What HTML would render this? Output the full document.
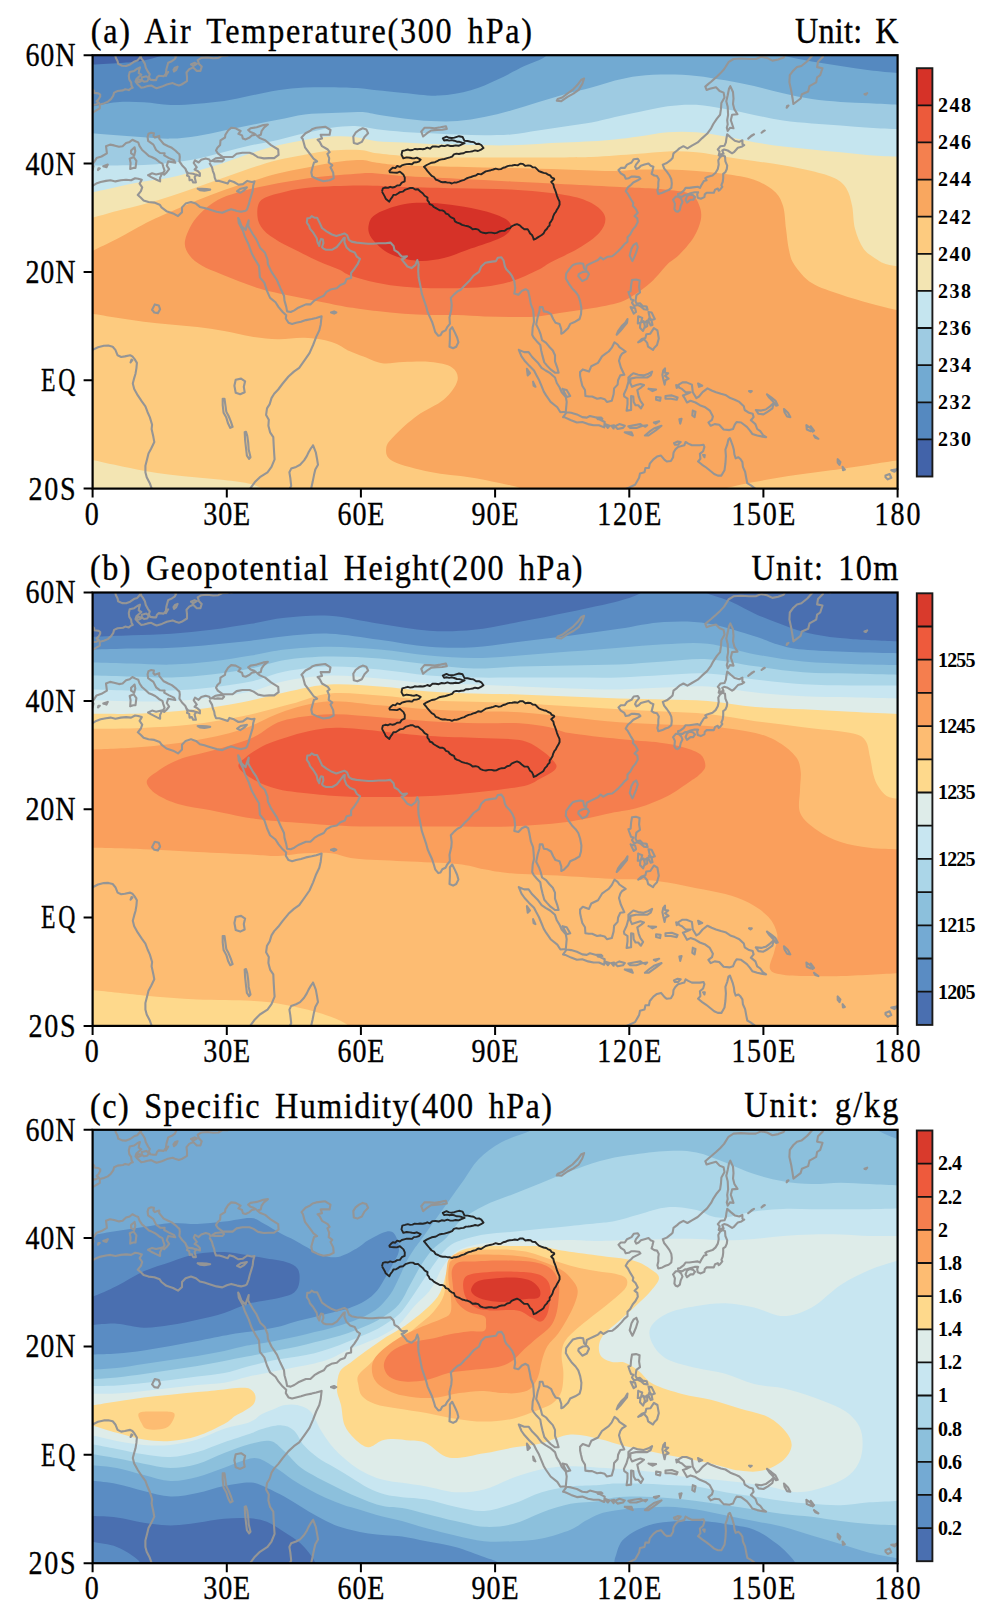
<!DOCTYPE html>
<html><head><meta charset="utf-8"><title>Figure</title><style>html,body{margin:0;padding:0;background:#fff}svg{display:block}</style></head><body>
<svg width="1006" height="1621" viewBox="0 0 1006 1621" font-family="&quot;Liberation Serif&quot;, serif">
<clipPath id="cp0"><rect x="92.6" y="55.2" width="805" height="433.4"/></clipPath>
<g clip-path="url(#cp0)">
<rect x="92.6" y="55.2" width="805" height="433.4" fill="#4263a9"/>
<path fill="#5589c0" d="M86 65C87.1 64.9 86.4 64.9 92.7 64.5C99 64.1 116 63.2 123.8 62.7C131.6 62.2 134.4 62.1 139.7 61.2C145 60.3 151.4 58.6 155.6 57.5C159.8 56.4 162.3 55.8 165 54.5C167.7 53.2 170.8 50.8 172 50L172 46L906 46L906 498L84 498L84 65Z"/>
<path fill="#72aad2" d="M84 107C85.5 106.9 87.2 107.2 92.7 106.4C98.2 105.6 108.3 103 116.8 102.3C125.3 101.6 134.8 101.8 143.7 102.3C152.6 102.8 161.6 104.8 170.5 105C179.4 105.2 188.5 104.4 197.4 103.7C206.3 103 215.3 102.3 224.2 101C233.1 99.7 242.1 97.4 251 95.6C259.9 93.8 268.9 91.6 277.9 90.3C286.8 89 295.8 88.1 304.7 87.6C313.6 87.1 322.3 87.1 331.5 87.2C340.7 87.3 352.4 87.7 360 88.2C367.6 88.7 369.5 89.5 376.8 90.3C384.1 91.1 393.4 92 403.7 92.9C414 93.8 427.4 96 438.6 95.6C449.8 95.2 461 93 470.8 90.3C480.6 87.6 488.7 83.5 497.6 79.5C506.5 75.5 516.8 69.7 524.4 66.1C532 62.5 538.6 60.7 543.2 58C547.8 55.3 550.5 51.3 552 50L762 48C763.6 49 767.9 53 771.4 54.3C774.9 55.6 776.3 54.6 783 55.8C789.7 57 802.2 59.8 811.8 61.5C821.4 63.2 831 64.5 840.6 65.9C850.2 67.4 859.8 69 869.4 70.2C879 71.4 892.2 72.5 898.3 73.1C904.4 73.7 904.7 73.8 906 74L906 498L84 498Z"/>
<path fill="#9ecbe2" d="M84 133C85.5 133 87.2 132.8 92.7 133.2C98.2 133.6 108.3 134.6 116.8 135.3C125.3 136 134.8 136.6 143.7 137.2C152.6 137.8 161.6 138.8 170.5 138.6C179.4 138.4 188.5 137.2 197.4 135.9C206.3 134.6 215.3 132.3 224.2 130.5C233.1 128.7 242.1 126.9 251 125.1C259.9 123.3 268.9 121.6 277.9 119.8C286.8 118 295.8 115.5 304.7 114.4C313.6 113.3 322.3 113.5 331.5 113.1C340.7 112.7 352.4 111.8 360 112C367.6 112.2 369.5 113.3 376.8 114.4C384.1 115.5 394.8 117.3 403.7 118.4C412.6 119.5 421.6 120.6 430.5 121.1C439.4 121.5 448.4 121.8 457.4 121.1C466.3 120.4 475.3 118.9 484.2 117.1C493.1 115.3 502.1 112.9 511 110.4C520 107.9 528.9 105 537.9 102.3C546.9 99.6 555.8 96.8 564.7 94.3C573.6 91.8 583.1 89.9 591.5 87.6C599.9 85.3 607.1 82.5 615 80.5C622.9 78.5 630 76.9 638.8 75.9C647.6 74.9 658.1 74.5 667.7 74.5C677.3 74.5 686.9 74.9 696.5 75.9C706.1 76.9 715.7 78.6 725.3 80.3C734.9 82 744.5 83.8 754.1 86C763.7 88.2 773.4 91 783 93.2C792.6 95.4 802.2 97.5 811.8 99C821.4 100.5 831 101.2 840.6 101.9C850.2 102.6 859.8 102.8 869.4 103.3C879 103.8 892.2 104.5 898.3 104.8C904.4 105.1 904.7 105 906 105L906 498L84 498Z"/>
<path fill="#c5e5ef" d="M84 165.4C85.5 165.4 87.2 165.4 92.7 165.4C98.2 165.4 108.3 165.5 116.8 165.4C125.3 165.3 134.8 165.4 143.7 165C152.6 164.6 161.6 163.8 170.5 162.7C179.4 161.6 188.5 160.5 197.4 158.7C206.3 156.9 215.3 154.2 224.2 152C233.1 149.8 242.1 147.3 251 145.3C259.9 143.3 268.9 141.9 277.9 139.9C286.8 137.9 295.8 135.2 304.7 133.2C313.6 131.2 323.1 129 331.5 127.8C339.9 126.6 347.4 125.8 355 126C362.6 126.2 368.7 128.2 376.8 129.2C384.9 130.2 394.8 131.2 403.7 131.9C412.6 132.6 421.6 132.8 430.5 133.2C439.4 133.6 448.4 134.2 457.4 134.5C466.3 134.8 475.3 135.3 484.2 135.3C493.1 135.3 502.1 135.3 511 134.5C520 133.7 528.9 131.8 537.9 130.5C546.9 129.2 555.8 127.8 564.7 126.5C573.6 125.2 583.1 124.1 591.5 122.5C599.9 120.9 607.1 118.8 615 117C622.9 115.2 630 113.8 638.8 112C647.6 110.2 658.1 107.4 667.7 106.2C677.3 105 686.9 104.3 696.5 104.8C706.1 105.3 715.7 107.4 725.3 109.1C734.9 110.8 744.5 113 754.1 114.9C763.7 116.8 773.4 119.2 783 120.6C792.6 122 802.2 122.7 811.8 123.5C821.4 124.3 831 124.8 840.6 125.5C850.2 126.2 859.8 127.2 869.4 127.8C879 128.4 892.2 129 898.3 129.3C904.4 129.6 904.7 129.5 906 129.5L906 498L84 498Z"/>
<path fill="#f3e5b3" d="M84 193.5C85.5 193.3 87.2 193.3 92.7 192.2C98.2 191.1 108.3 188.7 116.8 186.9C125.3 185.1 134.8 183.1 143.7 181.5C152.6 179.9 161.6 179.3 170.5 177.5C179.4 175.7 188.5 173.3 197.4 170.8C206.3 168.3 215.3 165.6 224.2 162.7C233.1 159.8 242.1 156.2 251 153.3C259.9 150.4 268.9 147.5 277.9 145.3C286.8 143.1 295.8 141.4 304.7 139.9C313.6 138.4 323.1 137 331.5 136.5C339.9 136 347.4 136.2 355 137C362.6 137.8 368.7 140.4 376.8 141.3C384.9 142.2 394.8 142.2 403.7 142.6C412.6 143 421.6 143.6 430.5 143.9C439.4 144.2 448.4 144.3 457.4 144.5C466.3 144.7 475.3 145.2 484.2 145.3C493.1 145.4 502.1 145.5 511 145.3C520 145.1 528.9 144.4 537.9 143.9C546.9 143.4 555.8 143 564.7 142.6C573.6 142.2 583.1 141.8 591.5 141.3C599.9 140.8 607.1 140.3 615 139.5C622.9 138.7 630 137.7 638.8 136.5C647.6 135.3 658.1 132.9 667.7 132.2C677.3 131.5 686.9 131.5 696.5 132.2C706.1 132.9 715.7 134.8 725.3 136.5C734.9 138.2 744.5 140.5 754.1 142.2C763.7 143.9 773.4 145.4 783 146.6C792.6 147.8 802.2 148.6 811.8 149.5C821.4 150.4 831 151.4 840.6 152.3C850.2 153.2 859.8 154.5 869.4 155.2C879 155.9 892.2 156.4 898.3 156.7C904.4 157 904.7 156.9 906 157L906 498L84 498Z"/>
<path fill="#fdcb7f" d="M84 219.5C85.5 219.2 87.2 219.1 92.7 217.7C98.2 216.3 108.3 213.2 116.8 211C125.3 208.8 134.8 206.8 143.7 204.3C152.6 201.9 161.6 199.2 170.5 196.3C179.4 193.4 188.5 190 197.4 186.9C206.3 183.8 215.3 180.6 224.2 177.5C233.1 174.4 242.1 171 251 168.1C259.9 165.2 268.9 162.2 277.9 160C286.8 157.8 295.8 156.3 304.7 154.7C313.6 153.1 322.3 151.4 331.5 150.6C340.7 149.8 352.4 149.6 360 150C367.6 150.4 369.5 152.3 376.8 153.3C384.1 154.3 394.8 155.3 403.7 156C412.6 156.7 421.6 157.2 430.5 157.4C439.4 157.6 444 157.4 457.4 157.4C470.8 157.4 493.1 157.4 511 157.4C528.9 157.4 551.3 157.5 564.7 157.4C578.1 157.3 583.1 157.3 591.5 157C599.9 156.7 607.1 156 615 155.5C622.9 155 630 154.5 638.8 153.8C647.6 153.1 658.1 151.8 667.7 151.5C677.3 151.2 686.9 151.4 696.5 152.3C706.1 153.2 715.7 155.2 725.3 156.7C734.9 158.1 744.5 159.6 754.1 161C763.7 162.4 773.4 163.6 783 165.3C792.6 167 803.2 168.9 811.8 171.1C820.4 173.3 829 175.4 834.8 178.3C840.6 181.2 843.5 183.8 846.4 188.4C849.3 193 850.7 199 852.1 205.7C853.5 212.4 853.1 221.5 855 228.7C856.9 235.9 859.9 243.7 863.7 248.9C867.6 254.2 874.3 257.6 878.1 260.2C881.9 262.8 883.3 263.2 886.7 264.3C890.1 265.4 895.1 266.1 898.3 266.5C901.5 266.9 904.7 266.9 906 267L906 498L272 498L270 495C269.1 494.2 267.7 491.8 264.5 490C261.3 488.2 257.7 485.8 251 484.1C244.3 482.5 233.1 481.2 224.2 480.1C215.3 479 206.3 478.3 197.4 477.4C188.5 476.5 179.4 475.8 170.5 474.7C161.6 473.6 152.6 472.3 143.7 470.7C134.8 469.1 125.3 467.1 116.8 465.3C108.3 463.5 98.2 461.2 92.7 460C87.2 458.8 85.5 458.3 84 458Z"/>
<path fill="#f9a75f" d="M84 258C85.5 256.8 87.2 254.2 92.7 251C98.2 247.8 107.2 244 116.8 239C126.3 234 141.1 225.5 150 221C158.9 216.5 162.1 215.3 170 211.9C177.9 208.5 188.4 204 197.4 200.3C206.4 196.7 215.3 193.1 224.2 190C233.1 186.9 242.1 184.2 251 181.5C259.9 178.8 268.9 175.7 277.9 173.5C286.8 171.3 295.8 169.9 304.7 168.1C313.6 166.3 322.3 164 331.5 162.7C340.7 161.3 352.4 160 360 160C367.6 160 369.5 161.8 376.8 162.7C384.1 163.6 390.3 164.7 403.7 165.4C417.1 166.1 439.5 166.2 457.4 166.7C475.3 167.1 493.1 167.6 511 168.1C528.9 168.6 547.4 168.9 564.7 169.4C582 169.9 602.6 171 615 171C627.4 171 630 169.8 638.8 169.6C647.6 169.4 658.1 169.3 667.7 169.6C677.3 169.8 686.9 170.4 696.5 171.1C706.1 171.8 715.7 172.6 725.3 174C734.9 175.4 745.9 176.8 754.1 179.7C762.3 182.6 769.5 187 774.3 191.3C779.1 195.6 781 199.5 783 205.7C785 211.9 785 221.3 786 228.7C787 236.1 787.6 243.9 789 250C790.4 256.1 790.7 259.5 794.5 265C798.3 270.5 804.1 278.2 811.8 283.1C819.5 288 831 291.2 840.6 294.6C850.2 298 859.8 300.6 869.4 303.2C879 305.8 892.2 309 898.3 310.4C904.4 311.8 904.7 311.3 906 311.5L906 459.5C904.7 459.6 904.4 459.4 898.3 460.3C892.2 461.2 879 463.2 869.4 464.7C859.8 466.1 852.6 467.3 840.6 469C828.6 470.7 811.8 472.6 797.4 474.8C783 477 767.1 479.5 754.1 482C741.1 484.5 726.5 487.7 719.5 490C712.5 492.3 713.2 495 712 496L712 498L530 498L530 496C529.1 495 527.6 491.8 524.4 490C521.2 488.2 519.9 487.5 511 485.4C502.1 483.3 484.2 479.6 470.8 477.4C457.4 475.2 443.5 474.7 430.5 472C417.5 469.3 400.3 465.3 392.9 461.3C385.5 457.3 385.8 452.4 386.2 447.9C386.6 443.4 390.5 439.9 395.6 434.5C400.8 429.1 409.1 421.5 417.1 415.7C425.2 409.9 437.2 405.4 443.9 399.6C450.6 393.8 456 386.2 457.4 380.8C458.8 375.4 456.5 370.5 452 367.4C447.5 364.3 438.6 362.9 430.5 362C422.4 361.1 411.8 361.8 403.7 362C395.6 362.2 388.9 364.2 382.2 363.3C375.5 362.4 368.8 358.6 363.4 356.6C358 354.6 355.3 353.8 350 351.3C344.7 348.9 339.1 344.1 331.5 341.9C323.9 339.6 313.6 338.2 304.7 337.8C295.8 337.4 286.8 339.4 277.9 339.2C268.9 339 259.9 337.9 251 336.5C242.1 335.1 233.1 332.7 224.2 331.1C215.3 329.5 206.3 328.2 197.4 327.1C188.5 326 179.4 325.3 170.5 324.4C161.6 323.5 152.6 322.8 143.7 321.7C134.8 320.6 125.3 319 116.8 317.7C108.3 316.4 98.2 314.6 92.7 313.7C87.2 312.8 85.5 312.7 84 312.5Z"/>
<path fill="#f4804f" d="M184.8 243.7C184.8 239 187.3 232.8 189.8 227.8C192.3 222.8 195.1 218.5 199.7 213.9C204.3 209.3 211.3 203.6 217.6 200C223.9 196.4 229.8 194.8 237.6 192.5C245.4 190.2 255.6 187.9 264.5 186C273.4 184.1 282.4 182.5 291.3 181C300.2 179.5 306.7 178.2 318.1 177C329.6 175.8 350.2 174.1 360 173.5C369.8 172.9 369.5 173.1 376.8 173.5C384.1 173.9 390.3 175.2 403.7 176.1C417.1 177 439.5 177.9 457.4 178.8C475.3 179.7 493.1 180.6 511 181.5C528.9 182.4 546.5 183.3 564.7 184.2C582.9 185.1 607.6 186.3 620 186.9C632.4 187.5 630.8 187.3 638.8 187.8C646.8 188.3 659.1 188.8 667.7 189.8C676.4 190.9 685.4 191.4 690.7 194.1C696 196.8 697.7 201.4 699.4 205.7C701.1 210 701.8 214.8 700.8 220.1C699.8 225.4 697.2 231.6 693.6 237.4C690 243.2 683.5 250.3 679.2 254.7C674.9 259.1 672 259.8 667.7 264C663.4 268.2 658 275.6 653.2 280.2C648.4 284.8 643.6 288.3 638.8 291.7C634 295.1 629.2 298.2 624.4 300.4C619.6 302.6 615.5 303.4 610 304.7C604.5 306 599 307 591.5 308.3C584 309.6 573.6 311 564.7 312.3C555.8 313.6 546.9 315.6 537.9 316.4C528.9 317.2 520 316.9 511 316.9C502.1 316.9 493.1 316.7 484.2 316.4C475.3 316.1 466.3 315.2 457.4 315C448.4 314.8 439.4 315.2 430.5 315C421.6 314.8 412.6 314.4 403.7 313.7C394.8 313 385.8 312.1 376.8 311C367.9 309.9 356.3 308.3 350 307.4C343.7 306.5 344.1 306.4 338.9 305.4C333.7 304.4 325.6 302.7 319 301.4C312.4 300.1 305.7 298.7 299.1 297.4C292.5 296.1 285.8 294.9 279.2 293.4C272.6 291.9 265.9 290.5 259.3 288.5C252.7 286.5 246.1 284 239.5 281.5C232.9 279 225.9 276.2 219.6 273.6C213.3 271 206.7 268.6 201.7 265.6C196.7 262.6 192.6 259.4 189.8 255.7C187 252 184.8 248.3 184.8 243.7Z"/>
<path fill="#ec5a3b" d="M257.4 215.9C257.1 210.9 257 203.9 261.3 200C265.6 196.1 275.1 194.3 283.2 192.2C291.3 190.1 297.3 188.6 310.1 187.5C322.9 186.4 344.4 185.6 360 185.5C375.6 185.4 387.5 186.5 403.7 186.9C419.9 187.3 439.5 187.8 457.4 188.2C475.3 188.6 493.1 188.5 511 189.6C528.9 190.7 551.3 192.7 564.7 194.9C578.1 197.1 584.8 199.4 591.5 203C598.2 206.6 603.6 211.5 605 216.4C606.4 221.3 604.1 227.1 599.6 232.5C595.1 237.9 586.2 243.7 578.1 248.6C570 253.5 558 258.4 551.3 262C544.6 265.6 544.6 266.9 537.9 270.1C531.2 273.4 520 278.7 511 281.5C502.1 284.3 493.1 285.7 484.2 286.8C475.3 287.9 466.3 288 457.4 288.2C448.4 288.4 439.4 288.4 430.5 288.2C421.6 288 412.6 287.7 403.7 286.8C394.8 285.9 385.8 284.7 376.8 282.8C367.9 280.9 356.3 277.7 350 275.5C343.7 273.3 344.1 271.9 338.9 269.6C333.7 267.3 325.6 264.6 319 261.6C312.4 258.6 305.7 255 299.1 251.7C292.5 248.4 285.2 245.3 279.2 241.7C273.2 238 266.9 234.1 263.3 229.8C259.7 225.5 257.7 220.9 257.4 215.9Z"/>
<path fill="#d63228" d="M368.8 224.4C369.7 220.4 371 217 376.8 213.7C382.6 210.3 394.8 206.1 403.7 204.3C412.6 202.5 421.6 202.8 430.5 203C439.4 203.2 448.4 204.4 457.4 205.7C466.3 207 476.1 208.8 484.2 211C492.2 213.2 501.2 216.2 505.7 219.1C510.2 222 511.9 225.4 511 228.5C510.1 231.6 507 234.6 500.3 237.9C493.6 241.2 480.2 245.2 470.8 248.6C461.4 251.9 452.8 256 443.9 258C434.9 260 426 261.4 417.1 260.7C408.2 260 397.9 257.8 390.3 254C382.7 250.2 375.1 242.8 371.5 237.9C367.9 233 367.9 228.4 368.8 224.4Z"/>
<path d="M92.6 105L96.2 104.5L98.9 102.9L96.6 101.2L98.4 99.6L100.2 96.4L100.2 94.7L98.4 93.4L93.9 92.9L94.2 91L92.6 89.6M92.6 112.6L97.1 109.9L99.8 108.3L99.8 104.5L103.8 103.4L107.8 101.8L110.9 99.1L113.2 95.8L114.1 92.6L117.6 91L123 90.4L125.2 89.3L128.8 90.1L131.1 88.2L132.8 87.7L131.5 85.5L131.1 82.3L129.3 79.6L128.8 75.8L129.7 72L134.2 70.9L137.3 68.7L140 67.4L139.1 70.4L138.7 73.1L141.3 74.7L138.7 76.9L136.4 79L135.5 81.7L137.3 83.9L141.3 87.7L144 87.2L147.6 86.1L151.2 85.5L154.3 87.2L156.6 88.2L161.9 86.6L166.8 84.5L172.7 83.1L175.8 84.5L178.9 85.5L181.6 84.5L187 81.2L187 76.9L186.5 72.5L189.2 69.3L193.2 67.4L196.8 70.9L200.4 70.9L201.7 66.6L199 63.9L197.7 60.1L201.3 57.9L207.1 57.4L213.3 58.2L218.3 57.9L222.3 55.7L227.7 55.5L223.6 54.4L220.1 52.5M141.8 77.4L146.3 76.3L148.9 78.5L147.2 81.2L144 81.7L141.8 80.1L141.8 77.4M136.4 79.6L139.6 79.6L140.9 81.2L138.7 82.3L136.4 81.2L136.4 79.6M115 54.1L115.9 57.9L117.6 61.2L118.1 63.9L122.1 65.8L126.1 66L130.2 64.4L134.6 61.4L137.3 60.6L139.6 57.9L140.7 55.7L141.3 58.5L142.7 60.1L144.9 63.9L145.8 67.7L148.1 72L149.8 74.2L148.9 76.9L150.3 79.6L153.4 80.1L156.1 80.1L157 77.4L158.8 75.8L163.7 76.3L165.9 73.6L166.4 69.3L167.3 66L168.2 62.8L171.8 61.2L174.9 59L176.2 56.3L172.7 54.1L170.9 51.4M174 71.5L176.2 69.8L177.6 66.6L174.9 67.7L173.5 69.8L174 71.5M165.9 75.8L168.2 72L166.8 73.1L165.9 75.8M191 64.4L194.6 62.8L196.8 63.9L193.2 66L191 64.4M226.8 52.5L231.2 55.2L237.9 53.6L239.3 50.3L235.7 48.7M92.6 170.1L93.5 166.3L92.6 164.1L94.8 160.8L96.6 158.1L101.5 156.5L106.9 153.3L106.5 150L106 146.2L110 144.6L114.1 145.4L119 146.8L122.6 146.2L126.1 143L129.7 141.9L132.4 139.7L135.5 141.3L138.2 142.4L139.6 146.2L142.2 150L145.4 152.7L148.9 156L151.6 157L155.2 158.7L157.4 160.3L159.2 161.9L162.4 163.6L163.3 166.8L164.6 170.6L162.8 173.3L164.2 174.7L166.8 172.2L169.1 169.2L166.8 165.7L168.2 161.4L170.9 161.9L175.3 162.7L174 160.3L169.1 158.1L164.2 155.4L164.6 153.3L160.1 153L156.1 150L153.4 144.6L148.1 140.8L147.6 137L148.5 133.8L151.2 132.7L153.9 133.2L153.4 135.9L154.8 137.5L159.2 135.9L159.2 138.6L163.7 144L168.2 146.2L171.8 147.8L175.3 150.5L177.6 152.7L179.4 154.3L179.8 157L179.4 161.4L182 165.2L185.2 168.4L187 172.8L189.2 173.3L193.2 173.8L196.4 174.9L194.6 177.1L195.9 182.5L193.2 182.5L191.9 179.8L189.6 180.3L189.2 176.6L187 175.5L187.9 172.8L186.5 171.1L185.6 169M196.4 174.7L199.9 176L199.9 173.3L197.7 171.1L194.6 169.5L196.8 167.3L193.7 163L195 160.3L198.6 162.5L201.3 159.8L205.7 158.4L209.3 159.5L210.2 161.4L212 160.8L214.7 161.4L217.8 161.1L222.3 161.4L224.1 159.5L222.3 157.6L217.8 158.1L215.6 158.4L212.5 160.3M209.8 163.6L212 167.3L212.9 171.1L214.2 174.4L214.7 177.6L216 180.9L219.2 180.9L222.7 182L227.7 183.6L229.4 180.6L233.9 182L238.4 184.7L242.9 184.1L247.3 180.9L251.8 182L254.5 181.4L253.2 185.8L252.7 190.6L251.4 195L249.6 200.9L248.7 204.7L246.9 209.6L245.6 210.7L241.1 211.8L237.1 211L231.2 209.3L226.8 210.7L222.3 212.8L216.5 211.8L208 209.1L204.4 208L199.9 206.9L195.9 203.6L191 202L185.6 203.6L182 207.4L182 212.3L178 216.1L173.1 213.4L166.4 211.2L161.5 207.4L159.7 204.7L154.3 202.6L148.5 202L143.6 200.4L140.9 197.7L137.8 195L140.9 191.2L142.2 187.4L139.6 183.6L141.8 179.8L138.2 178.7L135.1 178.2L131.1 180.3L126.1 179.8L120.8 180.3L115.4 181.4L110.5 180.3L106 180.9L100.6 182L96.2 183.6L92.6 185.8M148.1 175.2L152.1 173.3L156.1 174.4L162.4 173L160.1 177.6L160.1 181.4L156.6 179.8L151.2 177.1L148.1 175.2M130.2 169L133.3 167.9L135.5 167.9L136.4 160.8L133.7 157L129.7 158.7L130.6 163L130.2 169M131.1 153.3L134.2 155.4L135.3 151.1L134.6 147.3L131.1 150.5L131.1 153.3M197.7 188.7L201.7 188.7L206.6 189L210.2 189.6L204.4 190.6L199.9 190.1L197.7 188.7M237.1 191.2L240.6 188.7L246.9 187.4L244.2 190.4L240.2 192.8L237.1 191.2M98 170.1L99.8 168.4L98.4 168.4L98 170.1M103.3 166.3L107.8 164.6L106.5 167.3L103.3 166.3M217.8 153.3L216 150.5L217.4 147.8L220.1 145.1L220.5 140.3L225 137.5L225.4 134.8L228.1 130.5L231.2 127.8L235.7 128.3L240.6 131L238.4 133.8L242 135.4L242.9 138.6L245.6 139.4L249.6 137.5L251.8 135.4L255.8 134.6L253.6 133.2L250.5 132.1L248.2 130L250.5 128.3L256.7 127.3L263.4 125.1L267.9 124.5L263.9 127.8L261.6 131L260.8 134.8L257.2 135.9L259.9 138.1L265.2 140.3L271 145.1L278.2 149.5L278.6 154.9L274.2 158.1L269.3 158.1L263.9 158.4L258.1 157.3L253.6 154.3L249.6 152.7L242.4 152.7L236.6 153.8L232.6 157L226.8 157L222.7 156.8L217.8 153.3M302.8 139.2L305 147.3L309.9 153.8L313.5 158.7L317.1 161.4L314 162.5L312.6 167.3L311.3 172.2L312.2 176.6L317.6 179.3L323.4 181.2L329.6 180.3L333.7 178.2L333.2 172.8L330.5 167.3L332.3 165.2L328.7 162.5L329.2 158.1L327.4 153.8L329.6 152.2L327.8 149.5L322 146.2L319.8 141.9L317.6 139.7L322 138.6L320.7 134.8L329.6 134.8L330.5 130L325.2 126.7L316.2 127.8L312.6 128.9L309.9 131L305.5 133.2L301.5 137.5L302.8 139.2M353.3 136.5L355.6 132.7L359.1 130L362.7 128.3L366.3 129.4L368.1 133.2L364.5 137L361.8 141.9L357.4 144L353.8 143L353.3 136.5M421.3 131.6L424.4 127.8L429.8 127.8L434.7 128.3L440.5 127.3L445.9 126.2L446.8 128.9L442.3 129.7L437 130L431.1 130.5L427.1 133.2L423.1 136.5L421.3 131.6M556.8 100.7L561.3 101.2L567.5 96.9L573.4 93.7L578.7 89.9L582.3 83.9L584.1 78.5L581.4 79.6L577.8 84.5L572.5 89.9L568 93.1L562.2 97.5L557.7 99.1L556.8 100.7M92.6 349.9L98 347.2L103.8 345.8L108.3 345.6L112.7 346.7L115.4 349.9L117.6 355.3L121.2 357L124.8 356.4L130.2 355.3L132.4 356.4L134.6 359.1L136.9 362.9L136.4 368.3L135.5 373.7L134.2 378.1L132.8 383.5L134.2 388.9L137.8 395.4L141.8 401.4L145.4 406.3L147.6 412.2L149.8 417.1L152.1 424.7L151.6 429L153.4 437.1L154.3 442L151.2 448.5L148.5 453.4L147.2 458.8L145.4 465.8L145.4 472.3L146.7 477.2L149.8 483.2L152.1 489.7M130.6 362.4L132.4 360.2L131.5 359.7L130.6 362.4M238.2 218L238.8 223.1L242.9 230.7L244.7 236.1L248.7 244.8L251.8 253.5L255.4 260L259 265.9L259.9 277.3L264.3 282.7L267 290.9L270.1 297.9L275.5 302.2L278.6 307.1L282.7 312L286.2 315.2L285.8 318.5L288.5 322.8L292.1 323.9L296.1 322.8L301 321.7L305.9 320.1L311.7 319L316.2 317.9L321.6 316.3L321.1 320.7L320.7 324.4L319.3 330.4L316.2 336.9L313.1 345L309.5 353.2L305 359.7L299.2 367.8L293.9 371.6L288.5 376.5L282.7 383.5L278.2 389.5L274.2 393.8L271.5 398.1L269.7 404.1L267 408.4L266.1 414.9L268.8 419.8L268.4 425.8L270.1 432.3L273.3 437.1L273.7 445.3L274.2 453.9L274.6 459.3L271.5 466.9L267.5 472.3L259.9 477.2L254.9 482.1L250.5 488.1L248.7 491.3M313.1 445.3L315.8 452.3L317.1 459.3L318 464.8L315.3 469.6L314 475.1L312.6 482.1L310.4 491.9L308.2 499.4L289.4 499.4L288.5 491.3L291.2 485.9L290.3 477.8L289.4 472.3L291.2 468.6L296.1 466.9L300.1 464.8L304.1 460.4L306.8 456.1L308.6 452.3L310.8 448.5L313.1 445.3M331 312.5L334.1 311.4L336.3 312.5L334.1 313.6L331 312.5M152.1 309.8L154.8 304.4L158.8 305.5L160.1 309.3L157.9 313.1L154.3 312.5L152.1 309.8M234.4 385.7L235.7 379.7L241.1 378.6L245.1 381.3L243.8 386.8L244.7 392.2L240.2 394.3L235.7 392.7L234.4 385.7M222.7 398.7L222.7 405.2L223.6 412.8L226.3 417.6L228.1 423.6L230.3 427.9L232.6 426.8L230.8 421.4L228.6 416L226.3 411.7L225.4 405.2L224.5 398.7L222.7 398.7M244.7 432.3L245.1 439.8L246 448L246.9 455.6L249.1 458.8L250.5 457.2L248.7 449.6L248.2 442.6L247.3 436.1L246 431.7L244.7 432.3M238.2 218L239.3 219.9L241.5 225.9L245.6 229.9L246.4 226.9L248.7 220.4L248.2 225.9L249.6 228.6L252.7 234L256.3 239.4L260.3 248.1L264.8 252.4L267.5 259.4L267.9 264.3L271.5 271.9L276.9 280L280.4 288.2L284 295.7L284.5 300.6L286.2 306.6L287.1 311.4L290.7 312L294.3 310.4L298.3 307.7L305.9 304.4L310.4 304.4L314.4 300.6L318.9 297.9L323.8 295.7L326.5 291.9L331.4 289.2L336.8 288.2L340.4 284.9L344.8 283.3L346.6 278.9L351.1 277.9L351.1 273L354.2 269.2L357.8 263.8L360 258.9L356.9 256.7L354.7 252.4L350.2 250.8L346.6 247.5L344.4 242.1L344.8 237.8L343.5 238.3L340.8 242.1L336.8 247L332.3 249.7L326 249.7L323.4 248.6L322 247L323.4 243.2L322.9 239.4L321.1 238.9L319.8 242.1L319.3 245.9L317.6 242.6L316.7 238.3L314.4 234.5L313.1 232.4L309.9 228.6L309.1 225.9L306.8 222.6L307.3 218.3L309.9 218L311.7 216.1L314.4 217.7L317.1 217.7L319.8 223.1L322 228L326.5 231.3L331.9 234.5L336.3 236.1L341.3 234.5L344.4 233.4L347.1 235.1L348.9 239.9L351.5 241.6L356.5 242.6L362.7 243.2L368.1 243.7L372.6 243.7L378.8 243.2L385.5 243.2L390.4 242.6L393.6 245.9L394.5 250.2L398.1 252.4L400.3 255.1L402.1 256.7L407 256.2L404.3 258.4L401.6 259.4L403.9 262.1L407.4 266.5L411.5 268.1L415.5 264.9L417.3 260L418.6 264.3L418.2 270.8L418.6 277.3L420.4 286L421.8 293.6L424 300.1L426.2 306.6L427.6 312L429.8 316.9L432 321.7L433.8 327.2L435.2 332L438.3 335.8L440.5 335.3L442.3 332L445.5 330.4L447.2 327.2L449.9 323.9L449.5 317.4L451.3 309.8L451.7 304.9L450.8 297.9L454.4 294.1L457.5 291.4L460.7 289.8L464.7 285.4L469.2 281.1L473.6 275.7L479 271.9L481.2 266.5L485.3 262.7L488.8 262.1L492 261.6L496 261.1L497.8 257.8L501.4 257.3L503.6 260.5L504.9 266.5L506.3 269.2L509.4 272.4L512.1 276.2L514.3 281.1L515.2 288.2L514.3 293.6L518.4 294.7L521.9 290.9L525.5 289.2L528.2 290.9L529.5 296.8L530.9 304.4L533.1 309.8L533.6 315.2L534 321.7L532.7 327.2L532.2 334.7L533.6 337.5L536.7 341.2L540.3 345L541.2 350.5L542.5 355.9L544.3 362.4L547 365.6L550.6 369.4L555 372.7L558.6 372.7L557.3 367.8L555 361.3L555 355.3L552.8 350.5L549.2 346.7L546.1 342.9L542.1 340.2L540.7 334.7L538.9 329.9L536.2 324.4L537.6 317.4L539.4 311.4L539.8 307.1L542.5 307.1L543.8 311.4L547.4 312L551 314.2L553.2 319L555.5 322.8L559.5 323.9L561.3 329.3L561.3 333.7L563.5 332.6L568 328.2L570.2 323.9L575.2 321.7L579.6 319L581 314.2L581.4 308.2L580.1 301.2L578.3 295.7L575.6 291.9L572 288.2L568.9 283.8L565.8 278.4L566.2 273.5L569.3 269.2L572.9 264.9L576.5 263.8L580.1 263.2L583.2 263.8L584.1 268.6L585.9 270.3L586.8 265.4L589.9 263.8L593.5 262.1L598 260L600.6 257.3L603.3 259.4L607.8 256.7L612.3 256.2L615 254L618.1 251.3L621.7 247.5L624.3 244.3L627.5 241.6L627.5 237.2L630.2 234.5L632.8 229.6L635.5 226.4L637.8 222.1L637.3 218.3L634.6 216.1L637.8 212.8L635.5 208.5L632.8 205.8L633.3 203.1L630.6 198.8L627.9 193.9L625.7 191.2L627.9 187.4L631.1 184.7L633.3 182.5L637.8 180.3L640.4 178.7L639.1 177.1L634.6 176.6L631.5 176.6L628.8 178.2L625.7 178.7L624.3 175.5L620.8 173.3L618.5 170.1L620.8 167.9L624.8 167.9L627 164.6L631.5 162.5L633.7 159.2L637.8 158.7L639.1 160.8L636 164.6L635.1 166.8L636.4 169L638.7 167.9L640.9 165.7L644.5 164.6L648.5 163.6L650.7 165.7L653.4 166.8L652.5 170.6L651.6 173.8L654.3 175.5L657 176L658.8 179.3L658.3 182.5L658.3 186.8L657.4 190.6L658.3 193.9L662.4 192.8L665.5 191.2L668.6 190.1L671.3 187.9L671.8 183.6L671.3 179.3L669.5 175.5L666.8 171.7L664.1 168.4L662.8 164.6L666.8 163L670.9 159.8L672.6 158.1L673.5 153.3L677.1 150.5L679.4 148.4L683.4 146.2L687.4 148.4L691.9 145.7L697.7 142.4L702.2 138.1L707.1 133.8L711.1 128.3L713.3 124L716.9 118.6L720.1 114.8L720.9 109.4L721.4 102.9L724.5 97.5L723.6 92.6L719.6 91L716 87.2L709.8 88.8L706.6 89.9L705.3 86.6L708.4 83.9L711.1 81.7L716 77.4L720.1 73.6L724.1 69.3L728.5 62.2L733.5 59L741.1 58.5L749.1 59L755.8 59L761.2 56.8L767 57.9L772.4 60.6L778.2 59.5L783.6 57.4L785.8 53.6L790.3 48.2M823.8 52.5L822.9 56.8L818 61.7L817.1 67.1L822.5 68.2L820.2 75.2L817.1 77.4L816.2 82.3L809.5 86.1L808.2 91.5L801.9 94.2L800.6 98.5L793.4 104L792.5 98L791.2 90.4L789.4 82.3L789.8 75.2L793.4 70.4L797 67.1L801.4 66L807.3 61.2L812.6 55.2L816.7 53M830.5 55.2L826 53.6L823.8 52.5M727.7 131L729.9 127.8L733.5 128.3L732.1 124L730.8 120.2L732.1 114.8L737.5 114.3L734.4 109.4L733 104L733.5 98.5L733 92L730.3 86.1L729 88.8L727.7 95.3L726.3 101.2L727.7 106.7L728.1 114.8L727.2 120.2L727.7 124.5L726.8 127.8L727.7 131M748.2 138.6L750.9 136.5L754 134.3L751.8 135.4L748.2 138.6M761.6 132.7L764.8 130.5L763.4 131L761.6 132.7M786.7 107.7L788.5 105.6L787.1 106.1L786.7 107.7M864.5 94.2L867.2 93.1L865.8 94.7L864.5 94.2M718.7 155.4L719.6 151.6L717.8 149.5L720.5 146.2L724.5 145.7L725.9 142.4L726.3 139.2L727.2 134.3L730.8 137.5L734.8 140.8L739.3 141.9L742.4 140.3L742.4 144L744.2 145.1L741.5 146.8L737.9 147.8L733.9 152.2L732.1 153.3L727.7 150.5L724.1 149.5L722.3 150.5L723.6 153.8L720.9 154.3L718.7 155.4M722.7 155.4L725 156.5L725.4 161.4L727.2 165.7L726.8 169L725.4 172.2L723.2 173.8L723.2 178.2L722.7 182L721.4 185.2L722.3 186.8L720.1 189.6L718.7 190.6L717.8 188.5L715.1 189.6L713.8 192.8L711.1 192.8L706.6 192.8L704.8 194.4L704.4 197.1L700.8 198.8L697.7 197.7L697.2 194.4L698.1 192.3L694.6 192.3L690.5 193.3L687.4 194.4L684.7 195L682.5 196.6L678.5 196.3L678 193.9L680.2 193.3L683.8 190.6L685.6 187.9L689.2 187.9L692.8 187.4L697.7 186.8L699.9 187.9L701.3 185.2L704 180.9L706.6 180.3L705.3 178.2L707.1 177.1L712.5 175.5L715.6 172.8L717.8 169L718.7 164.6L718.3 160.3L720.1 157L722.7 155.4M685.6 199.8L687 202.6L690.5 199.8L693.2 199.8L695 197.1L692.8 195L689.6 194.4L687 196.1L685.6 199.8M673.1 199.8L674.9 203.6L674.4 209.1L675.8 211.2L677.6 211.8L679.8 210.1L680.7 205.8L682.5 202L681.1 198.8L678.5 196.6L675.8 196.6L673.1 199.8M629.7 255.6L632.4 261.1L633.7 258.4L636 252.9L637.8 247L636.4 243.2L633.7 244.8L631.5 248.6L629.7 255.6M578.3 276.2L582.3 281.1L586.8 278.9L589 274.1L587.2 271.4L582.8 271.9L578.7 274.1L578.3 276.2M449.5 346.7L449.9 339.1L449.9 329.9L452.2 327.2L454.9 332.6L457.1 337.5L458.4 342.3L456.2 346.7L453.1 348.3L449.5 346.7M518.8 349.9L524.2 352.1L528.6 352.1L532.2 357L537.6 362.4L541.6 367.8L545.6 370.5L550.1 373.2L555 377.5L556.8 383L559.5 387.3L561.7 392.2L565.8 397L566.7 401.9L565.8 411.7L560.4 412.2L557.3 407.3L550.6 401.9L546.1 395.4L543.8 391.6L541.6 386.2L538.9 379.7L536.2 374.8L534 370.5L529.1 365.6L524.6 360.7L521.5 356.4L518.8 349.9M526.9 368.9L530 373.2L527.7 375.4L526.9 368.9M533.1 381.9L535.4 386.8L533.6 385.7L533.1 381.9M562.6 388.9L566.7 390L570.2 396L566.7 397L562.6 388.9M563.1 417.1L566.7 412.2L571.1 412.8L576.9 414.4L582.3 417.1L586.8 417.6L589.9 416L596.2 417.6L600.2 419.8L604.7 422L604.2 427.4L598.9 425.2L593.5 425.2L588.1 424.1L582.3 422L576.9 422.5L571.1 420.3L565.3 417.6L563.1 417.1M596.6 417.6L601.1 417.6L602.4 418.7L598 419.3L596.6 417.6M604.7 424.1L609.6 425.8L607.8 427.9L604.7 424.1M611.4 425.8L614.1 425.2L613.6 428.5L611.4 425.8M615 426.3L619.4 424.1L624.8 425.8L623 427.9L617.6 429L615 426.3M628.4 426.3L633.7 425.2L640.4 424.1L642.7 425.8L636.4 427.9L630.2 427.9L628.4 426.3M624.8 432.3L631.5 432.3L632.8 435.5L627 433.3L624.8 432.3M644.9 435.5L649.4 431.7L653.9 428.5L661.5 425.8L656.1 430.1L648.5 435.5L644.9 435.5M643.6 425.8L647.2 425.2L645.4 426.8L643.6 425.8M653.9 422.5L659.2 421.4L655.7 423.6L653.9 422.5M580.1 372.1L582.8 369.4L589 371.6L591.3 366.2L598 362.9L602 356.4L605.6 353.7L608.7 351.5L611.8 347.7L614.5 342.3L617.6 344.5L619.4 347.2L625.7 351.5L622.1 353.7L620.3 356.4L619 360.7L620.8 367.2L624.3 374.8L620.3 375.4L618.1 380.2L617.6 384.6L614.1 388.4L613.6 394.3L611.8 400.8L606.9 401.9L604.7 399.2L600.6 398.1L597.1 398.7L592.1 396.5L589 396.5L585.4 396L585 390L582.3 385.7L581 380.2L580.1 375.9L580.1 372.1M626.6 410.6L627.5 404.1L627.5 398.7L624.3 396.5L623.9 394.3L626.6 388.4L628.4 381.9L628.4 377.5L630.6 375.4L633.3 373.2L638.2 374.8L643.6 375.4L648.5 373.7L652.1 371.6L650.7 375.4L647.2 377.5L641.8 377.5L636 377.5L630.6 378.6L630.2 383L632 386.8L636.4 385.1L640.4 384L644 385.1L641.3 387.3L637.3 390L638.7 396.5L640.4 400.8L643.1 404.6L640.9 408.4L638.2 405.2L635.5 405.2L633.7 401.9L633.3 396.5L631.1 396L631.1 405.2L631.1 410L626.6 410.6M663.3 370.5L665 368.3L665 372.7L668.2 373.2L665 375.9L668.6 378.6L665.5 380.2L664.6 384.6L663.3 379.2L662.4 374.8L663.3 370.5M656.1 397L660.6 397.6L660.1 400.8L656.1 399.8L656.1 397M665.5 396L671.8 395.4L677.6 397.6L676.7 399.8L670.9 398.7L665.5 398.7L665.5 396M648.5 388.9L656.1 389.5L652.5 391.1L648.5 388.9M692.8 410.6L695.5 411.7L694.6 417.1L692.3 415.5L692.8 410.6M679.4 419.3L681.6 418.7L680.2 423.6L679.4 419.3M632 280L636 279.5L639.6 280.6L639.1 287.1L640 292.5L636.4 295.2L635.5 301.2L636.9 303.9L640 303.3L642.7 306L646.7 306.6L647.6 309.8L644 309.3L640.9 306.6L637.3 304.9L634.2 306L632 302.8L633.3 300.1L631.1 299.5L629.3 294.7L628.4 291.9L630.6 291.4L631.1 285.4L632 280M648.5 312L651.6 312.5L654.8 319L651.6 320.1L649.8 317.9L648.5 312M648.9 318.5L651.6 320.7L652.5 325L650.7 325.5L648.5 321.2L648.9 318.5M638.2 316.3L642.2 317.9L640.9 322.8L637.8 323.4L638.2 316.3M640.4 322.8L643.6 321.2L644.9 326.1L643.1 331L640 327.7L640.4 322.8M644.5 322.8L647.2 320.7L647.2 326.1L644.9 327.7L644.5 322.8M630.6 307.1L635.1 308.2L636 312L633.7 313.6L630.6 307.1M616.7 334.7L620.3 331L623.9 326.6L627 322.8L627.5 319L625.2 322.8L621.7 326.1L618.1 331L616.7 334.7M638.2 342.3L641.8 339.1L645.4 338L646.3 334.2L650.3 333.7L653.9 328.2L657.4 330.4L658.8 338.5L657 345L654.3 347.7L653 349.9L648.1 346.7L647.2 342.9L644 339.1L640.9 341.2L638.2 342.3M678 385.1L682.5 382.4L686.5 382.4L691.9 384.6L692.8 392.2L696.4 398.1L699 396.5L702.6 392.2L707.5 388.4L711.6 390.5L716 392.2L720.9 393.8L725.4 394.9L730.3 398.1L734.8 399.8L739.3 401.9L743.8 406.3L744.7 410L749.1 412.8L752.7 413.8L753.6 417.1L750.9 420.3L755.4 424.1L757.2 429L760.3 431.2L763 435L766.1 437.1L762.5 436.6L757.2 435.5L752.3 433.9L750 430.6L746.9 426.8L741.1 422.5L736.6 422L734.8 424.7L733 429L729.4 430.1L723.6 429.5L719.2 424.7L714.7 424.1L710.7 425.8L708.4 422.5L712 419.8L712.9 416.5L709.8 410.6L705.3 407.3L699.9 405.2L695.5 402.5L690.5 400.8L687 402.5L684.3 397.6L682.9 395.4L687.4 393.8L690.5 392.2L685.6 392.2L682 388.9L679.4 387.8L678 385.1M698.1 383.5L702.2 385.7L699 386.8L698.1 383.5M676.2 385.1L678.5 386.8L676.7 387.8L676.2 385.1M755.8 410L761.2 410.6L765.7 409.5L770.1 406.3L773.7 403L772.4 408.4L767.9 411.7L763.4 414.4L758.5 413.8L755.8 410M767 394.3L771.5 397.6L775.5 400.8L777.7 405.2L776 405.7L773.3 401.9L769.2 397.6L767 394.3M784 409L788 412.8L790.3 417.1L787.1 416.5L784.5 412.2L784 409M806.4 425.2L811.7 429L810.8 431.2L806.8 429.5L806.4 425.2M810.8 426.3L814 430.6L812.6 431.7L810.8 426.3M814 435.5L818.4 438.8L815.3 437.7L814 435.5M749.1 391.1L751.8 391.1L750.5 392.2L749.1 391.1M837.7 459.3L840.4 462.1L839.5 464.8L837.7 462.6L837.7 459.3M842.6 466.9L844.8 469.6L843 470.2L842.6 466.9M885.5 475.6L889.6 474L891.3 477.8L887.8 479.4L885.5 477.2L885.5 475.6M891.3 470.2L895.4 469.6L897.6 468.6L894.5 471.8L891.3 470.2M826 489.7L830.5 492.9L835 496.7L837.2 501.1L828.3 494L826 489.7M600.2 499.4L602.9 498.4L606.9 496.2L611.4 492.9L618.1 492.4L623.9 489.7L629.3 487.5L635.1 484.8L639.1 477.8L640 473.4L644.5 472.3L645.4 468L648.9 468L649.8 463.7L653.4 459.3L657 456.6L661 455.6L664.6 459.9L666.8 461.5L670.9 461L673.1 457.2L673.5 452.8L675.3 449.6L678 446.9L680.7 446.3L684.3 445.3L685.6 442L688.3 443.6L691.9 445.3L695.5 445.3L699.9 445.3L703.5 444.7L704.4 446.9L703.1 451.2L699.9 453.9L700.4 458.8L698.1 461.5L702.2 464.8L706.2 467.5L710.2 470.7L714.2 474L717.8 475.6L721.4 475.6L724.5 470.2L725.4 463.7L725.9 456.1L725.4 449.6L727.2 444.7L728.5 439.3L729.9 438.2L731.2 441.5L732.6 445.3L733.9 450.1L734.4 454.5L735.7 458.3L738.4 457.2L740.6 459.3L742.4 462.1L742.9 466.9L745.1 471.8L746.4 478.8L747.3 483.2L750.9 485.3L754.5 488.1L757.6 490.8L759.9 494L762.1 501.6M674 443.1L677.6 441.5L680.7 442L678 444.7L674.9 444.7L674 443.1M703.1 455L704.8 455L704.4 457.2L703.1 455" fill="none" stroke="#959595" stroke-width="2.1" stroke-linejoin="round" stroke-linecap="round"/><path d="M382 191.6L382.9 188.3L385.3 187.5L388 187.9L390.2 186.8L392.6 187.5L394.8 187L397.1 185.5L399.9 185.3L401.8 182.6L404.7 181.3L404.8 177.7L403.5 174.8L401.8 173.3L399.9 171.6L396.9 172.8L393.9 172.6L389.8 172.3L389.4 171L391 169.2L392.9 167.6L395.3 168.1L397.2 166L399.8 166.9L401.8 165.4L404.2 164.7L406.7 164.1L409.3 164L412 164.3L413.9 162.5L416.5 162.3L418.9 161.6L420.7 159.6L416.8 157.7L414.4 158.4L412.1 158.2L409.9 157.8L406.6 157.4L403.3 158.3L401.5 154.8L402.3 151L405 150.3L407.8 149.5L410.2 150.3L412.5 150L414.7 149L417.5 149.3L420.1 148.9L422.8 149.2L425.1 148.7L427.3 147.7L429.9 148.7L432.5 146.5L435.7 146.4L438.7 146.9L441.6 145.7L444.6 146.1L447.5 145.1L450.3 146L452.9 146L455.6 145.4L458.6 145.8L461.4 144.6L464.6 143.2L462.1 142.6L459.5 141.8L456.9 141.7L454.3 140.7L451.7 140.1L449.2 140.6L447 140L444.1 140.5L442.8 138.3L446.5 136.6L449.1 137.8L451.8 138L454.4 137.6L456.8 136.8L459 136.2L462.6 137L464.5 140.9L467.6 141L470.6 141.7L473.6 142.1L476.2 144L479 143.8L481.3 145L483.5 148L481 149.6L478 151L475.1 150.4L472.7 151.2L470.4 151.6L468.1 151.9L465.8 152L463.6 153.3L461.2 153.5L458.9 154L456.3 153.6L453.9 154.3L452.1 156.6L449.8 157.4L447.1 158.2L444.4 159L441.6 159.4L439.3 159.9L437.1 161.2L435 162.2L431.7 162.7L428.8 164L426.7 165L424 166.8L425.7 168.7L427.3 170.8L429.9 173.9L431.7 175.9L434 177L435.7 179.5L438.1 180.4L440.5 181.7L442.7 182.2L445.2 182L447.4 182.6L449.6 182.6L451.9 183.5L454.2 182.5L456.3 182.6L459 181.7L461.6 180.6L464.4 179.8L466.4 178.5L468.6 177.6L471 177L473.2 176.1L475.8 175.5L478.1 173.9L481.1 174.4L483.4 172.9L485.7 171.4L488.2 170.8L490.8 170.2L493.3 169.5L495.7 168.6L498.4 169.4L500.9 169.1L503.2 167.7L505.5 167.2L507.6 166.1L509.8 165.6L512.2 165.5L514.8 164.9L517.6 165.4L520.2 163.8L522.9 163.9L525.4 165.9L528.1 165.4L530.6 165.7L532.6 167.3L535.2 167.4L537 169.2L538.9 171.1L541.2 172L543.6 172.9L546.2 173.4L548.1 174.7L550.3 175.5L551.7 177.6L553.9 178.3L554.3 179.3L551.2 181.9L553.4 184.4L554 187.4L555.1 189.9L556.1 192.8L557 195.8L558.2 198.8L559.5 201.5L559.6 204.7L558.3 207.5L556.9 209.7L555.8 212L554.4 213.7L553.2 216.3L552.5 218.9L551.1 221.3L549.7 223.1L549.6 225.5L547.8 227.1L547 228.8L544.9 230.8L543.5 233.6L541.7 235L539.7 236.2L537.8 237.4L535.8 238.8L533.7 239.6L533.1 237.3L532 235L530.1 233.5L529.1 231.5L527.7 229.3L524.3 229.3L521.7 227.2L519.8 225.4L517 224.1L514.3 225L511.6 226.3L509.8 228.3L507.1 228.9L504.7 230.7L501.7 230.9L499.2 231.5L496.7 232.9L494 233.2L491.5 232.6L488.7 232.6L485.9 233.2L483.2 232.8L480.5 231.9L478.3 229.6L475.6 228.9L472.6 229.2L470.3 227.3L467.8 226.2L464.9 225.6L462.1 224.9L459.6 223.4L457.2 222.6L455 221.4L454 218.6L451.7 217.7L449.7 216.3L448.3 214.3L445.8 213.5L444.3 211.3L442.3 210.4L439.8 210.4L437.9 209.3L435.9 208.2L433.8 207L432.2 205.2L429.7 204.2L428.9 202L427.4 200.3L427.5 197.5L424.6 195.8L422.7 193.3L420.3 191.5L418 189.3L415.2 189.5L412.9 188L410.2 188L407.8 188.8L405.4 189.6L403 191.6L399.9 192.1L397.9 193.5L396 194.7L393.4 194.9L392.4 196.9L390.5 199.3L389.3 201.7L387.5 200.2L385.7 198.7L384.8 196.6L383.7 194.6L382 191.6" fill="none" stroke="#252525" stroke-width="1.9" stroke-linejoin="round"/>
</g>
<rect x="92.6" y="55.2" width="805" height="433.4" fill="none" stroke="#000" stroke-width="2.2"/>
<path d="M83.6 55.2H92.6M83.6 163.6H92.6M83.6 271.9H92.6M83.6 380.2H92.6M83.6 488.6H92.6M92.6 488.6V497.6M226.8 488.6V497.6M360.9 488.6V497.6M495.1 488.6V497.6M629.3 488.6V497.6M763.4 488.6V497.6M897.6 488.6V497.6" stroke="#000" stroke-width="2" fill="none"/>
<text transform="scale(0.85,1)" x="30" y="66.2" font-size="33" textLength="58.8" lengthAdjust="spacing" stroke="#000" stroke-width="0.35">60N</text>
<text transform="scale(0.85,1)" x="30" y="174.6" font-size="33" textLength="58.8" lengthAdjust="spacing" stroke="#000" stroke-width="0.35">40N</text>
<text transform="scale(0.85,1)" x="30" y="282.9" font-size="33" textLength="58.8" lengthAdjust="spacing" stroke="#000" stroke-width="0.35">20N</text>
<text transform="scale(0.72,1)" x="56.9" y="391.2" font-size="33" textLength="47.9" lengthAdjust="spacing" stroke="#000" stroke-width="0.35">EQ</text>
<text transform="scale(0.85,1)" x="33.5" y="499.6" font-size="33" textLength="55.3" lengthAdjust="spacing" stroke="#000" stroke-width="0.35">20S</text>
<text transform="scale(0.85,1)" x="99.8" y="524.6" font-size="33" textLength="18.2" lengthAdjust="spacing" stroke="#000" stroke-width="0.35">0</text>
<text transform="scale(0.85,1)" x="239.1" y="524.6" font-size="33" textLength="55.3" lengthAdjust="spacing" stroke="#000" stroke-width="0.35">30E</text>
<text transform="scale(0.85,1)" x="397" y="524.6" font-size="33" textLength="55.3" lengthAdjust="spacing" stroke="#000" stroke-width="0.35">60E</text>
<text transform="scale(0.85,1)" x="554.8" y="524.6" font-size="33" textLength="55.3" lengthAdjust="spacing" stroke="#000" stroke-width="0.35">90E</text>
<text transform="scale(0.85,1)" x="702.7" y="524.6" font-size="33" textLength="75.3" lengthAdjust="spacing" stroke="#000" stroke-width="0.35">120E</text>
<text transform="scale(0.85,1)" x="860.5" y="524.6" font-size="33" textLength="75.3" lengthAdjust="spacing" stroke="#000" stroke-width="0.35">150E</text>
<text transform="scale(0.85,1)" x="1028.9" y="524.6" font-size="33" textLength="54.1" lengthAdjust="spacing" stroke="#000" stroke-width="0.35">180</text>
<text transform="scale(0.92,1)" x="98.6" y="43.1" font-size="35" textLength="479.7" lengthAdjust="spacing" word-spacing="5" stroke="#000" stroke-width="0.35">(a) Air Temperature(300 hPa)</text>
<text transform="scale(0.92,1)" x="864.1" y="42.8" font-size="35" textLength="112.5" lengthAdjust="spacing" word-spacing="5" stroke="#000" stroke-width="0.35">Unit: K</text>
<rect x="916.8" y="439.4" width="15.6" height="37.4" fill="#4263a9"/>
<rect x="916.8" y="402.3" width="15.6" height="37.4" fill="#5589c0"/>
<rect x="916.8" y="365.1" width="15.6" height="37.4" fill="#72aad2"/>
<rect x="916.8" y="328" width="15.6" height="37.4" fill="#9ecbe2"/>
<rect x="916.8" y="290.9" width="15.6" height="37.4" fill="#c5e5ef"/>
<rect x="916.8" y="253.8" width="15.6" height="37.4" fill="#f3e5b3"/>
<rect x="916.8" y="216.7" width="15.6" height="37.4" fill="#fdcb7f"/>
<rect x="916.8" y="179.6" width="15.6" height="37.4" fill="#f9a75f"/>
<rect x="916.8" y="142.4" width="15.6" height="37.4" fill="#f4804f"/>
<rect x="916.8" y="105.3" width="15.6" height="37.4" fill="#ec5a3b"/>
<rect x="916.8" y="68.2" width="15.6" height="37.4" fill="#d63228"/>
<path d="M916.8 439.4H932.4M916.8 402.3H932.4M916.8 365.1H932.4M916.8 328H932.4M916.8 290.9H932.4M916.8 253.8H932.4M916.8 216.7H932.4M916.8 179.6H932.4M916.8 142.4H932.4M916.8 105.3H932.4" stroke="#111" stroke-width="1.8" fill="none"/>
<rect x="916.8" y="68.2" width="15.6" height="408.3" fill="none" stroke="#1a1a1a" stroke-width="1.9"/>
<text transform="scale(1.0,1)" x="938" y="446.2" font-size="20" textLength="33" lengthAdjust="spacing" font-weight="bold">230</text>
<text transform="scale(1.0,1)" x="938" y="409.1" font-size="20" textLength="33" lengthAdjust="spacing" font-weight="bold">232</text>
<text transform="scale(1.0,1)" x="938" y="371.9" font-size="20" textLength="33" lengthAdjust="spacing" font-weight="bold">234</text>
<text transform="scale(1.0,1)" x="938" y="334.8" font-size="20" textLength="33" lengthAdjust="spacing" font-weight="bold">236</text>
<text transform="scale(1.0,1)" x="938" y="297.7" font-size="20" textLength="33" lengthAdjust="spacing" font-weight="bold">238</text>
<text transform="scale(1.0,1)" x="938" y="260.6" font-size="20" textLength="33" lengthAdjust="spacing" font-weight="bold">240</text>
<text transform="scale(1.0,1)" x="938" y="223.5" font-size="20" textLength="33" lengthAdjust="spacing" font-weight="bold">242</text>
<text transform="scale(1.0,1)" x="938" y="186.4" font-size="20" textLength="33" lengthAdjust="spacing" font-weight="bold">244</text>
<text transform="scale(1.0,1)" x="938" y="149.2" font-size="20" textLength="33" lengthAdjust="spacing" font-weight="bold">246</text>
<text transform="scale(1.0,1)" x="938" y="112.1" font-size="20" textLength="33" lengthAdjust="spacing" font-weight="bold">248</text>
<clipPath id="cp1"><rect x="92.6" y="592.5" width="805" height="433.4"/></clipPath>
<g clip-path="url(#cp1)">
<rect x="92.6" y="592.5" width="805" height="433.4" fill="#4a6fb0"/>
<path fill="#5a8cc3" d="M84 637C85.7 637 86 637 94 636.7C102 636.4 118.9 635.8 131.8 635.3C144.7 634.8 158.2 634.6 171.5 633.7C184.8 632.8 198.1 631.4 211.3 629.8C224.6 628.1 238.7 625.8 251 623.8C263.3 621.8 271.9 619.1 285 617.8C298.1 616.5 314 614.8 329.7 615.8C345.4 616.8 362.8 621.3 379.4 623.8C396 626.3 413.3 629.8 429.1 630.8C444.9 631.8 458.9 631.3 474 629.8C489.1 628.3 503.8 624.8 519.7 621.8C535.6 618.8 552.8 615.4 569.4 611.9C586 608.4 607.5 603.9 619.1 600.9C630.7 597.9 634.7 596.1 639 594C643.3 591.9 644 589 645 588L700 588C701.3 588.9 702.4 591.3 707.7 593.6C713 595.9 723.7 598.5 731.6 601.9C739.5 605.3 747.5 610.3 755.4 613.9C763.3 617.5 771.3 620.4 779.3 623.4C787.2 626.4 795.1 629.5 803.1 631.7C811.1 633.9 819 635.3 827 636.5C835 637.7 838.9 638.1 850.8 638.9C862.7 639.7 889.3 640.9 898.5 641.3C907.7 641.7 904.8 641.5 906 641.5L906 1034L84 1034Z"/>
<path fill="#74aad3" d="M84 650C85.7 649.9 86 649.8 94 649.6C102 649.4 118.9 648.9 131.8 648.6C144.7 648.3 158.2 648.4 171.5 647.7C184.8 647.1 198.1 645.9 211.3 644.7C224.6 643.5 238.7 642.1 251 640.7C263.3 639.3 271.9 637.4 285 636.2C298.1 635 314 633.1 329.7 633.7C345.4 634.3 362.8 637.5 379.4 639.7C396 641.9 413.3 645.5 429.1 646.7C444.9 648 458.9 648 474 647.2C489.1 646.4 503.8 643.6 519.7 641.7C535.6 639.8 552.8 637.9 569.4 635.7C586 633.6 603.3 631.1 619.1 628.8C634.9 626.5 649.2 622.9 664 622C678.8 621.1 692.5 621 707.7 623.4C722.9 625.8 743.5 632.9 755.4 636.5C767.3 640.1 771.3 642.7 779.3 644.9C787.2 647.1 791.2 648.4 803.1 649.6C815 650.8 834.9 651.4 850.8 652C866.7 652.6 889.3 653 898.5 653.2C907.7 653.4 904.8 653.3 906 653.3L906 1034L84 1034Z"/>
<path fill="#8cc0dc" d="M84 662.6C85.7 662.6 86 662.4 94 662.6C102 662.8 118.9 663.3 131.8 663.6C144.7 663.9 158.2 664.9 171.5 664.6C184.8 664.3 198.1 663.1 211.3 661.6C224.6 660.1 238.7 657.6 251 655.6C263.3 653.6 271.9 651.1 285 649.6C298.1 648.1 314 646.7 329.7 646.7C345.4 646.7 362.8 648.1 379.4 649.6C396 651.1 413.3 654.2 429.1 655.6C444.9 657 458.9 658.1 474 658.1C489.1 658.1 503.8 656.7 519.7 655.6C535.6 654.5 552.8 652.9 569.4 651.6C586 650.3 603.3 648.9 619.1 647.7C634.9 646.5 649.2 645 664 644.3C678.8 643.6 692.5 642 707.7 643.7C722.9 645.4 739.5 651.4 755.4 654.4C771.3 657.4 787.2 660 803.1 661.6C819 663.2 834.9 663.4 850.8 664C866.7 664.6 889.3 664.9 898.5 665.1C907.7 665.3 904.8 665.2 906 665.2L906 1034L84 1034Z"/>
<path fill="#abd6e8" d="M84 675.5C85.7 675.5 86 675.3 94 675.5C102 675.7 118.9 676.2 131.8 676.5C144.7 676.8 158.2 677.8 171.5 677.5C184.8 677.2 198.1 676 211.3 674.5C224.6 673 238.7 670.9 251 668.5C263.3 666.1 271.9 662 285 660C298.1 658 314 656.8 329.7 656.6C345.4 656.4 362.8 657.3 379.4 658.6C396 659.9 413.3 663 429.1 664.6C444.9 666.2 458.9 668.2 474 668.5C489.1 668.8 503.8 667 519.7 666.5C535.6 666 552.8 665.8 569.4 665.5C586 665.2 603.3 665.2 619.1 664.6C634.9 664 649.2 662.5 664 661.6C678.8 660.7 692.5 658.4 707.7 659.2C722.9 660 739.5 664.1 755.4 666.3C771.3 668.5 787.2 671.1 803.1 672.3C819 673.5 834.9 673.1 850.8 673.5C866.7 673.9 889.3 674.5 898.5 674.7C907.7 674.9 904.8 674.8 906 674.8L906 1034L84 1034Z"/>
<path fill="#c8e6f1" d="M84 689.4C85.7 689.4 86 689.2 94 689.4C102 689.6 118.9 690.2 131.8 690.4C144.7 690.6 158.2 690.9 171.5 690.4C184.8 689.9 198.1 688.9 211.3 687.4C224.6 685.9 238.7 684.1 251 681.5C263.3 678.9 271.9 674 285 671.5C298.1 669 314 666.8 329.7 666.5C345.4 666.2 362.8 668 379.4 669.5C396 671 413.3 674.2 429.1 675.5C444.9 676.8 458.9 677.2 474 677.5C489.1 677.8 503.8 677.5 519.7 677.5C535.6 677.5 552.8 677.5 569.4 677.5C586 677.5 603.3 677.9 619.1 677.5C634.9 677.1 649.2 675.7 664 675C678.8 674.3 692.5 672.8 707.7 673.5C722.9 674.2 739.5 677.7 755.4 679.5C771.3 681.3 787.2 683.2 803.1 684.2C819 685.2 834.9 685.2 850.8 685.4C866.7 685.6 889.3 685.4 898.5 685.4C907.7 685.4 904.8 685.4 906 685.4L906 1034L84 1034Z"/>
<path fill="#deece9" d="M84 700.3C85.7 700.3 86 700.1 94 700.3C102 700.5 118.9 701.1 131.8 701.3C144.7 701.5 158.2 701.9 171.5 701.3C184.8 700.6 198.1 699 211.3 697.4C224.6 695.8 238.7 694.1 251 691.4C263.3 688.7 271.9 683.6 285 681C298.1 678.4 314 675.9 329.7 675.5C345.4 675.1 362.8 677.2 379.4 678.5C396 679.8 413.3 682.4 429.1 683.4C444.9 684.4 458.9 683.9 474 684.4C489.1 684.9 503.8 685.7 519.7 686.4C535.6 687.1 552.8 687.9 569.4 688.4C586 688.9 603.3 689.5 619.1 689.4C634.9 689.3 649.2 688.1 664 687.6C678.8 687.1 692.5 685.8 707.7 686.6C722.9 687.4 739.5 691 755.4 692.6C771.3 694.2 787.2 695.4 803.1 696.2C819 697 834.9 696.9 850.8 697.3C866.7 697.7 889.3 698.3 898.5 698.5C907.7 698.7 904.8 698.6 906 698.6L906 1034L84 1034Z"/>
<path fill="#fed98c" d="M84 713.8C85.7 713.8 84.4 713.8 94 713.8C103.6 713.8 125.5 714.2 141.7 713.5C157.9 712.8 174.8 711.6 191.4 709.8C208 707.9 224.5 705.5 241.1 702.4C257.7 699.2 276 693.9 290.8 690.9C305.6 687.9 314.9 685.1 329.7 684.4C344.5 683.6 362.8 685.2 379.4 686.4C396 687.6 413.3 690.2 429.1 691.4C444.9 692.6 458.9 692.9 474 693.4C489.1 693.9 503.8 693.9 519.7 694.4C535.6 694.9 552.8 695.7 569.4 696.4C586 697.1 603.3 697.9 619.1 698.4C634.9 698.9 649.2 699.1 664 699.5C678.8 699.9 692.5 699.7 707.7 700.9C722.9 702.1 739.5 705.5 755.4 706.9C771.3 708.3 787.2 708.5 803.1 709.3C819 710.1 834.9 710.9 850.8 711.7C866.7 712.5 889.3 713.6 898.5 714C907.7 714.4 904.8 714.2 906 714.2L906 1034L84 1034Z"/>
<path fill="#fdbc72" d="M84 728.8C85.7 728.8 84.4 728.9 94 728.8C103.6 728.6 125.5 728.6 141.7 727.9C157.9 727.2 174.8 726.4 191.4 724.5C208 722.6 224.5 719.9 241.1 716.5C257.7 713.1 276 708 290.8 704.1C305.6 700.2 314.9 694.9 329.7 693.4C344.5 691.9 362.8 694.2 379.4 695.4C396 696.5 413.3 699.2 429.1 700.3C444.9 701.4 458.9 701.3 474 701.8C489.1 702.3 503.8 702.5 519.7 703.3C535.6 704 552.8 705.3 569.4 706.3C586 707.3 603.3 708.4 619.1 709.3C634.9 710.2 649.2 710.7 664 711.5C678.8 712.3 692.5 712.4 707.7 714C722.9 715.6 739.5 719 755.4 721.2C771.3 723.4 787.2 725.2 803.1 727.2C819 729.2 840.4 730.9 850.8 733.1C861.1 735.3 862 736.3 865.2 740.3C868.4 744.3 868.6 751.2 870 757C871.4 762.8 872.2 770.2 873.5 775C874.8 779.8 875.8 782.5 878 786C880.2 789.5 883.3 793.8 886.7 795.9C890.1 798 895.1 798.2 898.3 798.8C901.5 799.4 904.7 799.4 906 799.5L906 1034L352 1034L352 1034C351.3 1032.5 351 1027.8 347.6 1025C344.2 1022.1 338.6 1019.6 331.5 1016.9C324.4 1014.2 313.6 1011.1 304.7 1008.9C295.8 1006.7 286.8 1004.9 277.9 1003.5C268.9 1002.1 264.4 1001.5 251 1000.8C237.6 1000.1 215.3 1000.4 197.4 999.5C179.5 998.6 161.3 997 143.7 995.4C126.1 993.8 102 991.1 92 990.1C82 989.1 85.3 989.6 84 989.5Z"/>
<path fill="#fa9f5c" d="M84 749.8C85.3 749.8 82.4 750 92 749.6C101.6 749.2 125.1 748.6 141.7 747.1C158.3 745.6 174.8 743.8 191.4 740.9C208 738 225.5 734.7 241.1 729.7C256.7 724.7 270.2 715.7 285 711C299.8 706.3 314 702.2 329.7 701.3C345.4 700.3 362.8 704 379.4 705.3C396 706.6 413.3 708.3 429.1 709.3C444.9 710.3 458.9 710.8 474 711.3C489.1 711.8 503.8 711.3 519.7 712.3C535.6 713.3 552.8 715.6 569.4 717.2C586 718.9 603.3 721 619.1 722.2C634.9 723.4 649.2 723.8 664 724.4C678.8 725 692.5 724.5 707.7 726C722.9 727.5 743.5 730.3 755.4 733.1C767.3 735.9 772.5 738.7 779.3 742.7C786.1 746.7 792.4 752.2 796 757C799.6 761.8 800 765.8 800.7 771.3C801.4 776.8 800.1 783 800 790C799.9 797 797.4 806.5 800.3 813.2C803.2 820 810.9 825.7 817.6 830.5C824.3 835.3 832 839.2 840.6 842.1C849.2 845 859.8 846.6 869.4 847.8C879 849 892.2 849 898.3 849.3C904.4 849.6 904.7 849.5 906 849.5L906 973C904.7 973 909.2 972.7 898.3 973.2C887.4 973.7 855 975.6 840.6 976.1C826.2 976.6 821.4 976.3 811.8 976.1C802.2 975.9 790 975.9 783 974.7C776 973.5 771.5 972.8 770 968.9C768.5 965 773.1 957.4 774.3 951.6C775.5 945.8 778.2 940.1 777.2 934.3C776.2 928.5 773.3 922.3 768.5 917C763.7 911.7 755.6 906.4 748.4 902.6C741.2 898.8 733.9 896.4 725.3 894C716.6 891.6 706.1 890.1 696.5 888.2C686.9 886.3 677.3 883.9 667.7 882.4C658.1 880.9 647.6 880.1 638.8 879.5C630 878.9 627.4 879.6 615 879C602.6 878.4 582 877 564.7 876C547.4 875 524.5 874.4 511 873.3C497.6 872.2 492.9 870.9 484 869.3C475.1 867.7 470.8 865.2 457.4 863.9C444 862.6 420.8 862.2 403.7 861.3C386.6 860.4 367 860 355 858.6C343 857.2 339.9 854.1 331.5 853.2C323.1 852.3 313.6 852.8 304.7 853.2C295.8 853.7 286.8 855.7 277.9 855.9C268.9 856.1 264.4 855.2 251 854.5C237.6 853.8 215.3 852.8 197.4 851.9C179.5 851 161.3 849.9 143.7 849.2C126.1 848.5 102 848.1 92 847.8C82 847.5 85.3 847.6 84 847.6Z"/>
<path fill="#f57e4e" d="M146.7 781.9C146.7 778.2 151.2 775.6 156.6 771.9C162 768.2 169.1 763.2 179 759.5C188.9 755.8 203.9 753.3 216.3 749.6C228.7 745.9 242.6 742 253.5 737.2C264.4 732.4 269.3 724.8 282 721C294.7 717.2 313.5 714.9 329.7 714.3C345.9 713.7 362.8 716.1 379.4 717.2C396 718.4 412.5 720.2 429.1 721.2C445.7 722.2 463.7 722.9 478.8 723.2C493.9 723.5 507.9 722.5 519.7 723.2C531.5 723.9 541.2 725.6 549.5 727.2C557.8 728.9 557.8 731.1 569.4 733.1C581 735.1 604 737.5 619.1 739.1C634.2 740.7 649.2 741.3 660 742.7C670.8 744.1 677.1 745.4 683.9 747.4C690.7 749.4 697 751.4 700.6 754.6C704.2 757.8 705.6 763.1 705.3 766.5C705 769.9 701.4 772.6 699 775C696.6 777.4 695.9 777.5 690.7 781C685.5 784.5 676.4 791.5 667.7 795.9C659.1 800.3 648.4 804.6 638.8 807.5C629.2 810.4 622.4 810.7 610 813.2C597.6 815.7 581.2 820.1 564.7 822.3C548.2 824.5 528.9 825.7 511 826.4C493.1 827.1 475.3 826.4 457.4 826.4C439.5 826.4 421.6 826.4 403.7 826.4C385.8 826.4 368.7 826.9 350 826.2C331.3 825.5 307.8 823.6 291.3 822.3C274.8 821 264.4 820.3 251 818.3C237.6 816.3 222.8 812.6 210.8 810.3C198.8 808 188 807 179 804.3C170 801.6 162 798 156.6 794.3C151.2 790.6 146.7 785.6 146.7 781.9Z"/>
<path fill="#ee5a3c" d="M238.6 767C237.4 763.3 241.5 760.7 246.1 757C250.7 753.3 258.6 748.1 266 744.6C273.4 741.1 282.5 738.4 290.8 735.9C299.1 733.4 307.4 731.1 315.7 729.7C324 728.4 329.9 727.5 340.5 727.8C351.1 728 364.6 729.8 379.4 731.2C394.2 732.6 412.5 735 429.1 736.1C445.7 737.2 463.7 737.4 478.8 738.1C493.9 738.8 509.6 738.3 519.7 740.1C529.8 741.9 534 745.5 539.6 749C545.2 752.5 550.9 757.7 553.5 761C556.1 764.3 557.8 765.9 555.5 768.9C553.2 771.9 545.6 775.9 539.6 778.9C533.6 781.9 533.4 784.2 519.7 786.8C506 789.3 476.7 792.5 457.4 794.2C438.1 795.9 421.6 796.4 403.7 796.8C385.8 797.2 364.7 797.2 350 796.8C335.3 796.4 327.6 795.5 315.7 794.3C303.8 793 288.8 791.8 278.4 789.3C268 786.8 260.1 783.1 253.5 779.4C246.9 775.7 239.8 770.7 238.6 767Z"/>
<path d="M92.6 642.3L96.2 641.8L98.9 640.2L96.6 638.5L98.4 636.9L100.2 633.7L100.2 632L98.4 630.7L93.9 630.2L94.2 628.3L92.6 626.9M92.6 649.9L97.1 647.2L99.8 645.6L99.8 641.8L103.8 640.7L107.8 639.1L110.9 636.4L113.2 633.1L114.1 629.9L117.6 628.3L123 627.7L125.2 626.6L128.8 627.4L131.1 625.5L132.8 625L131.5 622.8L131.1 619.6L129.3 616.9L128.8 613.1L129.7 609.3L134.2 608.2L137.3 606L140 604.7L139.1 607.7L138.7 610.4L141.3 612L138.7 614.2L136.4 616.3L135.5 619L137.3 621.2L141.3 625L144 624.5L147.6 623.4L151.2 622.8L154.3 624.5L156.6 625.5L161.9 623.9L166.8 621.8L172.7 620.4L175.8 621.8L178.9 622.8L181.6 621.8L187 618.5L187 614.2L186.5 609.8L189.2 606.6L193.2 604.7L196.8 608.2L200.4 608.2L201.7 603.9L199 601.2L197.7 597.4L201.3 595.2L207.1 594.7L213.3 595.5L218.3 595.2L222.3 593L227.7 592.8L223.6 591.7L220.1 589.8M141.8 614.7L146.3 613.6L148.9 615.8L147.2 618.5L144 619L141.8 617.4L141.8 614.7M136.4 616.9L139.6 616.9L140.9 618.5L138.7 619.6L136.4 618.5L136.4 616.9M115 591.4L115.9 595.2L117.6 598.5L118.1 601.2L122.1 603.1L126.1 603.3L130.2 601.7L134.6 598.7L137.3 597.9L139.6 595.2L140.7 593L141.3 595.8L142.7 597.4L144.9 601.2L145.8 605L148.1 609.3L149.8 611.5L148.9 614.2L150.3 616.9L153.4 617.4L156.1 617.4L157 614.7L158.8 613.1L163.7 613.6L165.9 610.9L166.4 606.6L167.3 603.3L168.2 600.1L171.8 598.5L174.9 596.3L176.2 593.6L172.7 591.4L170.9 588.7M174 608.8L176.2 607.1L177.6 603.9L174.9 605L173.5 607.1L174 608.8M165.9 613.1L168.2 609.3L166.8 610.4L165.9 613.1M191 601.7L194.6 600.1L196.8 601.2L193.2 603.3L191 601.7M226.8 589.8L231.2 592.5L237.9 590.9L239.3 587.6L235.7 586M92.6 707.4L93.5 703.6L92.6 701.4L94.8 698.1L96.6 695.4L101.5 693.8L106.9 690.6L106.5 687.3L106 683.5L110 681.9L114.1 682.7L119 684.1L122.6 683.5L126.1 680.3L129.7 679.2L132.4 677L135.5 678.6L138.2 679.7L139.6 683.5L142.2 687.3L145.4 690L148.9 693.3L151.6 694.3L155.2 696L157.4 697.6L159.2 699.2L162.4 700.9L163.3 704.1L164.6 707.9L162.8 710.6L164.2 712L166.8 709.5L169.1 706.5L166.8 703L168.2 698.7L170.9 699.2L175.3 700L174 697.6L169.1 695.4L164.2 692.7L164.6 690.6L160.1 690.3L156.1 687.3L153.4 681.9L148.1 678.1L147.6 674.3L148.5 671.1L151.2 670L153.9 670.5L153.4 673.2L154.8 674.8L159.2 673.2L159.2 675.9L163.7 681.3L168.2 683.5L171.8 685.1L175.3 687.8L177.6 690L179.4 691.6L179.8 694.3L179.4 698.7L182 702.5L185.2 705.7L187 710.1L189.2 710.6L193.2 711.1L196.4 712.2L194.6 714.4L195.9 719.8L193.2 719.8L191.9 717.1L189.6 717.6L189.2 713.9L187 712.8L187.9 710.1L186.5 708.4L185.6 706.3M196.4 712L199.9 713.3L199.9 710.6L197.7 708.4L194.6 706.8L196.8 704.6L193.7 700.3L195 697.6L198.6 699.8L201.3 697.1L205.7 695.7L209.3 696.8L210.2 698.7L212 698.1L214.7 698.7L217.8 698.4L222.3 698.7L224.1 696.8L222.3 694.9L217.8 695.4L215.6 695.7L212.5 697.6M209.8 700.9L212 704.6L212.9 708.4L214.2 711.7L214.7 714.9L216 718.2L219.2 718.2L222.7 719.3L227.7 720.9L229.4 717.9L233.9 719.3L238.4 722L242.9 721.4L247.3 718.2L251.8 719.3L254.5 718.7L253.2 723.1L252.7 727.9L251.4 732.3L249.6 738.2L248.7 742L246.9 746.9L245.6 748L241.1 749.1L237.1 748.3L231.2 746.6L226.8 748L222.3 750.1L216.5 749.1L208 746.4L204.4 745.3L199.9 744.2L195.9 740.9L191 739.3L185.6 740.9L182 744.7L182 749.6L178 753.4L173.1 750.7L166.4 748.5L161.5 744.7L159.7 742L154.3 739.9L148.5 739.3L143.6 737.7L140.9 735L137.8 732.3L140.9 728.5L142.2 724.7L139.6 720.9L141.8 717.1L138.2 716L135.1 715.5L131.1 717.6L126.1 717.1L120.8 717.6L115.4 718.7L110.5 717.6L106 718.2L100.6 719.3L96.2 720.9L92.6 723.1M148.1 712.5L152.1 710.6L156.1 711.7L162.4 710.3L160.1 714.9L160.1 718.7L156.6 717.1L151.2 714.4L148.1 712.5M130.2 706.3L133.3 705.2L135.5 705.2L136.4 698.1L133.7 694.3L129.7 696L130.6 700.3L130.2 706.3M131.1 690.6L134.2 692.7L135.3 688.4L134.6 684.6L131.1 687.8L131.1 690.6M197.7 726L201.7 726L206.6 726.3L210.2 726.9L204.4 727.9L199.9 727.4L197.7 726M237.1 728.5L240.6 726L246.9 724.7L244.2 727.7L240.2 730.1L237.1 728.5M98 707.4L99.8 705.7L98.4 705.7L98 707.4M103.3 703.6L107.8 701.9L106.5 704.6L103.3 703.6M217.8 690.6L216 687.8L217.4 685.1L220.1 682.4L220.5 677.6L225 674.8L225.4 672.1L228.1 667.8L231.2 665.1L235.7 665.6L240.6 668.3L238.4 671.1L242 672.7L242.9 675.9L245.6 676.7L249.6 674.8L251.8 672.7L255.8 671.9L253.6 670.5L250.5 669.4L248.2 667.3L250.5 665.6L256.7 664.6L263.4 662.4L267.9 661.8L263.9 665.1L261.6 668.3L260.8 672.1L257.2 673.2L259.9 675.4L265.2 677.6L271 682.4L278.2 686.8L278.6 692.2L274.2 695.4L269.3 695.4L263.9 695.7L258.1 694.6L253.6 691.6L249.6 690L242.4 690L236.6 691.1L232.6 694.3L226.8 694.3L222.7 694.1L217.8 690.6M302.8 676.5L305 684.6L309.9 691.1L313.5 696L317.1 698.7L314 699.8L312.6 704.6L311.3 709.5L312.2 713.9L317.6 716.6L323.4 718.5L329.6 717.6L333.7 715.5L333.2 710.1L330.5 704.6L332.3 702.5L328.7 699.8L329.2 695.4L327.4 691.1L329.6 689.5L327.8 686.8L322 683.5L319.8 679.2L317.6 677L322 675.9L320.7 672.1L329.6 672.1L330.5 667.3L325.2 664L316.2 665.1L312.6 666.2L309.9 668.3L305.5 670.5L301.5 674.8L302.8 676.5M353.3 673.8L355.6 670L359.1 667.3L362.7 665.6L366.3 666.7L368.1 670.5L364.5 674.3L361.8 679.2L357.4 681.3L353.8 680.3L353.3 673.8M421.3 668.9L424.4 665.1L429.8 665.1L434.7 665.6L440.5 664.6L445.9 663.5L446.8 666.2L442.3 667L437 667.3L431.1 667.8L427.1 670.5L423.1 673.8L421.3 668.9M556.8 638L561.3 638.5L567.5 634.2L573.4 631L578.7 627.2L582.3 621.2L584.1 615.8L581.4 616.9L577.8 621.8L572.5 627.2L568 630.4L562.2 634.8L557.7 636.4L556.8 638M92.6 887.2L98 884.5L103.8 883.1L108.3 882.9L112.7 884L115.4 887.2L117.6 892.6L121.2 894.3L124.8 893.7L130.2 892.6L132.4 893.7L134.6 896.4L136.9 900.2L136.4 905.6L135.5 911L134.2 915.4L132.8 920.8L134.2 926.2L137.8 932.7L141.8 938.7L145.4 943.6L147.6 949.5L149.8 954.4L152.1 962L151.6 966.3L153.4 974.4L154.3 979.3L151.2 985.8L148.5 990.7L147.2 996.1L145.4 1003.1L145.4 1009.6L146.7 1014.5L149.8 1020.5L152.1 1027M130.6 899.7L132.4 897.5L131.5 897L130.6 899.7M238.2 755.3L238.8 760.4L242.9 768L244.7 773.4L248.7 782.1L251.8 790.8L255.4 797.3L259 803.2L259.9 814.6L264.3 820L267 828.2L270.1 835.2L275.5 839.5L278.6 844.4L282.7 849.3L286.2 852.5L285.8 855.8L288.5 860.1L292.1 861.2L296.1 860.1L301 859L305.9 857.4L311.7 856.3L316.2 855.2L321.6 853.6L321.1 858L320.7 861.7L319.3 867.7L316.2 874.2L313.1 882.3L309.5 890.5L305 897L299.2 905.1L293.9 908.9L288.5 913.8L282.7 920.8L278.2 926.8L274.2 931.1L271.5 935.4L269.7 941.4L267 945.7L266.1 952.2L268.8 957.1L268.4 963.1L270.1 969.6L273.3 974.4L273.7 982.6L274.2 991.2L274.6 996.6L271.5 1004.2L267.5 1009.6L259.9 1014.5L254.9 1019.4L250.5 1025.4L248.7 1028.6M313.1 982.6L315.8 989.6L317.1 996.6L318 1002.1L315.3 1006.9L314 1012.4L312.6 1019.4L310.4 1029.2L308.2 1036.7L289.4 1036.7L288.5 1028.6L291.2 1023.2L290.3 1015.1L289.4 1009.6L291.2 1005.9L296.1 1004.2L300.1 1002.1L304.1 997.7L306.8 993.4L308.6 989.6L310.8 985.8L313.1 982.6M331 849.8L334.1 848.7L336.3 849.8L334.1 850.9L331 849.8M152.1 847.1L154.8 841.7L158.8 842.8L160.1 846.6L157.9 850.4L154.3 849.8L152.1 847.1M234.4 923L235.7 917L241.1 915.9L245.1 918.6L243.8 924.1L244.7 929.5L240.2 931.6L235.7 930L234.4 923M222.7 936L222.7 942.5L223.6 950.1L226.3 954.9L228.1 960.9L230.3 965.2L232.6 964.1L230.8 958.7L228.6 953.3L226.3 949L225.4 942.5L224.5 936L222.7 936M244.7 969.6L245.1 977.1L246 985.3L246.9 992.9L249.1 996.1L250.5 994.5L248.7 986.9L248.2 979.9L247.3 973.4L246 969L244.7 969.6M238.2 755.3L239.3 757.2L241.5 763.2L245.6 767.2L246.4 764.2L248.7 757.7L248.2 763.2L249.6 765.9L252.7 771.3L256.3 776.7L260.3 785.4L264.8 789.7L267.5 796.7L267.9 801.6L271.5 809.2L276.9 817.3L280.4 825.5L284 833L284.5 837.9L286.2 843.9L287.1 848.7L290.7 849.3L294.3 847.7L298.3 845L305.9 841.7L310.4 841.7L314.4 837.9L318.9 835.2L323.8 833L326.5 829.2L331.4 826.5L336.8 825.5L340.4 822.2L344.8 820.6L346.6 816.2L351.1 815.2L351.1 810.3L354.2 806.5L357.8 801.1L360 796.2L356.9 794L354.7 789.7L350.2 788.1L346.6 784.8L344.4 779.4L344.8 775.1L343.5 775.6L340.8 779.4L336.8 784.3L332.3 787L326 787L323.4 785.9L322 784.3L323.4 780.5L322.9 776.7L321.1 776.2L319.8 779.4L319.3 783.2L317.6 779.9L316.7 775.6L314.4 771.8L313.1 769.7L309.9 765.9L309.1 763.2L306.8 759.9L307.3 755.6L309.9 755.3L311.7 753.4L314.4 755L317.1 755L319.8 760.4L322 765.3L326.5 768.6L331.9 771.8L336.3 773.4L341.3 771.8L344.4 770.7L347.1 772.4L348.9 777.2L351.5 778.9L356.5 779.9L362.7 780.5L368.1 781L372.6 781L378.8 780.5L385.5 780.5L390.4 779.9L393.6 783.2L394.5 787.5L398.1 789.7L400.3 792.4L402.1 794L407 793.5L404.3 795.7L401.6 796.7L403.9 799.4L407.4 803.8L411.5 805.4L415.5 802.2L417.3 797.3L418.6 801.6L418.2 808.1L418.6 814.6L420.4 823.3L421.8 830.9L424 837.4L426.2 843.9L427.6 849.3L429.8 854.2L432 859L433.8 864.5L435.2 869.3L438.3 873.1L440.5 872.6L442.3 869.3L445.5 867.7L447.2 864.5L449.9 861.2L449.5 854.7L451.3 847.1L451.7 842.2L450.8 835.2L454.4 831.4L457.5 828.7L460.7 827.1L464.7 822.7L469.2 818.4L473.6 813L479 809.2L481.2 803.8L485.3 800L488.8 799.4L492 798.9L496 798.4L497.8 795.1L501.4 794.6L503.6 797.8L504.9 803.8L506.3 806.5L509.4 809.7L512.1 813.5L514.3 818.4L515.2 825.5L514.3 830.9L518.4 832L521.9 828.2L525.5 826.5L528.2 828.2L529.5 834.1L530.9 841.7L533.1 847.1L533.6 852.5L534 859L532.7 864.5L532.2 872L533.6 874.8L536.7 878.5L540.3 882.3L541.2 887.8L542.5 893.2L544.3 899.7L547 902.9L550.6 906.7L555 910L558.6 910L557.3 905.1L555 898.6L555 892.6L552.8 887.8L549.2 884L546.1 880.2L542.1 877.5L540.7 872L538.9 867.2L536.2 861.7L537.6 854.7L539.4 848.7L539.8 844.4L542.5 844.4L543.8 848.7L547.4 849.3L551 851.5L553.2 856.3L555.5 860.1L559.5 861.2L561.3 866.6L561.3 871L563.5 869.9L568 865.5L570.2 861.2L575.2 859L579.6 856.3L581 851.5L581.4 845.5L580.1 838.5L578.3 833L575.6 829.2L572 825.5L568.9 821.1L565.8 815.7L566.2 810.8L569.3 806.5L572.9 802.2L576.5 801.1L580.1 800.5L583.2 801.1L584.1 805.9L585.9 807.6L586.8 802.7L589.9 801.1L593.5 799.4L598 797.3L600.6 794.6L603.3 796.7L607.8 794L612.3 793.5L615 791.3L618.1 788.6L621.7 784.8L624.3 781.6L627.5 778.9L627.5 774.5L630.2 771.8L632.8 766.9L635.5 763.7L637.8 759.4L637.3 755.6L634.6 753.4L637.8 750.1L635.5 745.8L632.8 743.1L633.3 740.4L630.6 736.1L627.9 731.2L625.7 728.5L627.9 724.7L631.1 722L633.3 719.8L637.8 717.6L640.4 716L639.1 714.4L634.6 713.9L631.5 713.9L628.8 715.5L625.7 716L624.3 712.8L620.8 710.6L618.5 707.4L620.8 705.2L624.8 705.2L627 701.9L631.5 699.8L633.7 696.5L637.8 696L639.1 698.1L636 701.9L635.1 704.1L636.4 706.3L638.7 705.2L640.9 703L644.5 701.9L648.5 700.9L650.7 703L653.4 704.1L652.5 707.9L651.6 711.1L654.3 712.8L657 713.3L658.8 716.6L658.3 719.8L658.3 724.1L657.4 727.9L658.3 731.2L662.4 730.1L665.5 728.5L668.6 727.4L671.3 725.2L671.8 720.9L671.3 716.6L669.5 712.8L666.8 709L664.1 705.7L662.8 701.9L666.8 700.3L670.9 697.1L672.6 695.4L673.5 690.6L677.1 687.8L679.4 685.7L683.4 683.5L687.4 685.7L691.9 683L697.7 679.7L702.2 675.4L707.1 671.1L711.1 665.6L713.3 661.3L716.9 655.9L720.1 652.1L720.9 646.7L721.4 640.2L724.5 634.8L723.6 629.9L719.6 628.3L716 624.5L709.8 626.1L706.6 627.2L705.3 623.9L708.4 621.2L711.1 619L716 614.7L720.1 610.9L724.1 606.6L728.5 599.5L733.5 596.3L741.1 595.8L749.1 596.3L755.8 596.3L761.2 594.1L767 595.2L772.4 597.9L778.2 596.8L783.6 594.7L785.8 590.9L790.3 585.5M823.8 589.8L822.9 594.1L818 599L817.1 604.4L822.5 605.5L820.2 612.5L817.1 614.7L816.2 619.6L809.5 623.4L808.2 628.8L801.9 631.5L800.6 635.8L793.4 641.3L792.5 635.3L791.2 627.7L789.4 619.6L789.8 612.5L793.4 607.7L797 604.4L801.4 603.3L807.3 598.5L812.6 592.5L816.7 590.3M830.5 592.5L826 590.9L823.8 589.8M727.7 668.3L729.9 665.1L733.5 665.6L732.1 661.3L730.8 657.5L732.1 652.1L737.5 651.6L734.4 646.7L733 641.3L733.5 635.8L733 629.3L730.3 623.4L729 626.1L727.7 632.6L726.3 638.5L727.7 644L728.1 652.1L727.2 657.5L727.7 661.8L726.8 665.1L727.7 668.3M748.2 675.9L750.9 673.8L754 671.6L751.8 672.7L748.2 675.9M761.6 670L764.8 667.8L763.4 668.3L761.6 670M786.7 645L788.5 642.9L787.1 643.4L786.7 645M864.5 631.5L867.2 630.4L865.8 632L864.5 631.5M718.7 692.7L719.6 688.9L717.8 686.8L720.5 683.5L724.5 683L725.9 679.7L726.3 676.5L727.2 671.6L730.8 674.8L734.8 678.1L739.3 679.2L742.4 677.6L742.4 681.3L744.2 682.4L741.5 684.1L737.9 685.1L733.9 689.5L732.1 690.6L727.7 687.8L724.1 686.8L722.3 687.8L723.6 691.1L720.9 691.6L718.7 692.7M722.7 692.7L725 693.8L725.4 698.7L727.2 703L726.8 706.3L725.4 709.5L723.2 711.1L723.2 715.5L722.7 719.3L721.4 722.5L722.3 724.1L720.1 726.9L718.7 727.9L717.8 725.8L715.1 726.9L713.8 730.1L711.1 730.1L706.6 730.1L704.8 731.7L704.4 734.4L700.8 736.1L697.7 735L697.2 731.7L698.1 729.6L694.6 729.6L690.5 730.6L687.4 731.7L684.7 732.3L682.5 733.9L678.5 733.6L678 731.2L680.2 730.6L683.8 727.9L685.6 725.2L689.2 725.2L692.8 724.7L697.7 724.1L699.9 725.2L701.3 722.5L704 718.2L706.6 717.6L705.3 715.5L707.1 714.4L712.5 712.8L715.6 710.1L717.8 706.3L718.7 701.9L718.3 697.6L720.1 694.3L722.7 692.7M685.6 737.1L687 739.9L690.5 737.1L693.2 737.1L695 734.4L692.8 732.3L689.6 731.7L687 733.4L685.6 737.1M673.1 737.1L674.9 740.9L674.4 746.4L675.8 748.5L677.6 749.1L679.8 747.4L680.7 743.1L682.5 739.3L681.1 736.1L678.5 733.9L675.8 733.9L673.1 737.1M629.7 792.9L632.4 798.4L633.7 795.7L636 790.2L637.8 784.3L636.4 780.5L633.7 782.1L631.5 785.9L629.7 792.9M578.3 813.5L582.3 818.4L586.8 816.2L589 811.4L587.2 808.7L582.8 809.2L578.7 811.4L578.3 813.5M449.5 884L449.9 876.4L449.9 867.2L452.2 864.5L454.9 869.9L457.1 874.8L458.4 879.6L456.2 884L453.1 885.6L449.5 884M518.8 887.2L524.2 889.4L528.6 889.4L532.2 894.3L537.6 899.7L541.6 905.1L545.6 907.8L550.1 910.5L555 914.8L556.8 920.3L559.5 924.6L561.7 929.5L565.8 934.3L566.7 939.2L565.8 949L560.4 949.5L557.3 944.6L550.6 939.2L546.1 932.7L543.8 928.9L541.6 923.5L538.9 917L536.2 912.1L534 907.8L529.1 902.9L524.6 898L521.5 893.7L518.8 887.2M526.9 906.2L530 910.5L527.7 912.7L526.9 906.2M533.1 919.2L535.4 924.1L533.6 923L533.1 919.2M562.6 926.2L566.7 927.3L570.2 933.3L566.7 934.3L562.6 926.2M563.1 954.4L566.7 949.5L571.1 950.1L576.9 951.7L582.3 954.4L586.8 954.9L589.9 953.3L596.2 954.9L600.2 957.1L604.7 959.3L604.2 964.7L598.9 962.5L593.5 962.5L588.1 961.4L582.3 959.3L576.9 959.8L571.1 957.6L565.3 954.9L563.1 954.4M596.6 954.9L601.1 954.9L602.4 956L598 956.6L596.6 954.9M604.7 961.4L609.6 963.1L607.8 965.2L604.7 961.4M611.4 963.1L614.1 962.5L613.6 965.8L611.4 963.1M615 963.6L619.4 961.4L624.8 963.1L623 965.2L617.6 966.3L615 963.6M628.4 963.6L633.7 962.5L640.4 961.4L642.7 963.1L636.4 965.2L630.2 965.2L628.4 963.6M624.8 969.6L631.5 969.6L632.8 972.8L627 970.6L624.8 969.6M644.9 972.8L649.4 969L653.9 965.8L661.5 963.1L656.1 967.4L648.5 972.8L644.9 972.8M643.6 963.1L647.2 962.5L645.4 964.1L643.6 963.1M653.9 959.8L659.2 958.7L655.7 960.9L653.9 959.8M580.1 909.4L582.8 906.7L589 908.9L591.3 903.5L598 900.2L602 893.7L605.6 891L608.7 888.8L611.8 885L614.5 879.6L617.6 881.8L619.4 884.5L625.7 888.8L622.1 891L620.3 893.7L619 898L620.8 904.5L624.3 912.1L620.3 912.7L618.1 917.5L617.6 921.9L614.1 925.7L613.6 931.6L611.8 938.1L606.9 939.2L604.7 936.5L600.6 935.4L597.1 936L592.1 933.8L589 933.8L585.4 933.3L585 927.3L582.3 923L581 917.5L580.1 913.2L580.1 909.4M626.6 947.9L627.5 941.4L627.5 936L624.3 933.8L623.9 931.6L626.6 925.7L628.4 919.2L628.4 914.8L630.6 912.7L633.3 910.5L638.2 912.1L643.6 912.7L648.5 911L652.1 908.9L650.7 912.7L647.2 914.8L641.8 914.8L636 914.8L630.6 915.9L630.2 920.3L632 924.1L636.4 922.4L640.4 921.3L644 922.4L641.3 924.6L637.3 927.3L638.7 933.8L640.4 938.1L643.1 941.9L640.9 945.7L638.2 942.5L635.5 942.5L633.7 939.2L633.3 933.8L631.1 933.3L631.1 942.5L631.1 947.3L626.6 947.9M663.3 907.8L665 905.6L665 910L668.2 910.5L665 913.2L668.6 915.9L665.5 917.5L664.6 921.9L663.3 916.5L662.4 912.1L663.3 907.8M656.1 934.3L660.6 934.9L660.1 938.1L656.1 937.1L656.1 934.3M665.5 933.3L671.8 932.7L677.6 934.9L676.7 937.1L670.9 936L665.5 936L665.5 933.3M648.5 926.2L656.1 926.8L652.5 928.4L648.5 926.2M692.8 947.9L695.5 949L694.6 954.4L692.3 952.8L692.8 947.9M679.4 956.6L681.6 956L680.2 960.9L679.4 956.6M632 817.3L636 816.8L639.6 817.9L639.1 824.4L640 829.8L636.4 832.5L635.5 838.5L636.9 841.2L640 840.6L642.7 843.3L646.7 843.9L647.6 847.1L644 846.6L640.9 843.9L637.3 842.2L634.2 843.3L632 840.1L633.3 837.4L631.1 836.8L629.3 832L628.4 829.2L630.6 828.7L631.1 822.7L632 817.3M648.5 849.3L651.6 849.8L654.8 856.3L651.6 857.4L649.8 855.2L648.5 849.3M648.9 855.8L651.6 858L652.5 862.3L650.7 862.8L648.5 858.5L648.9 855.8M638.2 853.6L642.2 855.2L640.9 860.1L637.8 860.7L638.2 853.6M640.4 860.1L643.6 858.5L644.9 863.4L643.1 868.3L640 865L640.4 860.1M644.5 860.1L647.2 858L647.2 863.4L644.9 865L644.5 860.1M630.6 844.4L635.1 845.5L636 849.3L633.7 850.9L630.6 844.4M616.7 872L620.3 868.3L623.9 863.9L627 860.1L627.5 856.3L625.2 860.1L621.7 863.4L618.1 868.3L616.7 872M638.2 879.6L641.8 876.4L645.4 875.3L646.3 871.5L650.3 871L653.9 865.5L657.4 867.7L658.8 875.8L657 882.3L654.3 885L653 887.2L648.1 884L647.2 880.2L644 876.4L640.9 878.5L638.2 879.6M678 922.4L682.5 919.7L686.5 919.7L691.9 921.9L692.8 929.5L696.4 935.4L699 933.8L702.6 929.5L707.5 925.7L711.6 927.8L716 929.5L720.9 931.1L725.4 932.2L730.3 935.4L734.8 937.1L739.3 939.2L743.8 943.6L744.7 947.3L749.1 950.1L752.7 951.1L753.6 954.4L750.9 957.6L755.4 961.4L757.2 966.3L760.3 968.5L763 972.3L766.1 974.4L762.5 973.9L757.2 972.8L752.3 971.2L750 967.9L746.9 964.1L741.1 959.8L736.6 959.3L734.8 962L733 966.3L729.4 967.4L723.6 966.8L719.2 962L714.7 961.4L710.7 963.1L708.4 959.8L712 957.1L712.9 953.8L709.8 947.9L705.3 944.6L699.9 942.5L695.5 939.8L690.5 938.1L687 939.8L684.3 934.9L682.9 932.7L687.4 931.1L690.5 929.5L685.6 929.5L682 926.2L679.4 925.1L678 922.4M698.1 920.8L702.2 923L699 924.1L698.1 920.8M676.2 922.4L678.5 924.1L676.7 925.1L676.2 922.4M755.8 947.3L761.2 947.9L765.7 946.8L770.1 943.6L773.7 940.3L772.4 945.7L767.9 949L763.4 951.7L758.5 951.1L755.8 947.3M767 931.6L771.5 934.9L775.5 938.1L777.7 942.5L776 943L773.3 939.2L769.2 934.9L767 931.6M784 946.3L788 950.1L790.3 954.4L787.1 953.8L784.5 949.5L784 946.3M806.4 962.5L811.7 966.3L810.8 968.5L806.8 966.8L806.4 962.5M810.8 963.6L814 967.9L812.6 969L810.8 963.6M814 972.8L818.4 976.1L815.3 975L814 972.8M749.1 928.4L751.8 928.4L750.5 929.5L749.1 928.4M837.7 996.6L840.4 999.4L839.5 1002.1L837.7 999.9L837.7 996.6M842.6 1004.2L844.8 1006.9L843 1007.5L842.6 1004.2M885.5 1012.9L889.6 1011.3L891.3 1015.1L887.8 1016.7L885.5 1014.5L885.5 1012.9M891.3 1007.5L895.4 1006.9L897.6 1005.9L894.5 1009.1L891.3 1007.5M826 1027L830.5 1030.2L835 1034L837.2 1038.4L828.3 1031.3L826 1027M600.2 1036.7L602.9 1035.7L606.9 1033.5L611.4 1030.2L618.1 1029.7L623.9 1027L629.3 1024.8L635.1 1022.1L639.1 1015.1L640 1010.7L644.5 1009.6L645.4 1005.3L648.9 1005.3L649.8 1001L653.4 996.6L657 993.9L661 992.9L664.6 997.2L666.8 998.8L670.9 998.3L673.1 994.5L673.5 990.1L675.3 986.9L678 984.2L680.7 983.6L684.3 982.6L685.6 979.3L688.3 980.9L691.9 982.6L695.5 982.6L699.9 982.6L703.5 982L704.4 984.2L703.1 988.5L699.9 991.2L700.4 996.1L698.1 998.8L702.2 1002.1L706.2 1004.8L710.2 1008L714.2 1011.3L717.8 1012.9L721.4 1012.9L724.5 1007.5L725.4 1001L725.9 993.4L725.4 986.9L727.2 982L728.5 976.6L729.9 975.5L731.2 978.8L732.6 982.6L733.9 987.4L734.4 991.8L735.7 995.6L738.4 994.5L740.6 996.6L742.4 999.4L742.9 1004.2L745.1 1009.1L746.4 1016.1L747.3 1020.5L750.9 1022.6L754.5 1025.4L757.6 1028.1L759.9 1031.3L762.1 1038.9M674 980.4L677.6 978.8L680.7 979.3L678 982L674.9 982L674 980.4M703.1 992.3L704.8 992.3L704.4 994.5L703.1 992.3" fill="none" stroke="#959595" stroke-width="2.1" stroke-linejoin="round" stroke-linecap="round"/><path d="M382 728.9L382.9 725.6L385.3 724.8L388 725.2L390.2 724.1L392.6 724.8L394.8 724.3L397.1 722.8L399.9 722.6L401.8 719.9L404.7 718.6L404.8 715L403.5 712.1L401.8 710.6L399.9 708.9L396.9 710.1L393.9 709.9L389.8 709.6L389.4 708.3L391 706.5L392.9 704.9L395.3 705.4L397.2 703.3L399.8 704.2L401.8 702.7L404.2 702L406.7 701.4L409.3 701.3L412 701.6L413.9 699.8L416.5 699.6L418.9 698.9L420.7 696.9L416.8 695L414.4 695.7L412.1 695.5L409.9 695.1L406.6 694.7L403.3 695.6L401.5 692.1L402.3 688.3L405 687.6L407.8 686.8L410.2 687.6L412.5 687.3L414.7 686.3L417.5 686.6L420.1 686.2L422.8 686.5L425.1 686L427.3 685L429.9 686L432.5 683.8L435.7 683.7L438.7 684.2L441.6 683L444.6 683.4L447.5 682.4L450.3 683.3L452.9 683.3L455.6 682.7L458.6 683.1L461.4 681.9L464.6 680.5L462.1 679.9L459.5 679.1L456.9 679L454.3 678L451.7 677.4L449.2 677.9L447 677.3L444.1 677.8L442.8 675.6L446.5 673.9L449.1 675.1L451.8 675.3L454.4 674.9L456.8 674.1L459 673.5L462.6 674.3L464.5 678.2L467.6 678.3L470.6 679L473.6 679.4L476.2 681.3L479 681.1L481.3 682.3L483.5 685.3L481 686.9L478 688.3L475.1 687.7L472.7 688.5L470.4 688.9L468.1 689.2L465.8 689.3L463.6 690.6L461.2 690.8L458.9 691.3L456.3 690.9L453.9 691.6L452.1 693.9L449.8 694.7L447.1 695.5L444.4 696.3L441.6 696.7L439.3 697.2L437.1 698.5L435 699.5L431.7 700L428.8 701.3L426.7 702.3L424 704.1L425.7 706L427.3 708.1L429.9 711.2L431.7 713.2L434 714.3L435.7 716.8L438.1 717.7L440.5 719L442.7 719.5L445.2 719.3L447.4 719.9L449.6 719.9L451.9 720.8L454.2 719.8L456.3 719.9L459 719L461.6 717.9L464.4 717.1L466.4 715.8L468.6 714.9L471 714.3L473.2 713.4L475.8 712.8L478.1 711.2L481.1 711.7L483.4 710.2L485.7 708.7L488.2 708.1L490.8 707.5L493.3 706.8L495.7 705.9L498.4 706.7L500.9 706.4L503.2 705L505.5 704.5L507.6 703.4L509.8 702.9L512.2 702.8L514.8 702.2L517.6 702.7L520.2 701.1L522.9 701.2L525.4 703.2L528.1 702.7L530.6 703L532.6 704.6L535.2 704.7L537 706.5L538.9 708.4L541.2 709.3L543.6 710.2L546.2 710.7L548.1 712L550.3 712.8L551.7 714.9L553.9 715.6L554.3 716.6L551.2 719.2L553.4 721.7L554 724.7L555.1 727.2L556.1 730.1L557 733.1L558.2 736.1L559.5 738.8L559.6 742L558.3 744.8L556.9 747L555.8 749.3L554.4 751L553.2 753.6L552.5 756.2L551.1 758.6L549.7 760.4L549.6 762.8L547.8 764.4L547 766.1L544.9 768.1L543.5 770.9L541.7 772.3L539.7 773.5L537.8 774.7L535.8 776.1L533.7 776.9L533.1 774.6L532 772.3L530.1 770.8L529.1 768.8L527.7 766.6L524.3 766.6L521.7 764.5L519.8 762.7L517 761.4L514.3 762.3L511.6 763.6L509.8 765.6L507.1 766.2L504.7 768L501.7 768.2L499.2 768.8L496.7 770.2L494 770.5L491.5 769.9L488.7 769.9L485.9 770.5L483.2 770.1L480.5 769.2L478.3 766.9L475.6 766.2L472.6 766.5L470.3 764.6L467.8 763.5L464.9 762.9L462.1 762.2L459.6 760.7L457.2 759.9L455 758.7L454 755.9L451.7 755L449.7 753.6L448.3 751.6L445.8 750.8L444.3 748.6L442.3 747.7L439.8 747.7L437.9 746.6L435.9 745.5L433.8 744.3L432.2 742.5L429.7 741.5L428.9 739.3L427.4 737.6L427.5 734.8L424.6 733.1L422.7 730.6L420.3 728.8L418 726.6L415.2 726.8L412.9 725.3L410.2 725.3L407.8 726.1L405.4 726.9L403 728.9L399.9 729.4L397.9 730.8L396 732L393.4 732.2L392.4 734.2L390.5 736.6L389.3 739L387.5 737.5L385.7 736L384.8 733.9L383.7 731.9L382 728.9" fill="none" stroke="#252525" stroke-width="1.9" stroke-linejoin="round"/>
</g>
<rect x="92.6" y="592.5" width="805" height="433.4" fill="none" stroke="#000" stroke-width="2.2"/>
<path d="M83.6 592.5H92.6M83.6 700.9H92.6M83.6 809.2H92.6M83.6 917.5H92.6M83.6 1025.9H92.6M92.6 1025.9V1034.9M226.8 1025.9V1034.9M360.9 1025.9V1034.9M495.1 1025.9V1034.9M629.3 1025.9V1034.9M763.4 1025.9V1034.9M897.6 1025.9V1034.9" stroke="#000" stroke-width="2" fill="none"/>
<text transform="scale(0.85,1)" x="30" y="603.5" font-size="33" textLength="58.8" lengthAdjust="spacing" stroke="#000" stroke-width="0.35">60N</text>
<text transform="scale(0.85,1)" x="30" y="711.9" font-size="33" textLength="58.8" lengthAdjust="spacing" stroke="#000" stroke-width="0.35">40N</text>
<text transform="scale(0.85,1)" x="30" y="820.2" font-size="33" textLength="58.8" lengthAdjust="spacing" stroke="#000" stroke-width="0.35">20N</text>
<text transform="scale(0.72,1)" x="56.9" y="928.5" font-size="33" textLength="47.9" lengthAdjust="spacing" stroke="#000" stroke-width="0.35">EQ</text>
<text transform="scale(0.85,1)" x="33.5" y="1036.9" font-size="33" textLength="55.3" lengthAdjust="spacing" stroke="#000" stroke-width="0.35">20S</text>
<text transform="scale(0.85,1)" x="99.8" y="1061.9" font-size="33" textLength="18.2" lengthAdjust="spacing" stroke="#000" stroke-width="0.35">0</text>
<text transform="scale(0.85,1)" x="239.1" y="1061.9" font-size="33" textLength="55.3" lengthAdjust="spacing" stroke="#000" stroke-width="0.35">30E</text>
<text transform="scale(0.85,1)" x="397" y="1061.9" font-size="33" textLength="55.3" lengthAdjust="spacing" stroke="#000" stroke-width="0.35">60E</text>
<text transform="scale(0.85,1)" x="554.8" y="1061.9" font-size="33" textLength="55.3" lengthAdjust="spacing" stroke="#000" stroke-width="0.35">90E</text>
<text transform="scale(0.85,1)" x="702.7" y="1061.9" font-size="33" textLength="75.3" lengthAdjust="spacing" stroke="#000" stroke-width="0.35">120E</text>
<text transform="scale(0.85,1)" x="860.5" y="1061.9" font-size="33" textLength="75.3" lengthAdjust="spacing" stroke="#000" stroke-width="0.35">150E</text>
<text transform="scale(0.85,1)" x="1028.9" y="1061.9" font-size="33" textLength="54.1" lengthAdjust="spacing" stroke="#000" stroke-width="0.35">180</text>
<text transform="scale(0.92,1)" x="97.9" y="580.4" font-size="35" textLength="535.2" lengthAdjust="spacing" word-spacing="5" stroke="#000" stroke-width="0.35">(b) Geopotential Height(200 hPa)</text>
<text transform="scale(0.92,1)" x="816.8" y="579.9" font-size="35" textLength="159.6" lengthAdjust="spacing" word-spacing="5" stroke="#000" stroke-width="0.35">Unit: 10m</text>
<rect x="916.8" y="991.7" width="15.6" height="33.5" fill="#4a6fb0"/>
<rect x="916.8" y="958.5" width="15.6" height="33.5" fill="#5a8cc3"/>
<rect x="916.8" y="925.3" width="15.6" height="33.5" fill="#74aad3"/>
<rect x="916.8" y="892.1" width="15.6" height="33.5" fill="#8cc0dc"/>
<rect x="916.8" y="858.9" width="15.6" height="33.5" fill="#abd6e8"/>
<rect x="916.8" y="825.7" width="15.6" height="33.5" fill="#c8e6f1"/>
<rect x="916.8" y="792.5" width="15.6" height="33.5" fill="#deece9"/>
<rect x="916.8" y="759.3" width="15.6" height="33.5" fill="#fed98c"/>
<rect x="916.8" y="726.1" width="15.6" height="33.5" fill="#fdbc72"/>
<rect x="916.8" y="692.9" width="15.6" height="33.5" fill="#fa9f5c"/>
<rect x="916.8" y="659.7" width="15.6" height="33.5" fill="#f57e4e"/>
<rect x="916.8" y="626.5" width="15.6" height="33.5" fill="#ee5a3c"/>
<rect x="916.8" y="593.3" width="15.6" height="33.5" fill="#d93a2c"/>
<path d="M916.8 991.7H932.4M916.8 958.5H932.4M916.8 925.3H932.4M916.8 892.1H932.4M916.8 858.9H932.4M916.8 825.7H932.4M916.8 792.5H932.4M916.8 759.3H932.4M916.8 726.1H932.4M916.8 692.9H932.4M916.8 659.7H932.4M916.8 626.5H932.4" stroke="#111" stroke-width="1.8" fill="none"/>
<rect x="916.8" y="593.3" width="15.6" height="431.6" fill="none" stroke="#1a1a1a" stroke-width="1.9"/>
<text transform="scale(1.0,1)" x="938" y="998.5" font-size="20" textLength="37.5" lengthAdjust="spacing" font-weight="bold">1205</text>
<text transform="scale(1.0,1)" x="938" y="932.1" font-size="20" textLength="37.5" lengthAdjust="spacing" font-weight="bold">1215</text>
<text transform="scale(1.0,1)" x="938" y="865.7" font-size="20" textLength="37.5" lengthAdjust="spacing" font-weight="bold">1225</text>
<text transform="scale(1.0,1)" x="938" y="799.3" font-size="20" textLength="37.5" lengthAdjust="spacing" font-weight="bold">1235</text>
<text transform="scale(1.0,1)" x="938" y="732.9" font-size="20" textLength="37.5" lengthAdjust="spacing" font-weight="bold">1245</text>
<text transform="scale(1.0,1)" x="938" y="666.5" font-size="20" textLength="37.5" lengthAdjust="spacing" font-weight="bold">1255</text>
<clipPath id="cp2"><rect x="92.6" y="1129.8" width="805" height="433.4"/></clipPath>
<g clip-path="url(#cp2)">
<rect x="92.6" y="1129.8" width="805" height="433.4" fill="#4a6fb0"/>
<path fill="#74aad3" d="M84 1121L906 1121L906 1572L84 1572Z"/>
<path fill="#5a8cc3" d="M84 1235.5C85.5 1235.4 87.2 1235.8 92.7 1235C98.2 1234.2 108.3 1232.3 116.8 1231C125.3 1229.7 134.8 1228.3 143.7 1227C152.6 1225.7 161.6 1223.5 170.5 1223C179.4 1222.5 188.5 1224.2 197.4 1224C206.3 1223.8 215.3 1222.6 224.2 1221.6C233.1 1220.6 244.3 1217.6 251 1218C257.7 1218.4 259.7 1221.5 264.5 1224C269.3 1226.5 275.1 1230.3 280 1233C284.9 1235.7 289.9 1237.7 294.2 1240C298.5 1242.3 301.2 1244.3 306 1246.8C310.8 1249.3 317.5 1253.5 322.9 1255.2C328.2 1256.9 332.5 1258 338.1 1256.9C343.7 1255.8 351.6 1251.2 356.7 1248.4C361.8 1245.6 363.7 1242.8 368.6 1240C373.5 1237.2 381.7 1232.6 386.1 1231.7C390.5 1230.8 392.7 1231.5 394.8 1234.5C396.9 1237.5 399.4 1244.9 399 1250C398.6 1255.1 394.4 1260.8 392.2 1265.3C389.9 1269.8 388 1273 385.5 1277.2C383 1281.4 380.4 1286.8 377 1290.7C373.6 1294.6 370 1297.8 365.2 1300.8C360.4 1303.8 353.9 1306.4 348.3 1308.4C342.7 1310.4 337 1311.3 331.4 1312.7C325.8 1314.1 320.1 1315.5 314.5 1316.9C308.9 1318.3 303.2 1319.5 297.6 1321.1C292 1322.6 286.3 1324.8 280.7 1326.2C275.1 1327.6 269.4 1328.6 263.8 1329.6C258.2 1330.6 252.5 1331.3 246.9 1332.1C241.3 1332.9 238.2 1333.1 230 1334.6C221.8 1336.1 207.3 1339.1 197.4 1341C187.5 1342.9 179.4 1344.4 170.5 1346C161.6 1347.6 152.6 1349.2 143.7 1350.5C134.8 1351.8 125.3 1352.8 116.8 1353.5C108.3 1354.2 98.2 1354.2 92.7 1354.5C87.2 1354.8 85.5 1354.9 84 1355L80 1355L80 1235Z"/>
<path fill="#5a8cc3" d="M84 1480.5C85.5 1480.5 87.2 1480.2 92.7 1480.8C98.2 1481.4 108.3 1482.3 116.8 1484C125.3 1485.7 134.8 1488.9 143.7 1491C152.6 1493.1 161.6 1496.2 170.5 1496.5C179.4 1496.8 188.5 1494.8 197.4 1493C206.3 1491.2 215.3 1487.8 224.2 1486C233.1 1484.2 243.9 1482.2 251 1482.5C258.1 1482.8 261.4 1485.6 266.9 1487.9C272.4 1490.2 278.2 1493.2 283.8 1496.3C289.4 1499.4 295.1 1503.1 300.7 1506.5C306.3 1509.9 312 1513.5 317.6 1516.6C323.2 1519.7 328.9 1522.8 334.5 1525C340.1 1527.2 345.8 1528.7 351.4 1530.1C357 1531.5 362.7 1532.7 368.3 1533.5C373.9 1534.3 379.6 1534.7 385.2 1535.2C390.8 1535.7 395.2 1535.5 402.1 1536.5C409 1537.5 417.6 1539.5 426.5 1541.2C435.4 1543 445.7 1544.3 455.3 1547C464.9 1549.7 476.9 1554.4 484.1 1557.1C491.3 1559.8 495.4 1560.4 498.5 1562.9C501.6 1565.4 502.2 1570.5 503 1572L503 1572L84 1572Z"/>
<path fill="#5a8cc3" d="M611 1572C611.5 1570.8 613.1 1567.7 613.9 1565C614.7 1562.3 614 1560.1 615.8 1555.7C617.5 1551.3 618.2 1543.7 624.4 1538.4C630.6 1533.1 641.2 1526.9 653.2 1524C665.2 1521.1 684.5 1521.1 696.5 1521.1C708.5 1521.1 715.7 1522.6 725.3 1524C734.9 1525.4 745.5 1526.4 754.1 1529.7C762.8 1533 770.5 1538.8 777.2 1544.1C783.9 1549.4 791.2 1556.8 794.5 1561.4C797.8 1566.1 796.6 1570.2 797 1572Z"/>
<path fill="#4a6fb0" d="M84 1299C85.5 1298.6 87.2 1299 92.7 1296.8C98.2 1294.6 108.3 1290.2 116.8 1286C125.3 1281.8 134.8 1275.3 143.7 1271.3C152.6 1267.3 161.6 1264.8 170.5 1261.9C179.4 1259 188.5 1255.5 197.4 1253.8C206.3 1252.1 215.9 1251.8 224.2 1252C232.4 1252.2 240.3 1254 246.9 1255C253.5 1256 257.5 1256.8 264 1258C270.5 1259.2 280.2 1260.2 285.8 1262C291.4 1263.8 295.4 1265.3 297.6 1268.7C299.9 1272.1 299.9 1278.2 299.3 1282.2C298.7 1286.2 297.3 1289.9 294.2 1292.4C291.1 1295 285.8 1296.1 280.7 1297.5C275.6 1298.9 269.4 1299.7 263.8 1300.8C258.2 1301.9 253.5 1302.2 246.9 1304.2C240.3 1306.2 232.4 1310.3 224.2 1312.9C215.9 1315.5 206.3 1317.7 197.4 1319.7C188.5 1321.7 179.4 1323.7 170.5 1325C161.6 1326.3 152.6 1327.9 143.7 1327.7C134.8 1327.5 125.3 1324.2 116.8 1323.7C108.3 1323.2 98.2 1324.7 92.7 1325C87.2 1325.3 85.5 1325.4 84 1325.5L80 1325.5L80 1299Z"/>
<path fill="#4a6fb0" d="M84 1516C85.5 1516 87.2 1515.8 92.7 1516C98.2 1516.2 108.3 1516.3 116.8 1517.4C125.3 1518.5 134.8 1521.4 143.7 1522.7C152.6 1524 161.6 1525.4 170.5 1525.4C179.4 1525.4 188.5 1523.8 197.4 1522.7C206.3 1521.6 215.4 1519.4 224.2 1518.7C233 1518 242.9 1517.8 250 1518.3C257.1 1518.8 261.3 1519.5 266.9 1521.7C272.5 1524 278.2 1528.2 283.8 1531.8C289.4 1535.4 295.6 1538.8 300.7 1543.6C305.8 1548.4 311.6 1555.8 314.2 1560.5C316.8 1565.2 315.7 1570.1 316 1572L316 1572L140 1572L140 1572C139.7 1570 142.2 1564.5 138.3 1560.3C134.4 1556.1 124.4 1550 116.8 1546.9C109.2 1543.9 98.2 1543 92.7 1542C87.2 1541 85.5 1541.2 84 1541Z"/>
<path fill="#8cc0dc" d="M84 1370C85.5 1369.9 87.2 1369.8 92.7 1369.5C98.2 1369.2 108.3 1368.9 116.8 1368C125.3 1367.1 134.8 1365.3 143.7 1364C152.6 1362.7 161.6 1361.3 170.5 1360C179.4 1358.7 188.5 1357.5 197.4 1356C206.3 1354.5 215.9 1352.7 224.2 1351C232.4 1349.3 240.3 1346.9 246.9 1345.6C253.5 1344.3 258.2 1344.1 263.8 1343.1C269.4 1342.1 275.1 1340.8 280.7 1339.7C286.3 1338.6 292 1337.6 297.6 1336.3C303.2 1335 308.9 1333.5 314.5 1332.1C320.1 1330.7 325.8 1329.5 331.4 1327.9C337 1326.4 342.7 1324.8 348.3 1322.8C353.9 1320.8 360.1 1318.5 365.2 1316C370.3 1313.5 374.5 1311.2 378.7 1307.6C382.9 1303.9 387.3 1298.7 390.5 1294.1C393.7 1289.5 395.4 1285.3 398 1280C400.6 1274.7 403.7 1267 406.3 1262C408.9 1257 411.1 1253.6 413.5 1250C415.9 1246.4 417.1 1245.3 420.7 1240.3C424.3 1235.3 430.3 1226.8 435.1 1220.1C439.9 1213.4 444.7 1206.7 449.5 1200C454.3 1193.3 459.2 1186.5 464 1179.8C468.8 1173.1 472.2 1165.8 478.4 1159.6C484.6 1153.3 492.8 1147.1 501.4 1142.3C510 1137.5 523 1134.3 530.3 1130.8C537.6 1127.2 542.5 1122.6 545 1121L872 1121C873 1122.5 873.6 1127.1 878 1130.2C882.4 1133.3 893.6 1137.6 898.3 1139.4C903 1141.2 904.7 1140.7 906 1141L906 1560C904.7 1559.8 904.4 1559.7 898.3 1558.5C892.2 1557.3 879 1555.2 869.4 1552.8C859.8 1550.4 850.2 1547 840.6 1544.1C831 1541.2 821.4 1538.4 811.8 1535.5C802.2 1532.6 792.6 1529.2 783 1526.8C773.4 1524.4 763.7 1523 754.1 1521.1C744.5 1519.2 734.9 1517.2 725.3 1515.3C715.7 1513.4 706.1 1510.9 696.5 1509.5C686.9 1508.1 677.3 1506.9 667.7 1506.7C658.1 1506.5 647.6 1507.5 638.8 1508.1C630 1508.7 621.6 1509.5 615 1510.5C608.4 1511.5 604.4 1512.1 599.4 1513.9C594.4 1515.7 589.8 1518.5 585 1521.1C580.2 1523.7 577.8 1526.8 570.6 1529.7C563.4 1532.6 551.4 1536.5 541.8 1538.4C532.2 1540.3 522.6 1540.7 513 1541.2C503.4 1541.7 493.7 1542.2 484.1 1541.2C474.5 1540.2 464.9 1537.7 455.3 1535.5C445.7 1533.3 435.4 1530.7 426.5 1528.3C417.6 1525.9 410.3 1523.2 402 1521C393.7 1518.8 383.7 1516.8 376.7 1514.9C369.7 1513 365.4 1511.5 359.8 1509.8C354.2 1508.1 348.5 1506.8 342.9 1504.8C337.3 1502.8 331.6 1500.5 326 1498C320.4 1495.5 314.7 1492.7 309.1 1489.6C303.5 1486.5 297.8 1483.1 292.2 1479.4C286.6 1475.7 280.9 1471.1 275.3 1467.6C269.7 1464.1 263.4 1459.8 258.4 1458.5C253.3 1457.2 250.7 1458.5 245 1460C239.3 1461.5 232.1 1464.9 224.2 1467.7C216.3 1470.5 206.3 1474.8 197.4 1477C188.5 1479.2 179.4 1481.3 170.5 1481C161.6 1480.7 152.6 1477.2 143.7 1475C134.8 1472.8 125.3 1469.6 116.8 1468C108.3 1466.4 98.2 1465.8 92.7 1465.3C87.2 1464.8 85.5 1465 84 1465Z"/>
<path fill="#abd6e8" d="M84 1379.5C85.5 1379.4 87.2 1379.3 92.7 1379C98.2 1378.7 108.3 1378.2 116.8 1377.4C125.3 1376.6 134.8 1375.2 143.7 1374C152.6 1372.8 161.6 1371.3 170.5 1370C179.4 1368.7 188.5 1367.5 197.4 1366C206.3 1364.5 215.9 1362.6 224.2 1361C232.4 1359.4 240.3 1357.9 246.9 1356.6C253.5 1355.3 258.2 1354.3 263.8 1353.2C269.4 1352.1 275.1 1350.9 280.7 1349.8C286.3 1348.7 292 1347.8 297.6 1346.5C303.2 1345.2 308.9 1343.6 314.5 1342.2C320.1 1340.8 325.8 1339.5 331.4 1338C337 1336.5 342.7 1334.9 348.3 1332.9C353.9 1330.9 359.6 1328.7 365.2 1326.2C370.8 1323.7 376.5 1321.4 382.1 1317.7C387.7 1314 394.4 1309.7 399 1304.2C403.6 1298.8 406.5 1291.2 410 1285C413.5 1278.8 416.3 1272.8 420 1267C423.7 1261.2 427.6 1254.9 432 1250C436.4 1245.1 441.8 1242.4 446.7 1237.4C451.6 1232.4 454.9 1225.4 461.1 1220.1C467.3 1214.8 475.5 1210 484.1 1205.7C492.8 1201.4 503.4 1198 513 1194.2C522.6 1190.4 532.2 1186.6 541.8 1182.7C551.4 1178.8 560.9 1174.7 570.6 1171.1C580.3 1167.5 590.1 1163.7 600 1161C609.9 1158.3 618.7 1156.7 630 1155C641.3 1153.3 656.6 1151.3 667.7 1150.9C678.8 1150.5 686.9 1150.5 696.5 1152.4C706.1 1154.3 715.7 1158.9 725.3 1162.5C734.9 1166.1 744.5 1170.9 754.1 1174C763.7 1177.1 773.4 1179.5 783 1181.2C792.6 1182.9 802.2 1183.8 811.8 1184.1C821.4 1184.3 831 1182.7 840.6 1182.7C850.2 1182.7 859.8 1183.6 869.4 1184.1C879 1184.6 892.2 1185.2 898.3 1185.5C904.4 1185.8 904.7 1185.7 906 1185.7L906 1525.5C904.7 1525.5 904.4 1525.7 898.3 1525.4C892.2 1525.2 879 1524.7 869.4 1524C859.8 1523.3 850.2 1522.3 840.6 1521.1C831 1519.9 821.4 1517.9 811.8 1516.7C802.2 1515.5 792.6 1515.1 783 1513.9C773.4 1512.7 763.7 1511 754.1 1509.5C744.5 1508 734.9 1506.6 725.3 1505.2C715.7 1503.8 706.1 1502.1 696.5 1500.9C686.9 1499.7 677.3 1498.7 667.7 1498C658.1 1497.3 647.6 1496.7 638.8 1496.6C630 1496.5 621.6 1496.8 615 1497.5C608.4 1498.2 606.8 1499.9 599.4 1500.9C592 1502 580.2 1501.9 570.6 1503.8C561 1505.7 551.4 1509 541.8 1512.4C532.2 1515.8 522.6 1521.6 513 1524C503.4 1526.4 493.7 1527.3 484.1 1526.8C474.5 1526.3 464.9 1523.2 455.3 1521.1C445.7 1518.9 435.4 1516.1 426.5 1513.9C417.6 1511.7 409 1509.3 402.1 1508.1C395.2 1506.9 390.8 1507.6 385.2 1506.5C379.6 1505.4 373.9 1503.4 368.3 1501.4C362.7 1499.4 357 1497.1 351.4 1494.6C345.8 1492.1 340.1 1489 334.5 1486.2C328.9 1483.4 323.2 1480.8 317.6 1477.7C312 1474.6 306.3 1472.1 300.7 1467.6C295.1 1463.1 288.9 1455.1 283.8 1450.7C278.7 1446.3 275.9 1442.1 270.3 1441C264.7 1439.9 257.7 1442 250 1444C242.3 1446 233 1449.6 224.2 1452.9C215.4 1456.2 206.3 1461.5 197.4 1464C188.5 1466.5 179.4 1468 170.5 1468C161.6 1468 152.6 1465.3 143.7 1463.7C134.8 1462.1 125.3 1459.9 116.8 1458.3C108.3 1456.7 98.2 1455 92.7 1454.3C87.2 1453.6 85.5 1454 84 1454Z"/>
<path fill="#c8e6f1" d="M84 1386.5C85.5 1386.4 87.2 1386.2 92.7 1386C98.2 1385.8 108.3 1385.9 116.8 1385.4C125.3 1384.9 134.8 1383.9 143.7 1383C152.6 1382.1 161.6 1381.1 170.5 1380C179.4 1378.9 188.5 1377.7 197.4 1376.5C206.3 1375.3 215.9 1374.6 224.2 1373C232.4 1371.4 240.3 1368.5 246.9 1366.7C253.5 1365 258.2 1363.8 263.8 1362.5C269.4 1361.2 275.1 1360.1 280.7 1359.1C286.3 1358.1 292 1357.6 297.6 1356.6C303.2 1355.6 308.9 1354.6 314.5 1353.2C320.1 1351.8 325.8 1350.1 331.4 1348.1C337 1346.1 342.7 1343.7 348.3 1341.4C353.9 1339.2 359.6 1337.1 365.2 1334.6C370.8 1332.1 376.5 1329.6 382.1 1326.2C387.7 1322.8 394.4 1318.7 399 1314.3C403.6 1309.9 406.5 1304.9 410 1300C413.5 1295.1 416.7 1290 420 1285C423.3 1280 426.7 1274.8 430 1270C433.3 1265.2 436.8 1260 440 1256C443.2 1252 446 1248.6 449.5 1246C453 1243.4 455.3 1242.2 461.1 1240.3C466.9 1238.4 475.5 1235.9 484.1 1234.5C492.8 1233.1 503.4 1232.7 513 1231.7C522.6 1230.8 532.2 1229.8 541.8 1228.8C551.4 1227.8 561 1226.9 570.6 1225.9C580.2 1224.9 592 1223.8 599.4 1223C606.8 1222.2 608.4 1222.4 615 1221C621.6 1219.6 630 1216.7 638.8 1214.4C647.6 1212.1 658.1 1207.9 667.7 1207.2C677.3 1206.5 689.3 1208.5 696.5 1210C703.7 1211.5 706.2 1214.8 711 1216C715.8 1217.2 718.1 1218.2 725.3 1217.5C732.5 1216.8 744.5 1212.9 754.1 1211.5C763.7 1210.1 773.4 1209.4 783 1209C792.6 1208.6 802.2 1209.2 811.8 1209.2C821.4 1209.2 831 1209.2 840.6 1209.2C850.2 1209.2 859.8 1209.3 869.4 1209.2C879 1209.1 892.2 1208.7 898.3 1208.6C904.4 1208.5 904.7 1208.6 906 1208.6L906 1500.5C904.7 1500.6 904.4 1500.6 898.3 1500.9C892.2 1501.2 879 1501.6 869.4 1502.3C859.8 1503 850.2 1505 840.6 1505.2C831 1505.5 821.4 1504.5 811.8 1503.8C802.2 1503.1 792.6 1502.1 783 1500.9C773.4 1499.7 763.7 1498 754.1 1496.6C744.5 1495.1 734.9 1493.9 725.3 1492.2C715.7 1490.5 706.1 1487.7 696.5 1486.5C686.9 1485.3 677.3 1485.5 667.7 1485C658.1 1484.5 647.6 1483.8 638.8 1483.6C630 1483.4 621.6 1483.4 615 1483.6C608.4 1483.8 606.8 1484.5 599.4 1485C592 1485.5 580.2 1485.3 570.6 1486.5C561 1487.7 551.4 1489.3 541.8 1492.2C532.2 1495.1 522.6 1500.7 513 1503.8C503.4 1506.9 493.7 1510.5 484.1 1511C474.5 1511.5 464.9 1508.6 455.3 1506.7C445.7 1504.8 435.4 1501.1 426.5 1499.5C417.6 1497.9 409 1498 402.1 1497.2C395.2 1496.4 390.8 1496.1 385.2 1494.6C379.6 1493 373.9 1490.7 368.3 1487.9C362.7 1485.1 357 1481.1 351.4 1477.7C345.8 1474.3 340.1 1471 334.5 1467.6C328.9 1464.2 322.7 1461.2 317.6 1457.5C312.5 1453.8 308.1 1450.1 304.1 1445.6C300.2 1441.1 297.8 1433.8 293.9 1430.4C289.9 1427 285.7 1425.5 280.4 1425.3C275.1 1425.1 267.1 1427.6 262 1429C256.9 1430.4 256.3 1431.6 250 1433.8C243.7 1436 233 1439.2 224.2 1442.2C215.4 1445.2 206.3 1449.5 197.4 1452C188.5 1454.5 179.4 1456.6 170.5 1457C161.6 1457.4 152.6 1455.6 143.7 1454.3C134.8 1453 125.3 1450.5 116.8 1448.9C108.3 1447.3 98.2 1445.3 92.7 1444.5C87.2 1443.7 85.5 1444.1 84 1444Z"/>
<path fill="#deece9" d="M84 1394C85.5 1394 87.2 1393.8 92.7 1393.7C98.2 1393.6 108.3 1394 116.8 1393.5C125.3 1393 134.8 1391.9 143.7 1391C152.6 1390.1 161.6 1389 170.5 1388C179.4 1387 188.5 1385.9 197.4 1385C206.3 1384.1 215.9 1384 224.2 1382.7C232.4 1381.4 240.3 1378.4 246.9 1376.9C253.5 1375.4 258.2 1374.6 263.8 1373.5C269.4 1372.4 275.1 1371.2 280.7 1370.1C286.3 1369 292 1367.8 297.6 1366.7C303.2 1365.6 308.9 1364.8 314.5 1363.4C320.1 1362 325.8 1360.6 331.4 1358.3C337 1356 342.7 1352.3 348.3 1349.8C353.9 1347.3 359.6 1345.5 365.2 1343.1C370.8 1340.7 376.5 1338.6 382.1 1335.5C387.7 1332.4 393.6 1329.5 399 1324.5C404.4 1319.5 409.8 1311.2 414.8 1305.7C419.8 1300.2 425.6 1295.7 429.1 1291.4C432.6 1287.1 434 1283.6 436 1280C438 1276.4 438.6 1273.7 440.9 1270C443.1 1266.3 446.1 1261.5 449.5 1258C452.9 1254.5 455.3 1251.5 461.1 1249C466.9 1246.5 475.5 1244.5 484.1 1243.2C492.8 1242 503.4 1242 513 1241.5C522.6 1241 532.2 1240.8 541.8 1240.5C551.4 1240.2 561.3 1239.9 570.6 1240C579.9 1240.1 587 1241 597.4 1241C607.8 1241 621.4 1240.1 633.1 1239.8C644.8 1239.5 657.1 1239.1 667.7 1238.9C678.3 1238.8 686.9 1238.7 696.5 1238.9C706.1 1239.1 715.7 1240.3 725.3 1240.3C734.9 1240.3 744.5 1239.6 754.1 1238.9C763.7 1238.2 773.4 1236.7 783 1236C792.6 1235.3 802.2 1234.8 811.8 1234.5C821.4 1234.2 831 1234.2 840.6 1234.5C850.2 1234.8 859.8 1235.8 869.4 1236C879 1236.2 892.2 1236 898.3 1236C904.4 1236 904.7 1236 906 1236L906 1259C904.7 1259.2 904.4 1258.7 898.3 1260.5C892.2 1262.3 879 1265.9 869.4 1270C859.8 1274.1 850.2 1278.8 840.6 1285C831 1291.2 821.4 1302.3 811.8 1307.5C802.2 1312.7 792.6 1316.1 783 1316.1C773.4 1316.1 763.7 1309.7 754.1 1307.5C744.5 1305.3 734.9 1303.5 725.3 1303.2C715.7 1303 706.1 1304.3 696.5 1306C686.9 1307.7 675.4 1309.6 667.7 1313.2C660 1316.8 652.8 1322.4 650.4 1327.7C648 1333 650.3 1339.7 653.2 1345C656.1 1350.3 660.5 1355.6 667.7 1359.4C674.9 1363.2 686.9 1365.6 696.5 1368C706.1 1370.4 715.7 1371.1 725.3 1373.8C734.9 1376.5 744.5 1381.5 754.1 1383.9C763.7 1386.3 773.4 1386.1 783 1388.2C792.6 1390.3 802.2 1393.4 811.8 1396.8C821.4 1400.2 833.4 1404.6 840.6 1408.4C847.8 1412.2 851.4 1415.5 855 1419.9C858.6 1424.3 861 1428.7 862 1435C863 1441.3 862.9 1451 860.8 1457.7C858.7 1464.4 855.1 1470.1 849.3 1474.9C843.5 1479.7 834.9 1483.6 826.2 1486.5C817.6 1489.4 807 1492.2 797.4 1492.2C787.8 1492.2 778.1 1488.2 768.5 1486.5C758.9 1484.8 749.3 1483.4 739.7 1482.2C730.1 1481 720.5 1480.3 710.9 1479.3C701.3 1478.3 691.7 1477.6 682.1 1476.4C672.5 1475.2 662.8 1473.3 653.2 1472.1C643.6 1470.9 633.4 1469.9 624.4 1469.2C615.4 1468.5 608.4 1468.2 599.4 1467.7C590.4 1467.2 580.2 1466 570.6 1466.3C561 1466.5 551.4 1467.3 541.8 1469.2C532.2 1471.1 522.6 1474.4 513 1477.8C503.4 1481.2 493.7 1487 484.1 1489.4C474.5 1491.8 464.9 1492.7 455.3 1492.2C445.7 1491.7 435.4 1488.1 426.5 1486.5C417.6 1484.9 409 1483.8 402.1 1482.8C395.2 1481.8 390.8 1481.7 385.2 1480.3C379.6 1478.9 373.9 1477.1 368.3 1474.4C362.7 1471.7 357 1468.4 351.4 1464.2C345.8 1460 339.6 1454.6 334.5 1449C329.4 1443.4 324.9 1436.6 321 1430.4C317.1 1424.2 314.8 1416 310.8 1411.8C306.9 1407.6 301.6 1406.2 297.3 1405.1C293 1404 288.7 1404.5 285 1405C281.3 1405.5 279.1 1406.9 275.3 1408.4C271.5 1409.9 266.2 1411.7 262 1414C257.8 1416.3 256.3 1419.5 250 1422C243.7 1424.5 233 1425.9 224.2 1428.8C215.4 1431.7 206.3 1436.8 197.4 1439.5C188.5 1442.2 179.4 1444 170.5 1444.9C161.6 1445.8 152.6 1445.6 143.7 1444.9C134.8 1444.2 125.3 1442.5 116.8 1440.9C108.3 1439.3 98.2 1436.7 92.7 1435.5C87.2 1434.3 85.5 1434.2 84 1434Z"/>
<path fill="#fed98c" d="M84 1405.7C85.5 1405.6 87.2 1406 92.7 1405.3C98.2 1404.6 108.3 1402.8 116.8 1401.5C125.3 1400.2 134.8 1398.6 143.7 1397.5C152.6 1396.4 161.6 1395.7 170.5 1394.8C179.4 1393.9 188.5 1393 197.4 1392.1C206.3 1391.2 217 1390.1 224.2 1389.4C231.3 1388.7 236 1387.9 240.3 1387.8C244.6 1387.7 247.5 1387.7 250 1389C252.5 1390.3 254.7 1393 255.3 1395.5C255.9 1398 255.4 1401.4 253.7 1403.9C252 1406.4 248.1 1408.5 245 1410.5C241.9 1412.5 238.5 1413.8 235 1416C231.5 1418.2 230.5 1420.7 224.2 1424C217.9 1427.3 206.3 1433.2 197.4 1436C188.5 1438.8 179.4 1440.4 170.5 1441C161.6 1441.6 152.6 1440.9 143.7 1439.5C134.8 1438.1 125.3 1435.1 116.8 1432.8C108.3 1430.5 98.2 1427 92.7 1425.4C87.2 1423.8 85.5 1423.4 84 1423L80 1423L80 1405.7Z"/>
<path fill="#fed98c" d="M399 1329.6C403.4 1326.8 404.2 1326.4 408.4 1323.2C412.6 1320 419.4 1314.8 424.3 1310.4C429.2 1306 434.4 1301.1 437.5 1296.9C440.6 1292.7 441.5 1289.2 443 1285C444.5 1280.8 445.3 1276.2 446.5 1272C447.7 1267.8 448.1 1263.3 450 1260C451.9 1256.7 454.7 1254 458 1252C461.3 1250 464.7 1249 470 1248C475.3 1247 482.8 1246.3 490 1246C497.2 1245.7 504.4 1246 513 1246.1C521.6 1246.2 533.7 1245.8 541.8 1246.5C549.9 1247.2 552.3 1249 561.6 1250.5C570.9 1252 585.5 1253.8 597.4 1255.5C609.3 1257.2 624.2 1258.2 633.1 1260.5C642 1262.8 646.7 1266.5 651 1269.4C655.3 1272.3 659 1274.4 659 1278C659 1281.6 654.7 1286.3 651 1290.8C647.3 1295.3 642.1 1300 636.7 1305.1C631.3 1310.2 624.2 1316.5 618.8 1321.3C613.4 1326.1 607.8 1329.9 604.5 1333.8C601.2 1337.7 599.7 1340.8 599.1 1344.5C598.5 1348.2 598.8 1353.1 600.9 1356C603 1358.9 608.1 1360.9 612 1362C615.9 1363.1 619.9 1361 624.4 1362.5C628.9 1364 634 1367.3 638.8 1370.9C643.6 1374.5 646 1380.2 653.2 1384C660.4 1387.8 672.5 1391.4 682.1 1394C691.7 1396.6 701.3 1397.3 710.9 1399.7C720.5 1402.1 730.1 1405.6 739.7 1408.5C749.3 1411.4 760.8 1413.3 768.5 1417.2C776.2 1421.1 781.9 1426.9 785.8 1431.7C789.6 1436.5 792.1 1441.3 791.6 1446.1C791.1 1450.9 787.8 1456.4 783 1460.5C778.2 1464.6 770 1468.9 762.8 1470.6C755.6 1472.3 748.4 1471.8 739.7 1470.6C731.1 1469.4 720.5 1465.6 710.9 1463.4C701.3 1461.2 691.7 1459.6 682.1 1457.7C672.5 1455.8 662.8 1453.8 653.2 1451.9C643.6 1450 633.4 1448.2 624.4 1446.1C615.4 1443.9 608.4 1440.9 599.4 1439C590.4 1437.1 580.2 1433.9 570.6 1434.6C561 1435.3 551.4 1441 541.8 1443.2C532.2 1445.4 522.6 1445.9 513 1447.6C503.4 1449.3 494.7 1451.6 484.1 1453.3C473.5 1455 459.1 1459.4 449.5 1457.7C439.9 1456 433 1446.1 426.5 1443.2C420 1440.3 416 1441.3 410.5 1440.6C405 1439.9 398.4 1438.9 393.6 1438.9C388.8 1438.9 386 1439.2 381.8 1440.6C377.6 1442 372.8 1447.6 368.3 1447.3C363.8 1447 358.8 1442.6 354.8 1438.9C350.9 1435.2 346.9 1431 344.6 1425.3C342.3 1419.6 342.3 1410.9 341 1405C339.7 1399.1 337.2 1395.5 337 1390C336.8 1384.5 337.4 1376.5 339.8 1371.8C342.2 1367.1 347.5 1365.1 351.7 1361.7C355.9 1358.3 360.1 1355.2 365.2 1351.5C370.3 1347.8 376.5 1343.4 382.1 1339.7C387.7 1336 394.6 1332.3 399 1329.6Z"/>
<path fill="#fdbc72" d="M139 1413C141.3 1410.9 150.2 1411.5 156 1411.5C161.8 1411.5 171.7 1410.8 174 1413C176.3 1415.2 172.3 1422.3 170 1425C167.7 1427.7 164.2 1428.6 160.4 1429.3C156.6 1430 150.1 1429.9 147 1429C143.9 1428.1 143.3 1426.7 142 1424C140.7 1421.3 136.7 1415.1 139 1413Z"/>
<path fill="#fdbc72" d="M399 1341.4C404.6 1337.4 409.9 1332.4 415.6 1327.5C421.3 1322.6 428.4 1317.7 433.1 1312.2C437.8 1306.7 441.8 1301.3 444 1294.7C446.2 1288.1 445.1 1279.1 446.2 1272.8C447.3 1266.5 446.6 1260.7 450.6 1257C454.6 1253.3 461.6 1251.8 470.3 1250.5C479.1 1249.2 493.9 1249.3 503.1 1249.5C512.4 1249.7 519 1250.2 525.8 1251.5C532.6 1252.8 537.7 1255.1 543.7 1257C549.7 1258.9 555.6 1261.2 561.6 1263C567.6 1264.8 573.5 1266.6 579.5 1268C585.5 1269.4 591.4 1270.2 597.4 1271.2C603.4 1272.2 610.4 1272.6 615.2 1273.8C620 1275 624.2 1276 626 1278.3C627.8 1280.5 627.8 1284 626 1287.3C624.2 1290.6 620 1293.8 615.2 1298C610.4 1302.2 603.4 1307.5 597.4 1312.3C591.4 1317.1 584.9 1321.8 579.5 1326.6C574.1 1331.4 568.1 1336.1 565.1 1340.9C562.1 1345.7 561.9 1349.8 561.6 1355.2C561.3 1360.6 563.4 1367.1 563.4 1373.1C563.4 1379.1 563.1 1386.2 561.6 1391C560.1 1395.8 557.7 1398.9 554.4 1401.8C551.1 1404.7 548.7 1405.8 541.8 1408.6C534.9 1411.4 522.6 1416.5 513 1418.7C503.4 1420.9 493.7 1421.6 484.1 1421.6C474.5 1421.6 464.9 1420.1 455.3 1418.7C445.7 1417.3 436.1 1414.7 426.5 1413C416.9 1411.3 406.3 1410.1 397.7 1408.6C389.1 1407.1 380.9 1406.1 375 1404C369.1 1401.9 364.8 1399.2 362 1396C359.2 1392.8 359 1388.5 358.4 1385C357.8 1381.5 356.4 1378.8 358.4 1375.2C360.4 1371.6 366.4 1367.4 370.3 1363.4C374.2 1359.5 377.3 1355.2 382.1 1351.5C386.9 1347.8 393.4 1345.4 399 1341.4Z"/>
<path fill="#fa9f5c" d="M448.4 1279.4C448.1 1274.6 448.3 1269.3 449 1266C449.7 1262.7 449.2 1261.5 452.8 1259.7C456.4 1257.9 461.9 1255.8 470.3 1255C478.7 1254.2 493.9 1254.7 503.1 1255C512.4 1255.3 519 1255.8 525.8 1257C532.6 1258.2 537.7 1259.8 543.7 1262C549.7 1264.2 556.8 1267 561.6 1270C566.4 1273 569.6 1276.6 572.3 1280.1C575 1283.6 577.4 1286.6 577.7 1290.8C578 1295 575.9 1300.3 574.1 1305.1C572.3 1309.9 569.6 1314.7 566.9 1319.5C564.2 1324.3 561.3 1329.3 558 1333.8C554.7 1338.3 550 1341.8 547.3 1346.3C544.6 1350.8 543.4 1355.5 541.9 1360.6C540.4 1365.7 540 1372.3 538 1377C536 1381.7 533.5 1386.3 530 1389C526.5 1391.7 521.3 1392.3 516.8 1393C512.3 1393.7 509 1393.4 503.1 1393.1C497.2 1392.8 488.5 1390.9 481.2 1390.9C473.9 1390.9 466.6 1392 459.3 1393.1C452 1394.2 444.8 1396.7 437.5 1397.4C430.2 1398.1 422.9 1398.1 415.6 1397.4C408.3 1396.7 400.3 1395.6 393.7 1393.1C387.1 1390.5 379.8 1386.5 376.2 1382.1C372.6 1377.7 371.5 1371.5 371.9 1366.8C372.3 1362.1 374 1358.4 378.4 1353.7C382.8 1349 391.2 1342.8 398.1 1338.4C405 1334 412.7 1330.8 420 1327.5C427.3 1324.2 436.7 1321.2 441.8 1318.7C446.9 1316.2 449.1 1316.2 450.6 1312.2C452.1 1308.2 451 1300.2 450.6 1294.7C450.2 1289.2 448.7 1284.2 448.4 1279.4Z"/>
<path fill="#f57e4e" d="M452 1270C452.9 1266.4 454.6 1263.9 458 1262.5C461.4 1261.1 465 1261.8 472.5 1261.5C480 1261.2 492.5 1260.3 503.1 1260.5C513.7 1260.7 527.7 1260.9 535.9 1262.5C544.1 1264.1 548.5 1266.5 552.3 1270C556.1 1273.5 557.8 1278.7 558.8 1283.7C559.8 1288.7 559 1294.8 558.5 1300C558 1305.2 557.4 1310.5 556 1315C554.6 1319.5 553 1323.3 550 1327C547 1330.7 542.6 1333.3 538.3 1337C534 1340.7 528.8 1345 524.4 1349C520 1353 516.4 1358 512 1361C507.6 1364 504.1 1365.6 498 1367C491.9 1368.4 484 1368.5 475.7 1369.5C467.4 1370.5 456.6 1371.2 448.4 1373C440.2 1374.8 433.8 1378.6 426.5 1380C419.2 1381.4 410.9 1382 404.7 1381.5C398.5 1381 392.9 1379.5 389.4 1376.7C385.9 1373.9 383.5 1368.8 383.9 1364.6C384.2 1360.4 387.3 1355.1 391.5 1351.5C395.7 1347.9 401.9 1345.2 409 1343C416.1 1340.8 427.4 1339.6 433.9 1338.2C440.4 1336.8 442 1335.8 447.8 1334.7C453.6 1333.6 462.7 1332.1 468.7 1331.5C474.7 1330.9 481.1 1332.4 484 1331C486.9 1329.6 486 1325.5 486 1323C486 1320.5 486.6 1317.8 484 1316C481.4 1314.2 474 1314 470.1 1312.4C466.2 1310.8 462.9 1308.6 460.4 1306.2C457.8 1303.8 456.1 1301.5 454.8 1297.8C453.5 1294.1 453.2 1288.5 452.7 1283.9C452.2 1279.3 451.1 1273.6 452 1270Z"/>
<path fill="#ee5a3c" d="M463.1 1283.9C463.3 1280.2 464.1 1277.5 467.3 1275.6C470.6 1273.7 476.6 1273.2 482.6 1272.5C488.6 1271.8 495.4 1271.4 503.5 1271.4C511.6 1271.5 524.3 1271.7 531.3 1272.8C538.2 1273.9 542 1275.4 545.2 1278.3C548.4 1281.2 550 1284.4 550.5 1290C551 1295.6 549.6 1306.5 548 1311.7C546.4 1317 543.9 1320.6 541.1 1321.5C538.3 1322.4 535.2 1319.1 531.3 1317.3C527.3 1315.5 524.3 1311.6 517.4 1310.4C510.4 1309.2 496.6 1310.9 489.6 1310.4C482.7 1309.9 479.6 1309.7 475.7 1307.6C471.8 1305.5 468 1301.8 465.9 1297.8C463.8 1293.8 462.9 1287.6 463.1 1283.9Z"/>
<path fill="#d93a2c" d="M471.5 1288.1C472.4 1285.9 474.2 1282.7 478.4 1281.1C482.6 1279.5 490 1278.9 496.5 1278.3C503 1277.7 511.6 1277.2 517.4 1277.7C523.2 1278.2 527.6 1279.1 531.3 1281.1C535 1283.1 538.5 1286.7 539.7 1289.5C540.9 1292.3 540.8 1296.2 538.3 1297.8C535.8 1299.4 530.2 1298.5 524.4 1299.2C518.6 1299.9 510.5 1302 503.5 1302C496.5 1302 487.7 1300.5 482.6 1299.2C477.5 1297.9 474.9 1295.8 473 1294C471.1 1292.2 470.6 1290.2 471.5 1288.1Z"/>
<path d="M92.6 1179.6L96.2 1179.1L98.9 1177.5L96.6 1175.8L98.4 1174.2L100.2 1171L100.2 1169.3L98.4 1168L93.9 1167.5L94.2 1165.6L92.6 1164.2M92.6 1187.2L97.1 1184.5L99.8 1182.9L99.8 1179.1L103.8 1178L107.8 1176.4L110.9 1173.7L113.2 1170.4L114.1 1167.2L117.6 1165.6L123 1165L125.2 1163.9L128.8 1164.7L131.1 1162.8L132.8 1162.3L131.5 1160.1L131.1 1156.9L129.3 1154.2L128.8 1150.4L129.7 1146.6L134.2 1145.5L137.3 1143.3L140 1142L139.1 1145L138.7 1147.7L141.3 1149.3L138.7 1151.5L136.4 1153.6L135.5 1156.3L137.3 1158.5L141.3 1162.3L144 1161.8L147.6 1160.7L151.2 1160.1L154.3 1161.8L156.6 1162.8L161.9 1161.2L166.8 1159.1L172.7 1157.7L175.8 1159.1L178.9 1160.1L181.6 1159.1L187 1155.8L187 1151.5L186.5 1147.1L189.2 1143.9L193.2 1142L196.8 1145.5L200.4 1145.5L201.7 1141.2L199 1138.5L197.7 1134.7L201.3 1132.5L207.1 1132L213.3 1132.8L218.3 1132.5L222.3 1130.3L227.7 1130.1L223.6 1129L220.1 1127.1M141.8 1152L146.3 1150.9L148.9 1153.1L147.2 1155.8L144 1156.3L141.8 1154.7L141.8 1152M136.4 1154.2L139.6 1154.2L140.9 1155.8L138.7 1156.9L136.4 1155.8L136.4 1154.2M115 1128.7L115.9 1132.5L117.6 1135.8L118.1 1138.5L122.1 1140.4L126.1 1140.6L130.2 1139L134.6 1136L137.3 1135.2L139.6 1132.5L140.7 1130.3L141.3 1133.1L142.7 1134.7L144.9 1138.5L145.8 1142.3L148.1 1146.6L149.8 1148.8L148.9 1151.5L150.3 1154.2L153.4 1154.7L156.1 1154.7L157 1152L158.8 1150.4L163.7 1150.9L165.9 1148.2L166.4 1143.9L167.3 1140.6L168.2 1137.4L171.8 1135.8L174.9 1133.6L176.2 1130.9L172.7 1128.7L170.9 1126M174 1146.1L176.2 1144.4L177.6 1141.2L174.9 1142.3L173.5 1144.4L174 1146.1M165.9 1150.4L168.2 1146.6L166.8 1147.7L165.9 1150.4M191 1139L194.6 1137.4L196.8 1138.5L193.2 1140.6L191 1139M226.8 1127.1L231.2 1129.8L237.9 1128.2L239.3 1124.9L235.7 1123.3M92.6 1244.7L93.5 1240.9L92.6 1238.7L94.8 1235.4L96.6 1232.7L101.5 1231.1L106.9 1227.9L106.5 1224.6L106 1220.8L110 1219.2L114.1 1220L119 1221.4L122.6 1220.8L126.1 1217.6L129.7 1216.5L132.4 1214.3L135.5 1215.9L138.2 1217L139.6 1220.8L142.2 1224.6L145.4 1227.3L148.9 1230.6L151.6 1231.6L155.2 1233.3L157.4 1234.9L159.2 1236.5L162.4 1238.1L163.3 1241.4L164.6 1245.2L162.8 1247.9L164.2 1249.3L166.8 1246.8L169.1 1243.8L166.8 1240.3L168.2 1236L170.9 1236.5L175.3 1237.3L174 1234.9L169.1 1232.7L164.2 1230L164.6 1227.9L160.1 1227.6L156.1 1224.6L153.4 1219.2L148.1 1215.4L147.6 1211.6L148.5 1208.4L151.2 1207.3L153.9 1207.8L153.4 1210.5L154.8 1212.1L159.2 1210.5L159.2 1213.2L163.7 1218.6L168.2 1220.8L171.8 1222.4L175.3 1225.1L177.6 1227.3L179.4 1228.9L179.8 1231.6L179.4 1236L182 1239.8L185.2 1243L187 1247.4L189.2 1247.9L193.2 1248.4L196.4 1249.5L194.6 1251.7L195.9 1257.1L193.2 1257.1L191.9 1254.4L189.6 1254.9L189.2 1251.2L187 1250.1L187.9 1247.4L186.5 1245.7L185.6 1243.6M196.4 1249.3L199.9 1250.6L199.9 1247.9L197.7 1245.7L194.6 1244.1L196.8 1241.9L193.7 1237.6L195 1234.9L198.6 1237.1L201.3 1234.4L205.7 1233L209.3 1234.1L210.2 1236L212 1235.4L214.7 1236L217.8 1235.7L222.3 1236L224.1 1234.1L222.3 1232.2L217.8 1232.7L215.6 1233L212.5 1234.9M209.8 1238.1L212 1241.9L212.9 1245.7L214.2 1249L214.7 1252.2L216 1255.5L219.2 1255.5L222.7 1256.6L227.7 1258.2L229.4 1255.2L233.9 1256.6L238.4 1259.3L242.9 1258.7L247.3 1255.5L251.8 1256.6L254.5 1256L253.2 1260.4L252.7 1265.2L251.4 1269.6L249.6 1275.5L248.7 1279.3L246.9 1284.2L245.6 1285.3L241.1 1286.4L237.1 1285.6L231.2 1283.9L226.8 1285.3L222.3 1287.4L216.5 1286.4L208 1283.7L204.4 1282.6L199.9 1281.5L195.9 1278.2L191 1276.6L185.6 1278.2L182 1282L182 1286.9L178 1290.7L173.1 1288L166.4 1285.8L161.5 1282L159.7 1279.3L154.3 1277.2L148.5 1276.6L143.6 1275L140.9 1272.3L137.8 1269.6L140.9 1265.8L142.2 1262L139.6 1258.2L141.8 1254.4L138.2 1253.3L135.1 1252.8L131.1 1254.9L126.1 1254.4L120.8 1254.9L115.4 1256L110.5 1254.9L106 1255.5L100.6 1256.6L96.2 1258.2L92.6 1260.4M148.1 1249.8L152.1 1247.9L156.1 1249L162.4 1247.6L160.1 1252.2L160.1 1256L156.6 1254.4L151.2 1251.7L148.1 1249.8M130.2 1243.6L133.3 1242.5L135.5 1242.5L136.4 1235.4L133.7 1231.6L129.7 1233.3L130.6 1237.6L130.2 1243.6M131.1 1227.9L134.2 1230L135.3 1225.7L134.6 1221.9L131.1 1225.1L131.1 1227.9M197.7 1263.3L201.7 1263.3L206.6 1263.6L210.2 1264.2L204.4 1265.2L199.9 1264.7L197.7 1263.3M237.1 1265.8L240.6 1263.3L246.9 1262L244.2 1265L240.2 1267.4L237.1 1265.8M98 1244.7L99.8 1243L98.4 1243L98 1244.7M103.3 1240.9L107.8 1239.2L106.5 1241.9L103.3 1240.9M217.8 1227.9L216 1225.1L217.4 1222.4L220.1 1219.7L220.5 1214.9L225 1212.1L225.4 1209.4L228.1 1205.1L231.2 1202.4L235.7 1202.9L240.6 1205.6L238.4 1208.4L242 1210L242.9 1213.2L245.6 1214L249.6 1212.1L251.8 1210L255.8 1209.2L253.6 1207.8L250.5 1206.7L248.2 1204.6L250.5 1202.9L256.7 1201.9L263.4 1199.7L267.9 1199.1L263.9 1202.4L261.6 1205.6L260.8 1209.4L257.2 1210.5L259.9 1212.7L265.2 1214.9L271 1219.7L278.2 1224.1L278.6 1229.5L274.2 1232.7L269.3 1232.7L263.9 1233L258.1 1231.9L253.6 1228.9L249.6 1227.3L242.4 1227.3L236.6 1228.4L232.6 1231.6L226.8 1231.6L222.7 1231.4L217.8 1227.9M302.8 1213.8L305 1221.9L309.9 1228.4L313.5 1233.3L317.1 1236L314 1237.1L312.6 1241.9L311.3 1246.8L312.2 1251.2L317.6 1253.9L323.4 1255.8L329.6 1254.9L333.7 1252.8L333.2 1247.4L330.5 1241.9L332.3 1239.8L328.7 1237.1L329.2 1232.7L327.4 1228.4L329.6 1226.8L327.8 1224.1L322 1220.8L319.8 1216.5L317.6 1214.3L322 1213.2L320.7 1209.4L329.6 1209.4L330.5 1204.6L325.2 1201.3L316.2 1202.4L312.6 1203.5L309.9 1205.6L305.5 1207.8L301.5 1212.1L302.8 1213.8M353.3 1211.1L355.6 1207.3L359.1 1204.6L362.7 1202.9L366.3 1204L368.1 1207.8L364.5 1211.6L361.8 1216.5L357.4 1218.6L353.8 1217.6L353.3 1211.1M421.3 1206.2L424.4 1202.4L429.8 1202.4L434.7 1202.9L440.5 1201.9L445.9 1200.8L446.8 1203.5L442.3 1204.3L437 1204.6L431.1 1205.1L427.1 1207.8L423.1 1211.1L421.3 1206.2M556.8 1175.3L561.3 1175.8L567.5 1171.5L573.4 1168.3L578.7 1164.5L582.3 1158.5L584.1 1153.1L581.4 1154.2L577.8 1159.1L572.5 1164.5L568 1167.7L562.2 1172.1L557.7 1173.7L556.8 1175.3M92.6 1424.5L98 1421.8L103.8 1420.4L108.3 1420.2L112.7 1421.3L115.4 1424.5L117.6 1429.9L121.2 1431.6L124.8 1431L130.2 1429.9L132.4 1431L134.6 1433.7L136.9 1437.5L136.4 1442.9L135.5 1448.3L134.2 1452.7L132.8 1458.1L134.2 1463.5L137.8 1470L141.8 1476L145.4 1480.9L147.6 1486.8L149.8 1491.7L152.1 1499.3L151.6 1503.6L153.4 1511.7L154.3 1516.6L151.2 1523.1L148.5 1528L147.2 1533.4L145.4 1540.4L145.4 1546.9L146.7 1551.8L149.8 1557.8L152.1 1564.3M130.6 1437L132.4 1434.8L131.5 1434.3L130.6 1437M238.2 1292.6L238.8 1297.7L242.9 1305.3L244.7 1310.7L248.7 1319.4L251.8 1328.1L255.4 1334.6L259 1340.5L259.9 1351.9L264.3 1357.3L267 1365.5L270.1 1372.5L275.5 1376.8L278.6 1381.7L282.7 1386.6L286.2 1389.8L285.8 1393.1L288.5 1397.4L292.1 1398.5L296.1 1397.4L301 1396.3L305.9 1394.7L311.7 1393.6L316.2 1392.5L321.6 1390.9L321.1 1395.3L320.7 1399L319.3 1405L316.2 1411.5L313.1 1419.6L309.5 1427.8L305 1434.3L299.2 1442.4L293.9 1446.2L288.5 1451.1L282.7 1458.1L278.2 1464.1L274.2 1468.4L271.5 1472.7L269.7 1478.7L267 1483L266.1 1489.5L268.8 1494.4L268.4 1500.4L270.1 1506.9L273.3 1511.7L273.7 1519.9L274.2 1528.5L274.6 1533.9L271.5 1541.5L267.5 1546.9L259.9 1551.8L254.9 1556.7L250.5 1562.7L248.7 1565.9M313.1 1519.9L315.8 1526.9L317.1 1533.9L318 1539.4L315.3 1544.2L314 1549.7L312.6 1556.7L310.4 1566.5L308.2 1574L289.4 1574L288.5 1565.9L291.2 1560.5L290.3 1552.4L289.4 1546.9L291.2 1543.2L296.1 1541.5L300.1 1539.4L304.1 1535L306.8 1530.7L308.6 1526.9L310.8 1523.1L313.1 1519.9M331 1387.1L334.1 1386L336.3 1387.1L334.1 1388.2L331 1387.1M152.1 1384.4L154.8 1379L158.8 1380.1L160.1 1383.9L157.9 1387.7L154.3 1387.1L152.1 1384.4M234.4 1460.3L235.7 1454.3L241.1 1453.2L245.1 1455.9L243.8 1461.4L244.7 1466.8L240.2 1468.9L235.7 1467.3L234.4 1460.3M222.7 1473.3L222.7 1479.8L223.6 1487.4L226.3 1492.2L228.1 1498.2L230.3 1502.5L232.6 1501.4L230.8 1496L228.6 1490.6L226.3 1486.3L225.4 1479.8L224.5 1473.3L222.7 1473.3M244.7 1506.9L245.1 1514.4L246 1522.6L246.9 1530.2L249.1 1533.4L250.5 1531.8L248.7 1524.2L248.2 1517.2L247.3 1510.7L246 1506.3L244.7 1506.9M238.2 1292.6L239.3 1294.5L241.5 1300.5L245.6 1304.5L246.4 1301.5L248.7 1295L248.2 1300.5L249.6 1303.2L252.7 1308.6L256.3 1314L260.3 1322.7L264.8 1327L267.5 1334L267.9 1338.9L271.5 1346.5L276.9 1354.6L280.4 1362.8L284 1370.3L284.5 1375.2L286.2 1381.2L287.1 1386L290.7 1386.6L294.3 1385L298.3 1382.3L305.9 1379L310.4 1379L314.4 1375.2L318.9 1372.5L323.8 1370.3L326.5 1366.5L331.4 1363.8L336.8 1362.8L340.4 1359.5L344.8 1357.9L346.6 1353.5L351.1 1352.5L351.1 1347.6L354.2 1343.8L357.8 1338.4L360 1333.5L356.9 1331.3L354.7 1327L350.2 1325.4L346.6 1322.1L344.4 1316.7L344.8 1312.4L343.5 1312.9L340.8 1316.7L336.8 1321.6L332.3 1324.3L326 1324.3L323.4 1323.2L322 1321.6L323.4 1317.8L322.9 1314L321.1 1313.5L319.8 1316.7L319.3 1320.5L317.6 1317.2L316.7 1312.9L314.4 1309.1L313.1 1307L309.9 1303.2L309.1 1300.5L306.8 1297.2L307.3 1292.9L309.9 1292.6L311.7 1290.7L314.4 1292.3L317.1 1292.3L319.8 1297.7L322 1302.6L326.5 1305.9L331.9 1309.1L336.3 1310.7L341.3 1309.1L344.4 1308L347.1 1309.7L348.9 1314.5L351.5 1316.2L356.5 1317.2L362.7 1317.8L368.1 1318.3L372.6 1318.3L378.8 1317.8L385.5 1317.8L390.4 1317.2L393.6 1320.5L394.5 1324.8L398.1 1327L400.3 1329.7L402.1 1331.3L407 1330.8L404.3 1333L401.6 1334L403.9 1336.7L407.4 1341.1L411.5 1342.7L415.5 1339.5L417.3 1334.6L418.6 1338.9L418.2 1345.4L418.6 1351.9L420.4 1360.6L421.8 1368.2L424 1374.7L426.2 1381.2L427.6 1386.6L429.8 1391.5L432 1396.3L433.8 1401.8L435.2 1406.6L438.3 1410.4L440.5 1409.9L442.3 1406.6L445.5 1405L447.2 1401.8L449.9 1398.5L449.5 1392L451.3 1384.4L451.7 1379.5L450.8 1372.5L454.4 1368.7L457.5 1366L460.7 1364.4L464.7 1360L469.2 1355.7L473.6 1350.3L479 1346.5L481.2 1341.1L485.3 1337.3L488.8 1336.7L492 1336.2L496 1335.7L497.8 1332.4L501.4 1331.9L503.6 1335.1L504.9 1341.1L506.3 1343.8L509.4 1347L512.1 1350.8L514.3 1355.7L515.2 1362.8L514.3 1368.2L518.4 1369.3L521.9 1365.5L525.5 1363.8L528.2 1365.5L529.5 1371.4L530.9 1379L533.1 1384.4L533.6 1389.8L534 1396.3L532.7 1401.8L532.2 1409.3L533.6 1412.1L536.7 1415.8L540.3 1419.6L541.2 1425.1L542.5 1430.5L544.3 1437L547 1440.2L550.6 1444L555 1447.3L558.6 1447.3L557.3 1442.4L555 1435.9L555 1429.9L552.8 1425.1L549.2 1421.3L546.1 1417.5L542.1 1414.8L540.7 1409.3L538.9 1404.5L536.2 1399L537.6 1392L539.4 1386L539.8 1381.7L542.5 1381.7L543.8 1386L547.4 1386.6L551 1388.8L553.2 1393.6L555.5 1397.4L559.5 1398.5L561.3 1403.9L561.3 1408.3L563.5 1407.2L568 1402.8L570.2 1398.5L575.2 1396.3L579.6 1393.6L581 1388.8L581.4 1382.8L580.1 1375.8L578.3 1370.3L575.6 1366.5L572 1362.8L568.9 1358.4L565.8 1353L566.2 1348.1L569.3 1343.8L572.9 1339.5L576.5 1338.4L580.1 1337.8L583.2 1338.4L584.1 1343.2L585.9 1344.9L586.8 1340L589.9 1338.4L593.5 1336.7L598 1334.6L600.6 1331.9L603.3 1334L607.8 1331.3L612.3 1330.8L615 1328.6L618.1 1325.9L621.7 1322.1L624.3 1318.9L627.5 1316.2L627.5 1311.8L630.2 1309.1L632.8 1304.2L635.5 1301L637.8 1296.7L637.3 1292.9L634.6 1290.7L637.8 1287.4L635.5 1283.1L632.8 1280.4L633.3 1277.7L630.6 1273.4L627.9 1268.5L625.7 1265.8L627.9 1262L631.1 1259.3L633.3 1257.1L637.8 1254.9L640.4 1253.3L639.1 1251.7L634.6 1251.2L631.5 1251.2L628.8 1252.8L625.7 1253.3L624.3 1250.1L620.8 1247.9L618.5 1244.7L620.8 1242.5L624.8 1242.5L627 1239.2L631.5 1237.1L633.7 1233.8L637.8 1233.3L639.1 1235.4L636 1239.2L635.1 1241.4L636.4 1243.6L638.7 1242.5L640.9 1240.3L644.5 1239.2L648.5 1238.1L650.7 1240.3L653.4 1241.4L652.5 1245.2L651.6 1248.4L654.3 1250.1L657 1250.6L658.8 1253.9L658.3 1257.1L658.3 1261.4L657.4 1265.2L658.3 1268.5L662.4 1267.4L665.5 1265.8L668.6 1264.7L671.3 1262.5L671.8 1258.2L671.3 1253.9L669.5 1250.1L666.8 1246.3L664.1 1243L662.8 1239.2L666.8 1237.6L670.9 1234.4L672.6 1232.7L673.5 1227.9L677.1 1225.1L679.4 1223L683.4 1220.8L687.4 1223L691.9 1220.3L697.7 1217L702.2 1212.7L707.1 1208.4L711.1 1202.9L713.3 1198.6L716.9 1193.2L720.1 1189.4L720.9 1184L721.4 1177.5L724.5 1172.1L723.6 1167.2L719.6 1165.6L716 1161.8L709.8 1163.4L706.6 1164.5L705.3 1161.2L708.4 1158.5L711.1 1156.3L716 1152L720.1 1148.2L724.1 1143.9L728.5 1136.8L733.5 1133.6L741.1 1133.1L749.1 1133.6L755.8 1133.6L761.2 1131.4L767 1132.5L772.4 1135.2L778.2 1134.1L783.6 1132L785.8 1128.2L790.3 1122.8M823.8 1127.1L822.9 1131.4L818 1136.3L817.1 1141.7L822.5 1142.8L820.2 1149.8L817.1 1152L816.2 1156.9L809.5 1160.7L808.2 1166.1L801.9 1168.8L800.6 1173.1L793.4 1178.6L792.5 1172.6L791.2 1165L789.4 1156.9L789.8 1149.8L793.4 1145L797 1141.7L801.4 1140.6L807.3 1135.8L812.6 1129.8L816.7 1127.6M830.5 1129.8L826 1128.2L823.8 1127.1M727.7 1205.6L729.9 1202.4L733.5 1202.9L732.1 1198.6L730.8 1194.8L732.1 1189.4L737.5 1188.9L734.4 1184L733 1178.6L733.5 1173.1L733 1166.6L730.3 1160.7L729 1163.4L727.7 1169.9L726.3 1175.8L727.7 1181.3L728.1 1189.4L727.2 1194.8L727.7 1199.1L726.8 1202.4L727.7 1205.6M748.2 1213.2L750.9 1211.1L754 1208.9L751.8 1210L748.2 1213.2M761.6 1207.3L764.8 1205.1L763.4 1205.6L761.6 1207.3M786.7 1182.3L788.5 1180.2L787.1 1180.7L786.7 1182.3M864.5 1168.8L867.2 1167.7L865.8 1169.3L864.5 1168.8M718.7 1230L719.6 1226.2L717.8 1224.1L720.5 1220.8L724.5 1220.3L725.9 1217L726.3 1213.8L727.2 1208.9L730.8 1212.1L734.8 1215.4L739.3 1216.5L742.4 1214.9L742.4 1218.6L744.2 1219.7L741.5 1221.4L737.9 1222.4L733.9 1226.8L732.1 1227.9L727.7 1225.1L724.1 1224.1L722.3 1225.1L723.6 1228.4L720.9 1228.9L718.7 1230M722.7 1230L725 1231.1L725.4 1236L727.2 1240.3L726.8 1243.6L725.4 1246.8L723.2 1248.4L723.2 1252.8L722.7 1256.6L721.4 1259.8L722.3 1261.4L720.1 1264.2L718.7 1265.2L717.8 1263.1L715.1 1264.2L713.8 1267.4L711.1 1267.4L706.6 1267.4L704.8 1269L704.4 1271.7L700.8 1273.4L697.7 1272.3L697.2 1269L698.1 1266.9L694.6 1266.9L690.5 1267.9L687.4 1269L684.7 1269.6L682.5 1271.2L678.5 1270.9L678 1268.5L680.2 1267.9L683.8 1265.2L685.6 1262.5L689.2 1262.5L692.8 1262L697.7 1261.4L699.9 1262.5L701.3 1259.8L704 1255.5L706.6 1254.9L705.3 1252.8L707.1 1251.7L712.5 1250.1L715.6 1247.4L717.8 1243.6L718.7 1239.2L718.3 1234.9L720.1 1231.6L722.7 1230M685.6 1274.4L687 1277.2L690.5 1274.4L693.2 1274.4L695 1271.7L692.8 1269.6L689.6 1269L687 1270.7L685.6 1274.4M673.1 1274.4L674.9 1278.2L674.4 1283.7L675.8 1285.8L677.6 1286.4L679.8 1284.7L680.7 1280.4L682.5 1276.6L681.1 1273.4L678.5 1271.2L675.8 1271.2L673.1 1274.4M629.7 1330.2L632.4 1335.7L633.7 1333L636 1327.5L637.8 1321.6L636.4 1317.8L633.7 1319.4L631.5 1323.2L629.7 1330.2M578.3 1350.8L582.3 1355.7L586.8 1353.5L589 1348.7L587.2 1346L582.8 1346.5L578.7 1348.7L578.3 1350.8M449.5 1421.3L449.9 1413.7L449.9 1404.5L452.2 1401.8L454.9 1407.2L457.1 1412.1L458.4 1416.9L456.2 1421.3L453.1 1422.9L449.5 1421.3M518.8 1424.5L524.2 1426.7L528.6 1426.7L532.2 1431.6L537.6 1437L541.6 1442.4L545.6 1445.1L550.1 1447.8L555 1452.1L556.8 1457.6L559.5 1461.9L561.7 1466.8L565.8 1471.6L566.7 1476.5L565.8 1486.3L560.4 1486.8L557.3 1481.9L550.6 1476.5L546.1 1470L543.8 1466.2L541.6 1460.8L538.9 1454.3L536.2 1449.4L534 1445.1L529.1 1440.2L524.6 1435.3L521.5 1431L518.8 1424.5M526.9 1443.5L530 1447.8L527.7 1450L526.9 1443.5M533.1 1456.5L535.4 1461.4L533.6 1460.3L533.1 1456.5M562.6 1463.5L566.7 1464.6L570.2 1470.6L566.7 1471.6L562.6 1463.5M563.1 1491.7L566.7 1486.8L571.1 1487.4L576.9 1489L582.3 1491.7L586.8 1492.2L589.9 1490.6L596.2 1492.2L600.2 1494.4L604.7 1496.6L604.2 1502L598.9 1499.8L593.5 1499.8L588.1 1498.7L582.3 1496.6L576.9 1497.1L571.1 1494.9L565.3 1492.2L563.1 1491.7M596.6 1492.2L601.1 1492.2L602.4 1493.3L598 1493.9L596.6 1492.2M604.7 1498.7L609.6 1500.4L607.8 1502.5L604.7 1498.7M611.4 1500.4L614.1 1499.8L613.6 1503.1L611.4 1500.4M615 1500.9L619.4 1498.7L624.8 1500.4L623 1502.5L617.6 1503.6L615 1500.9M628.4 1500.9L633.7 1499.8L640.4 1498.7L642.7 1500.4L636.4 1502.5L630.2 1502.5L628.4 1500.9M624.8 1506.9L631.5 1506.9L632.8 1510.1L627 1507.9L624.8 1506.9M644.9 1510.1L649.4 1506.3L653.9 1503.1L661.5 1500.4L656.1 1504.7L648.5 1510.1L644.9 1510.1M643.6 1500.4L647.2 1499.8L645.4 1501.4L643.6 1500.4M653.9 1497.1L659.2 1496L655.7 1498.2L653.9 1497.1M580.1 1446.7L582.8 1444L589 1446.2L591.3 1440.8L598 1437.5L602 1431L605.6 1428.3L608.7 1426.1L611.8 1422.3L614.5 1416.9L617.6 1419.1L619.4 1421.8L625.7 1426.1L622.1 1428.3L620.3 1431L619 1435.3L620.8 1441.8L624.3 1449.4L620.3 1450L618.1 1454.8L617.6 1459.2L614.1 1463L613.6 1468.9L611.8 1475.4L606.9 1476.5L604.7 1473.8L600.6 1472.7L597.1 1473.3L592.1 1471.1L589 1471.1L585.4 1470.6L585 1464.6L582.3 1460.3L581 1454.8L580.1 1450.5L580.1 1446.7M626.6 1485.2L627.5 1478.7L627.5 1473.3L624.3 1471.1L623.9 1468.9L626.6 1463L628.4 1456.5L628.4 1452.1L630.6 1450L633.3 1447.8L638.2 1449.4L643.6 1450L648.5 1448.3L652.1 1446.2L650.7 1450L647.2 1452.1L641.8 1452.1L636 1452.1L630.6 1453.2L630.2 1457.6L632 1461.4L636.4 1459.7L640.4 1458.6L644 1459.7L641.3 1461.9L637.3 1464.6L638.7 1471.1L640.4 1475.4L643.1 1479.2L640.9 1483L638.2 1479.8L635.5 1479.8L633.7 1476.5L633.3 1471.1L631.1 1470.6L631.1 1479.8L631.1 1484.6L626.6 1485.2M663.3 1445.1L665 1442.9L665 1447.3L668.2 1447.8L665 1450.5L668.6 1453.2L665.5 1454.8L664.6 1459.2L663.3 1453.8L662.4 1449.4L663.3 1445.1M656.1 1471.6L660.6 1472.2L660.1 1475.4L656.1 1474.4L656.1 1471.6M665.5 1470.6L671.8 1470L677.6 1472.2L676.7 1474.4L670.9 1473.3L665.5 1473.3L665.5 1470.6M648.5 1463.5L656.1 1464.1L652.5 1465.7L648.5 1463.5M692.8 1485.2L695.5 1486.3L694.6 1491.7L692.3 1490.1L692.8 1485.2M679.4 1493.9L681.6 1493.3L680.2 1498.2L679.4 1493.9M632 1354.6L636 1354.1L639.6 1355.2L639.1 1361.7L640 1367.1L636.4 1369.8L635.5 1375.8L636.9 1378.5L640 1377.9L642.7 1380.6L646.7 1381.2L647.6 1384.4L644 1383.9L640.9 1381.2L637.3 1379.5L634.2 1380.6L632 1377.4L633.3 1374.7L631.1 1374.1L629.3 1369.3L628.4 1366.5L630.6 1366L631.1 1360L632 1354.6M648.5 1386.6L651.6 1387.1L654.8 1393.6L651.6 1394.7L649.8 1392.5L648.5 1386.6M648.9 1393.1L651.6 1395.3L652.5 1399.6L650.7 1400.1L648.5 1395.8L648.9 1393.1M638.2 1390.9L642.2 1392.5L640.9 1397.4L637.8 1398L638.2 1390.9M640.4 1397.4L643.6 1395.8L644.9 1400.7L643.1 1405.6L640 1402.3L640.4 1397.4M644.5 1397.4L647.2 1395.3L647.2 1400.7L644.9 1402.3L644.5 1397.4M630.6 1381.7L635.1 1382.8L636 1386.6L633.7 1388.2L630.6 1381.7M616.7 1409.3L620.3 1405.6L623.9 1401.2L627 1397.4L627.5 1393.6L625.2 1397.4L621.7 1400.7L618.1 1405.6L616.7 1409.3M638.2 1416.9L641.8 1413.7L645.4 1412.6L646.3 1408.8L650.3 1408.3L653.9 1402.8L657.4 1405L658.8 1413.1L657 1419.6L654.3 1422.3L653 1424.5L648.1 1421.3L647.2 1417.5L644 1413.7L640.9 1415.8L638.2 1416.9M678 1459.7L682.5 1457L686.5 1457L691.9 1459.2L692.8 1466.8L696.4 1472.7L699 1471.1L702.6 1466.8L707.5 1463L711.6 1465.1L716 1466.8L720.9 1468.4L725.4 1469.5L730.3 1472.7L734.8 1474.4L739.3 1476.5L743.8 1480.9L744.7 1484.6L749.1 1487.4L752.7 1488.4L753.6 1491.7L750.9 1494.9L755.4 1498.7L757.2 1503.6L760.3 1505.8L763 1509.6L766.1 1511.7L762.5 1511.2L757.2 1510.1L752.3 1508.5L750 1505.2L746.9 1501.4L741.1 1497.1L736.6 1496.6L734.8 1499.3L733 1503.6L729.4 1504.7L723.6 1504.1L719.2 1499.3L714.7 1498.7L710.7 1500.4L708.4 1497.1L712 1494.4L712.9 1491.1L709.8 1485.2L705.3 1481.9L699.9 1479.8L695.5 1477.1L690.5 1475.4L687 1477.1L684.3 1472.2L682.9 1470L687.4 1468.4L690.5 1466.8L685.6 1466.8L682 1463.5L679.4 1462.4L678 1459.7M698.1 1458.1L702.2 1460.3L699 1461.4L698.1 1458.1M676.2 1459.7L678.5 1461.4L676.7 1462.4L676.2 1459.7M755.8 1484.6L761.2 1485.2L765.7 1484.1L770.1 1480.9L773.7 1477.6L772.4 1483L767.9 1486.3L763.4 1489L758.5 1488.4L755.8 1484.6M767 1468.9L771.5 1472.2L775.5 1475.4L777.7 1479.8L776 1480.3L773.3 1476.5L769.2 1472.2L767 1468.9M784 1483.6L788 1487.4L790.3 1491.7L787.1 1491.1L784.5 1486.8L784 1483.6M806.4 1499.8L811.7 1503.6L810.8 1505.8L806.8 1504.1L806.4 1499.8M810.8 1500.9L814 1505.2L812.6 1506.3L810.8 1500.9M814 1510.1L818.4 1513.4L815.3 1512.3L814 1510.1M749.1 1465.7L751.8 1465.7L750.5 1466.8L749.1 1465.7M837.7 1533.9L840.4 1536.7L839.5 1539.4L837.7 1537.2L837.7 1533.9M842.6 1541.5L844.8 1544.2L843 1544.8L842.6 1541.5M885.5 1550.2L889.6 1548.6L891.3 1552.4L887.8 1554L885.5 1551.8L885.5 1550.2M891.3 1544.8L895.4 1544.2L897.6 1543.2L894.5 1546.4L891.3 1544.8M826 1564.3L830.5 1567.5L835 1571.3L837.2 1575.7L828.3 1568.6L826 1564.3M600.2 1574L602.9 1573L606.9 1570.8L611.4 1567.5L618.1 1567L623.9 1564.3L629.3 1562.1L635.1 1559.4L639.1 1552.4L640 1548L644.5 1546.9L645.4 1542.6L648.9 1542.6L649.8 1538.3L653.4 1533.9L657 1531.2L661 1530.2L664.6 1534.5L666.8 1536.1L670.9 1535.6L673.1 1531.8L673.5 1527.4L675.3 1524.2L678 1521.5L680.7 1520.9L684.3 1519.9L685.6 1516.6L688.3 1518.2L691.9 1519.9L695.5 1519.9L699.9 1519.9L703.5 1519.3L704.4 1521.5L703.1 1525.8L699.9 1528.5L700.4 1533.4L698.1 1536.1L702.2 1539.4L706.2 1542.1L710.2 1545.3L714.2 1548.6L717.8 1550.2L721.4 1550.2L724.5 1544.8L725.4 1538.3L725.9 1530.7L725.4 1524.2L727.2 1519.3L728.5 1513.9L729.9 1512.8L731.2 1516.1L732.6 1519.9L733.9 1524.7L734.4 1529.1L735.7 1532.9L738.4 1531.8L740.6 1533.9L742.4 1536.7L742.9 1541.5L745.1 1546.4L746.4 1553.4L747.3 1557.8L750.9 1559.9L754.5 1562.7L757.6 1565.4L759.9 1568.6L762.1 1576.2M674 1517.7L677.6 1516.1L680.7 1516.6L678 1519.3L674.9 1519.3L674 1517.7M703.1 1529.6L704.8 1529.6L704.4 1531.8L703.1 1529.6" fill="none" stroke="#959595" stroke-width="2.1" stroke-linejoin="round" stroke-linecap="round"/><path d="M382 1266.2L382.9 1262.9L385.3 1262.1L388 1262.5L390.2 1261.4L392.6 1262.1L394.8 1261.6L397.1 1260.1L399.9 1259.9L401.8 1257.2L404.7 1255.9L404.8 1252.3L403.5 1249.4L401.8 1247.9L399.9 1246.2L396.9 1247.4L393.9 1247.2L389.8 1246.9L389.4 1245.6L391 1243.8L392.9 1242.2L395.3 1242.7L397.2 1240.6L399.8 1241.5L401.8 1240L404.2 1239.3L406.7 1238.7L409.3 1238.6L412 1238.9L413.9 1237.1L416.5 1236.9L418.9 1236.2L420.7 1234.2L416.8 1232.3L414.4 1233L412.1 1232.8L409.9 1232.4L406.6 1232L403.3 1232.9L401.5 1229.4L402.3 1225.6L405 1224.9L407.8 1224.1L410.2 1224.9L412.5 1224.6L414.7 1223.6L417.5 1223.9L420.1 1223.5L422.8 1223.8L425.1 1223.3L427.3 1222.3L429.9 1223.3L432.5 1221.1L435.7 1221L438.7 1221.5L441.6 1220.3L444.6 1220.7L447.5 1219.7L450.3 1220.6L452.9 1220.6L455.6 1220L458.6 1220.4L461.4 1219.2L464.6 1217.8L462.1 1217.2L459.5 1216.4L456.9 1216.3L454.3 1215.3L451.7 1214.7L449.2 1215.2L447 1214.6L444.1 1215.1L442.8 1212.9L446.5 1211.2L449.1 1212.4L451.8 1212.6L454.4 1212.2L456.8 1211.4L459 1210.8L462.6 1211.6L464.5 1215.5L467.6 1215.6L470.6 1216.3L473.6 1216.7L476.2 1218.6L479 1218.4L481.3 1219.6L483.5 1222.6L481 1224.2L478 1225.6L475.1 1225L472.7 1225.8L470.4 1226.2L468.1 1226.5L465.8 1226.6L463.6 1227.9L461.2 1228.1L458.9 1228.6L456.3 1228.2L453.9 1228.9L452.1 1231.2L449.8 1232L447.1 1232.8L444.4 1233.6L441.6 1234L439.3 1234.5L437.1 1235.8L435 1236.8L431.7 1237.3L428.8 1238.6L426.7 1239.6L424 1241.4L425.7 1243.3L427.3 1245.4L429.9 1248.5L431.7 1250.5L434 1251.6L435.7 1254.1L438.1 1255L440.5 1256.3L442.7 1256.8L445.2 1256.6L447.4 1257.2L449.6 1257.2L451.9 1258.1L454.2 1257.1L456.3 1257.2L459 1256.3L461.6 1255.2L464.4 1254.4L466.4 1253.1L468.6 1252.2L471 1251.6L473.2 1250.7L475.8 1250.1L478.1 1248.5L481.1 1249L483.4 1247.5L485.7 1246L488.2 1245.4L490.8 1244.8L493.3 1244.1L495.7 1243.2L498.4 1244L500.9 1243.7L503.2 1242.3L505.5 1241.8L507.6 1240.7L509.8 1240.2L512.2 1240.1L514.8 1239.5L517.6 1240L520.2 1238.4L522.9 1238.5L525.4 1240.5L528.1 1240L530.6 1240.3L532.6 1241.9L535.2 1242L537 1243.8L538.9 1245.7L541.2 1246.6L543.6 1247.5L546.2 1248L548.1 1249.3L550.3 1250.1L551.7 1252.2L553.9 1252.9L554.3 1253.9L551.2 1256.5L553.4 1259L554 1262L555.1 1264.5L556.1 1267.4L557 1270.4L558.2 1273.4L559.5 1276.1L559.6 1279.3L558.3 1282.1L556.9 1284.3L555.8 1286.6L554.4 1288.3L553.2 1290.9L552.5 1293.5L551.1 1295.9L549.7 1297.7L549.6 1300.1L547.8 1301.7L547 1303.4L544.9 1305.4L543.5 1308.2L541.7 1309.6L539.7 1310.8L537.8 1312L535.8 1313.4L533.7 1314.2L533.1 1311.9L532 1309.6L530.1 1308.1L529.1 1306.1L527.7 1303.9L524.3 1303.9L521.7 1301.8L519.8 1300L517 1298.7L514.3 1299.6L511.6 1300.9L509.8 1302.9L507.1 1303.5L504.7 1305.3L501.7 1305.5L499.2 1306.1L496.7 1307.5L494 1307.8L491.5 1307.2L488.7 1307.2L485.9 1307.8L483.2 1307.4L480.5 1306.5L478.3 1304.2L475.6 1303.5L472.6 1303.8L470.3 1301.9L467.8 1300.8L464.9 1300.2L462.1 1299.5L459.6 1298L457.2 1297.2L455 1296L454 1293.2L451.7 1292.3L449.7 1290.9L448.3 1288.9L445.8 1288.1L444.3 1285.9L442.3 1285L439.8 1285L437.9 1283.9L435.9 1282.8L433.8 1281.6L432.2 1279.8L429.7 1278.8L428.9 1276.6L427.4 1274.9L427.5 1272.1L424.6 1270.4L422.7 1267.9L420.3 1266.1L418 1263.9L415.2 1264.1L412.9 1262.6L410.2 1262.6L407.8 1263.4L405.4 1264.2L403 1266.2L399.9 1266.7L397.9 1268.1L396 1269.3L393.4 1269.5L392.4 1271.5L390.5 1273.9L389.3 1276.3L387.5 1274.8L385.7 1273.3L384.8 1271.2L383.7 1269.2L382 1266.2" fill="none" stroke="#252525" stroke-width="1.9" stroke-linejoin="round"/>
</g>
<rect x="92.6" y="1129.8" width="805" height="433.4" fill="none" stroke="#000" stroke-width="2.2"/>
<path d="M83.6 1129.8H92.6M83.6 1238.1H92.6M83.6 1346.5H92.6M83.6 1454.8H92.6M83.6 1563.2H92.6M92.6 1563.2V1572.2M226.8 1563.2V1572.2M360.9 1563.2V1572.2M495.1 1563.2V1572.2M629.3 1563.2V1572.2M763.4 1563.2V1572.2M897.6 1563.2V1572.2" stroke="#000" stroke-width="2" fill="none"/>
<text transform="scale(0.85,1)" x="30" y="1140.8" font-size="33" textLength="58.8" lengthAdjust="spacing" stroke="#000" stroke-width="0.35">60N</text>
<text transform="scale(0.85,1)" x="30" y="1249.1" font-size="33" textLength="58.8" lengthAdjust="spacing" stroke="#000" stroke-width="0.35">40N</text>
<text transform="scale(0.85,1)" x="30" y="1357.5" font-size="33" textLength="58.8" lengthAdjust="spacing" stroke="#000" stroke-width="0.35">20N</text>
<text transform="scale(0.72,1)" x="56.9" y="1465.8" font-size="33" textLength="47.9" lengthAdjust="spacing" stroke="#000" stroke-width="0.35">EQ</text>
<text transform="scale(0.85,1)" x="33.5" y="1574.2" font-size="33" textLength="55.3" lengthAdjust="spacing" stroke="#000" stroke-width="0.35">20S</text>
<text transform="scale(0.85,1)" x="99.8" y="1599.2" font-size="33" textLength="18.2" lengthAdjust="spacing" stroke="#000" stroke-width="0.35">0</text>
<text transform="scale(0.85,1)" x="239.1" y="1599.2" font-size="33" textLength="55.3" lengthAdjust="spacing" stroke="#000" stroke-width="0.35">30E</text>
<text transform="scale(0.85,1)" x="397" y="1599.2" font-size="33" textLength="55.3" lengthAdjust="spacing" stroke="#000" stroke-width="0.35">60E</text>
<text transform="scale(0.85,1)" x="554.8" y="1599.2" font-size="33" textLength="55.3" lengthAdjust="spacing" stroke="#000" stroke-width="0.35">90E</text>
<text transform="scale(0.85,1)" x="702.7" y="1599.2" font-size="33" textLength="75.3" lengthAdjust="spacing" stroke="#000" stroke-width="0.35">120E</text>
<text transform="scale(0.85,1)" x="860.5" y="1599.2" font-size="33" textLength="75.3" lengthAdjust="spacing" stroke="#000" stroke-width="0.35">150E</text>
<text transform="scale(0.85,1)" x="1028.9" y="1599.2" font-size="33" textLength="54.1" lengthAdjust="spacing" stroke="#000" stroke-width="0.35">180</text>
<text transform="scale(0.92,1)" x="97.9" y="1117.6" font-size="35" textLength="502.1" lengthAdjust="spacing" word-spacing="5" stroke="#000" stroke-width="0.35">(c) Specific Humidity(400 hPa)</text>
<text transform="scale(0.92,1)" x="809" y="1117" font-size="35" textLength="167.4" lengthAdjust="spacing" word-spacing="5" stroke="#000" stroke-width="0.35">Unit: g/kg</text>
<rect x="916.8" y="1528.1" width="15.6" height="33.4" fill="#4a6fb0"/>
<rect x="916.8" y="1494.9" width="15.6" height="33.4" fill="#5a8cc3"/>
<rect x="916.8" y="1461.8" width="15.6" height="33.4" fill="#74aad3"/>
<rect x="916.8" y="1428.7" width="15.6" height="33.4" fill="#8cc0dc"/>
<rect x="916.8" y="1395.5" width="15.6" height="33.4" fill="#abd6e8"/>
<rect x="916.8" y="1362.4" width="15.6" height="33.4" fill="#c8e6f1"/>
<rect x="916.8" y="1329.3" width="15.6" height="33.4" fill="#deece9"/>
<rect x="916.8" y="1296.2" width="15.6" height="33.4" fill="#fed98c"/>
<rect x="916.8" y="1263" width="15.6" height="33.4" fill="#fdbc72"/>
<rect x="916.8" y="1229.9" width="15.6" height="33.4" fill="#fa9f5c"/>
<rect x="916.8" y="1196.8" width="15.6" height="33.4" fill="#f57e4e"/>
<rect x="916.8" y="1163.6" width="15.6" height="33.4" fill="#ee5a3c"/>
<rect x="916.8" y="1130.5" width="15.6" height="33.4" fill="#d93a2c"/>
<path d="M916.8 1528.1H932.4M916.8 1494.9H932.4M916.8 1461.8H932.4M916.8 1428.7H932.4M916.8 1395.5H932.4M916.8 1362.4H932.4M916.8 1329.3H932.4M916.8 1296.2H932.4M916.8 1263H932.4M916.8 1229.9H932.4M916.8 1196.8H932.4M916.8 1163.6H932.4" stroke="#111" stroke-width="1.8" fill="none"/>
<rect x="916.8" y="1130.5" width="15.6" height="430.7" fill="none" stroke="#1a1a1a" stroke-width="1.9"/>
<text transform="scale(1.0,1)" x="938" y="1534.9" font-size="20" textLength="24" lengthAdjust="spacing" font-weight="bold">0.2</text>
<text transform="scale(1.0,1)" x="938" y="1501.7" font-size="20" textLength="24" lengthAdjust="spacing" font-weight="bold">0.4</text>
<text transform="scale(1.0,1)" x="938" y="1468.6" font-size="20" textLength="24" lengthAdjust="spacing" font-weight="bold">0.6</text>
<text transform="scale(1.0,1)" x="938" y="1435.5" font-size="20" textLength="24" lengthAdjust="spacing" font-weight="bold">0.8</text>
<text transform="scale(1.0,1)" x="938" y="1402.3" font-size="20" textLength="6.5" lengthAdjust="spacing" font-weight="bold">1</text>
<text transform="scale(1.0,1)" x="938" y="1369.2" font-size="20" textLength="24" lengthAdjust="spacing" font-weight="bold">1.2</text>
<text transform="scale(1.0,1)" x="938" y="1336.1" font-size="20" textLength="24" lengthAdjust="spacing" font-weight="bold">1.4</text>
<text transform="scale(1.0,1)" x="938" y="1303" font-size="20" textLength="24" lengthAdjust="spacing" font-weight="bold">1.6</text>
<text transform="scale(1.0,1)" x="938" y="1269.8" font-size="20" textLength="24" lengthAdjust="spacing" font-weight="bold">1.8</text>
<text transform="scale(1.0,1)" x="938" y="1236.7" font-size="20" textLength="10" lengthAdjust="spacing" font-weight="bold">2</text>
<text transform="scale(1.0,1)" x="938" y="1203.6" font-size="20" textLength="24" lengthAdjust="spacing" font-weight="bold">2.2</text>
<text transform="scale(1.0,1)" x="938" y="1170.4" font-size="20" textLength="24" lengthAdjust="spacing" font-weight="bold">2.4</text>
</svg>
</body></html>
